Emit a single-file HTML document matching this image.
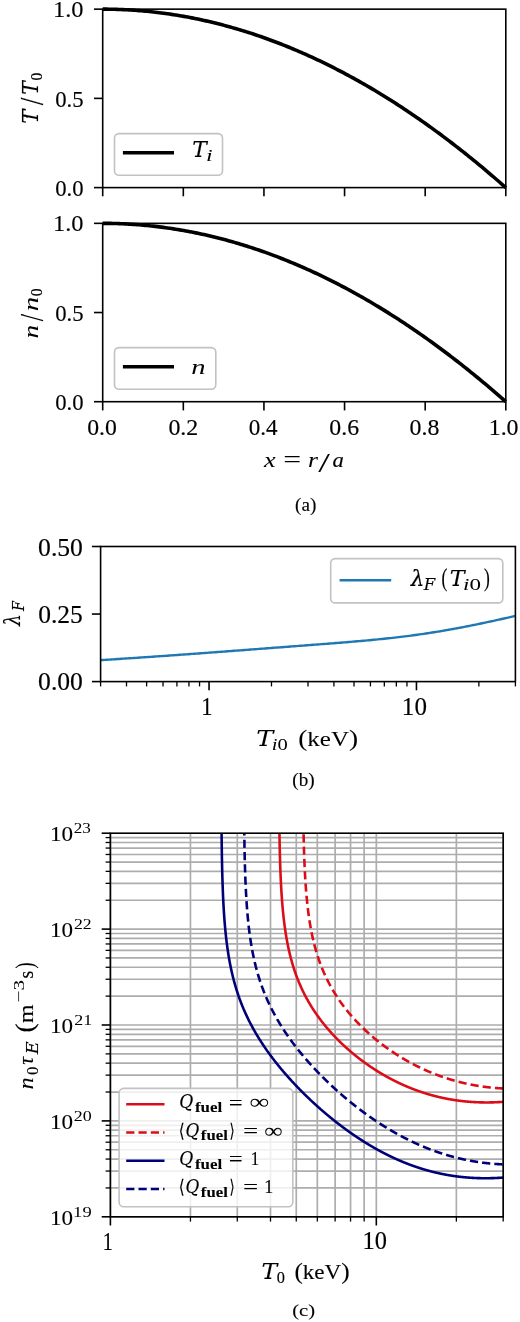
<!DOCTYPE html>
<html><head><meta charset="utf-8"><style>
html,body{margin:0;padding:0;background:#fff;}
svg{display:block;}
</style></head><body>
<svg width="520" height="1322" viewBox="0 0 520 1322">
<rect width="520" height="1322" fill="#fff"/>
<g clip-path="none">
<path d="M102.70,9.15 L104.73,9.15 L106.75,9.17 L108.78,9.19 L110.80,9.22 L112.83,9.26 L114.85,9.31 L116.88,9.37 L118.91,9.44 L120.93,9.52 L122.96,9.60 L124.98,9.70 L127.01,9.80 L129.03,9.91 L131.06,10.03 L133.08,10.16 L135.11,10.30 L137.14,10.45 L139.16,10.61 L141.19,10.78 L143.21,10.95 L145.24,11.14 L147.26,11.33 L149.29,11.53 L151.32,11.75 L153.34,11.97 L155.37,12.20 L157.39,12.44 L159.42,12.68 L161.44,12.94 L163.47,13.21 L165.49,13.48 L167.52,13.76 L169.55,14.06 L171.57,14.36 L173.60,14.67 L175.62,14.99 L177.65,15.32 L179.67,15.66 L181.70,16.00 L183.73,16.36 L185.75,16.72 L187.78,17.10 L189.80,17.48 L191.83,17.87 L193.85,18.28 L195.88,18.69 L197.90,19.10 L199.93,19.53 L201.96,19.97 L203.98,20.42 L206.01,20.87 L208.03,21.33 L210.06,21.81 L212.08,22.29 L214.11,22.78 L216.14,23.28 L218.16,23.79 L220.19,24.31 L222.21,24.84 L224.24,25.37 L226.26,25.92 L228.29,26.47 L230.31,27.04 L232.34,27.61 L234.37,28.19 L236.39,28.78 L238.42,29.38 L240.44,29.99 L242.47,30.60 L244.49,31.23 L246.52,31.87 L248.55,32.51 L250.57,33.16 L252.60,33.83 L254.62,34.50 L256.65,35.18 L258.67,35.87 L260.70,36.57 L262.72,37.27 L264.75,37.99 L266.78,38.72 L268.80,39.45 L270.83,40.19 L272.85,40.95 L274.88,41.71 L276.90,42.48 L278.93,43.26 L280.96,44.05 L282.98,44.84 L285.01,45.65 L287.03,46.47 L289.06,47.29 L291.08,48.12 L293.11,48.97 L295.13,49.82 L297.16,50.68 L299.19,51.55 L301.21,52.43 L303.24,53.32 L305.26,54.21 L307.29,55.12 L309.31,56.03 L311.34,56.96 L313.37,57.89 L315.39,58.83 L317.42,59.78 L319.44,60.74 L321.47,61.71 L323.49,62.69 L325.52,63.68 L327.54,64.67 L329.57,65.68 L331.60,66.69 L333.62,67.71 L335.65,68.74 L337.67,69.79 L339.70,70.84 L341.72,71.89 L343.75,72.96 L345.78,74.04 L347.80,75.13 L349.83,76.22 L351.85,77.32 L353.88,78.44 L355.90,79.56 L357.93,80.69 L359.95,81.83 L361.98,82.98 L364.01,84.14 L366.03,85.30 L368.06,86.48 L370.08,87.67 L372.11,88.86 L374.13,90.06 L376.16,91.28 L378.19,92.50 L380.21,93.73 L382.24,94.97 L384.26,96.21 L386.29,97.47 L388.31,98.74 L390.34,100.01 L392.36,101.30 L394.39,102.59 L396.42,103.89 L398.44,105.20 L400.47,106.52 L402.49,107.85 L404.52,109.19 L406.54,110.54 L408.57,111.90 L410.60,113.26 L412.62,114.64 L414.65,116.02 L416.67,117.41 L418.70,118.81 L420.72,120.22 L422.75,121.64 L424.77,123.07 L426.80,124.51 L428.83,125.96 L430.85,127.41 L432.88,128.88 L434.90,130.35 L436.93,131.83 L438.95,133.32 L440.98,134.82 L443.01,136.33 L445.03,137.85 L447.06,139.38 L449.08,140.92 L451.11,142.46 L453.13,144.02 L455.16,145.58 L457.18,147.15 L459.21,148.73 L461.24,150.32 L463.26,151.92 L465.29,153.53 L467.31,155.15 L469.34,156.78 L471.36,158.41 L473.39,160.06 L475.42,161.71 L477.44,163.37 L479.47,165.05 L481.49,166.73 L483.52,168.42 L485.54,170.12 L487.57,171.82 L489.59,173.54 L491.62,175.27 L493.65,177.00 L495.67,178.75 L497.70,180.50 L499.72,182.26 L501.75,184.03 L503.77,185.81 L505.80,187.60" fill="none" stroke="#000" stroke-width="3.6" stroke-linejoin="round" stroke-linecap="butt"/>
</g>
<rect x="102.70" y="9.15" width="403.10" height="178.45" fill="none" stroke="#000" stroke-width="1.6"/>
<line x1="94.00" y1="187.60" x2="102.70" y2="187.60" stroke="#000" stroke-width="1.6" />
<line x1="94.00" y1="98.38" x2="102.70" y2="98.38" stroke="#000" stroke-width="1.6" />
<line x1="94.00" y1="9.15" x2="102.70" y2="9.15" stroke="#000" stroke-width="1.6" />
<line x1="102.70" y1="187.60" x2="102.70" y2="196.30" stroke="#000" stroke-width="1.6" />
<line x1="183.32" y1="187.60" x2="183.32" y2="196.30" stroke="#000" stroke-width="1.6" />
<line x1="263.94" y1="187.60" x2="263.94" y2="196.30" stroke="#000" stroke-width="1.6" />
<line x1="344.56" y1="187.60" x2="344.56" y2="196.30" stroke="#000" stroke-width="1.6" />
<line x1="425.18" y1="187.60" x2="425.18" y2="196.30" stroke="#000" stroke-width="1.6" />
<line x1="505.80" y1="187.60" x2="505.80" y2="196.30" stroke="#000" stroke-width="1.6" />
<g clip-path="none">
<path d="M102.70,223.35 L104.73,223.35 L106.75,223.37 L108.78,223.39 L110.80,223.42 L112.83,223.46 L114.85,223.51 L116.88,223.57 L118.91,223.64 L120.93,223.71 L122.96,223.80 L124.98,223.89 L127.01,224.00 L129.03,224.11 L131.06,224.23 L133.08,224.36 L135.11,224.50 L137.14,224.65 L139.16,224.81 L141.19,224.98 L143.21,225.15 L145.24,225.34 L147.26,225.53 L149.29,225.73 L151.32,225.94 L153.34,226.16 L155.37,226.39 L157.39,226.63 L159.42,226.88 L161.44,227.14 L163.47,227.40 L165.49,227.68 L167.52,227.96 L169.55,228.25 L171.57,228.56 L173.60,228.87 L175.62,229.19 L177.65,229.52 L179.67,229.85 L181.70,230.20 L183.73,230.56 L185.75,230.92 L187.78,231.29 L189.80,231.68 L191.83,232.07 L193.85,232.47 L195.88,232.88 L197.90,233.30 L199.93,233.73 L201.96,234.16 L203.98,234.61 L206.01,235.06 L208.03,235.53 L210.06,236.00 L212.08,236.48 L214.11,236.97 L216.14,237.47 L218.16,237.98 L220.19,238.50 L222.21,239.03 L224.24,239.56 L226.26,240.11 L228.29,240.66 L230.31,241.23 L232.34,241.80 L234.37,242.38 L236.39,242.97 L238.42,243.57 L240.44,244.17 L242.47,244.79 L244.49,245.42 L246.52,246.05 L248.55,246.70 L250.57,247.35 L252.60,248.01 L254.62,248.68 L256.65,249.36 L258.67,250.05 L260.70,250.75 L262.72,251.46 L264.75,252.17 L266.78,252.90 L268.80,253.63 L270.83,254.38 L272.85,255.13 L274.88,255.89 L276.90,256.66 L278.93,257.44 L280.96,258.23 L282.98,259.02 L285.01,259.83 L287.03,260.64 L289.06,261.47 L291.08,262.30 L293.11,263.14 L295.13,264.00 L297.16,264.86 L299.19,265.73 L301.21,266.60 L303.24,267.49 L305.26,268.39 L307.29,269.29 L309.31,270.21 L311.34,271.13 L313.37,272.06 L315.39,273.00 L317.42,273.95 L319.44,274.91 L321.47,275.88 L323.49,276.86 L325.52,277.84 L327.54,278.84 L329.57,279.84 L331.60,280.86 L333.62,281.88 L335.65,282.91 L337.67,283.95 L339.70,285.00 L341.72,286.06 L343.75,287.13 L345.78,288.20 L347.80,289.29 L349.83,290.38 L351.85,291.49 L353.88,292.60 L355.90,293.72 L357.93,294.85 L359.95,295.99 L361.98,297.14 L364.01,298.30 L366.03,299.46 L368.06,300.64 L370.08,301.82 L372.11,303.02 L374.13,304.22 L376.16,305.43 L378.19,306.65 L380.21,307.88 L382.24,309.12 L384.26,310.37 L386.29,311.62 L388.31,312.89 L390.34,314.16 L392.36,315.45 L394.39,316.74 L396.42,318.04 L398.44,319.35 L400.47,320.67 L402.49,322.00 L404.52,323.34 L406.54,324.68 L408.57,326.04 L410.60,327.40 L412.62,328.78 L414.65,330.16 L416.67,331.55 L418.70,332.95 L420.72,334.36 L422.75,335.78 L424.77,337.21 L426.80,338.64 L428.83,340.09 L430.85,341.54 L432.88,343.01 L434.90,344.48 L436.93,345.96 L438.95,347.45 L440.98,348.95 L443.01,350.46 L445.03,351.98 L447.06,353.51 L449.08,355.04 L451.11,356.59 L453.13,358.14 L455.16,359.70 L457.18,361.28 L459.21,362.86 L461.24,364.45 L463.26,366.04 L465.29,367.65 L467.31,369.27 L469.34,370.89 L471.36,372.53 L473.39,374.17 L475.42,375.83 L477.44,377.49 L479.47,379.16 L481.49,380.84 L483.52,382.53 L485.54,384.23 L487.57,385.93 L489.59,387.65 L491.62,389.37 L493.65,391.11 L495.67,392.85 L497.70,394.60 L499.72,396.36 L501.75,398.13 L503.77,399.91 L505.80,401.70" fill="none" stroke="#000" stroke-width="3.6" stroke-linejoin="round" stroke-linecap="butt"/>
</g>
<rect x="102.70" y="223.35" width="403.10" height="178.35" fill="none" stroke="#000" stroke-width="1.6"/>
<line x1="94.00" y1="401.70" x2="102.70" y2="401.70" stroke="#000" stroke-width="1.6" />
<line x1="94.00" y1="312.52" x2="102.70" y2="312.52" stroke="#000" stroke-width="1.6" />
<line x1="94.00" y1="223.35" x2="102.70" y2="223.35" stroke="#000" stroke-width="1.6" />
<line x1="102.70" y1="401.70" x2="102.70" y2="410.40" stroke="#000" stroke-width="1.6" />
<line x1="183.32" y1="401.70" x2="183.32" y2="410.40" stroke="#000" stroke-width="1.6" />
<line x1="263.94" y1="401.70" x2="263.94" y2="410.40" stroke="#000" stroke-width="1.6" />
<line x1="344.56" y1="401.70" x2="344.56" y2="410.40" stroke="#000" stroke-width="1.6" />
<line x1="425.18" y1="401.70" x2="425.18" y2="410.40" stroke="#000" stroke-width="1.6" />
<line x1="505.80" y1="401.70" x2="505.80" y2="410.40" stroke="#000" stroke-width="1.6" />
<path d="M100.60,660.13 L102.68,660.00 L104.77,659.87 L106.85,659.74 L108.94,659.60 L111.02,659.47 L113.11,659.34 L115.19,659.20 L117.28,659.07 L119.36,658.93 L121.44,658.80 L123.53,658.66 L125.61,658.53 L127.70,658.39 L129.78,658.25 L131.87,658.11 L133.95,657.97 L136.04,657.83 L138.12,657.69 L140.20,657.55 L142.29,657.41 L144.37,657.27 L146.46,657.13 L148.54,656.99 L150.63,656.85 L152.71,656.70 L154.79,656.56 L156.88,656.41 L158.96,656.27 L161.05,656.12 L163.13,655.98 L165.22,655.83 L167.30,655.69 L169.39,655.54 L171.47,655.39 L173.55,655.24 L175.64,655.09 L177.72,654.95 L179.81,654.80 L181.89,654.65 L183.98,654.50 L186.06,654.35 L188.15,654.20 L190.23,654.05 L192.31,653.89 L194.40,653.74 L196.48,653.59 L198.57,653.44 L200.65,653.29 L202.74,653.13 L204.82,652.98 L206.91,652.83 L208.99,652.67 L211.07,652.52 L213.16,652.36 L215.24,652.21 L217.33,652.05 L219.41,651.90 L221.50,651.74 L223.58,651.59 L225.67,651.43 L227.75,651.27 L229.83,651.12 L231.92,650.96 L234.00,650.81 L236.09,650.65 L238.17,650.49 L240.26,650.33 L242.34,650.18 L244.43,650.02 L246.51,649.86 L248.59,649.71 L250.68,649.55 L252.76,649.39 L254.85,649.23 L256.93,649.08 L259.02,648.92 L261.10,648.76 L263.18,648.60 L265.27,648.45 L267.35,648.29 L269.44,648.13 L271.52,647.97 L273.61,647.81 L275.69,647.66 L277.78,647.50 L279.86,647.34 L281.94,647.18 L284.03,647.03 L286.11,646.87 L288.20,646.71 L290.28,646.55 L292.37,646.40 L294.45,646.24 L296.54,646.08 L298.62,645.92 L300.70,645.76 L302.79,645.61 L304.87,645.45 L306.96,645.29 L309.04,645.13 L311.13,644.97 L313.21,644.81 L315.30,644.65 L317.38,644.49 L319.46,644.33 L321.55,644.17 L323.63,644.01 L325.72,643.85 L327.80,643.69 L329.89,643.53 L331.97,643.36 L334.06,643.20 L336.14,643.03 L338.22,642.87 L340.31,642.70 L342.39,642.53 L344.48,642.36 L346.56,642.19 L348.65,642.02 L350.73,641.84 L352.82,641.67 L354.90,641.49 L356.98,641.31 L359.07,641.13 L361.15,640.94 L363.24,640.76 L365.32,640.57 L367.41,640.38 L369.49,640.19 L371.57,639.99 L373.66,639.79 L375.74,639.59 L377.83,639.38 L379.91,639.17 L382.00,638.96 L384.08,638.75 L386.17,638.53 L388.25,638.30 L390.33,638.08 L392.42,637.85 L394.50,637.61 L396.59,637.37 L398.67,637.13 L400.76,636.88 L402.84,636.63 L404.93,636.37 L407.01,636.11 L409.09,635.84 L411.18,635.57 L413.26,635.29 L415.35,635.01 L417.43,634.72 L419.52,634.43 L421.60,634.13 L423.69,633.83 L425.77,633.52 L427.85,633.21 L429.94,632.89 L432.02,632.56 L434.11,632.23 L436.19,631.90 L438.28,631.56 L440.36,631.21 L442.45,630.86 L444.53,630.51 L446.61,630.14 L448.70,629.78 L450.78,629.41 L452.87,629.03 L454.95,628.65 L457.04,628.26 L459.12,627.87 L461.21,627.48 L463.29,627.08 L465.37,626.67 L467.46,626.26 L469.54,625.85 L471.63,625.43 L473.71,625.01 L475.80,624.58 L477.88,624.16 L479.96,623.72 L482.05,623.29 L484.13,622.85 L486.22,622.40 L488.30,621.95 L490.39,621.50 L492.47,621.05 L494.56,620.59 L496.64,620.14 L498.72,619.67 L500.81,619.21 L502.89,618.74 L504.98,618.27 L507.06,617.80 L509.15,617.33 L511.23,616.85 L513.32,616.37 L515.40,615.89" fill="none" stroke="#1f77b4" stroke-width="2.4" stroke-linejoin="round" />
<rect x="100.60" y="546.50" width="414.80" height="135.10" fill="none" stroke="#000" stroke-width="1.6"/>
<line x1="91.90" y1="681.60" x2="100.60" y2="681.60" stroke="#000" stroke-width="1.6" />
<line x1="91.90" y1="614.05" x2="100.60" y2="614.05" stroke="#000" stroke-width="1.6" />
<line x1="91.90" y1="546.50" x2="100.60" y2="546.50" stroke="#000" stroke-width="1.6" />
<line x1="209.05" y1="681.60" x2="209.05" y2="690.30" stroke="#000" stroke-width="1.6" />
<line x1="416.45" y1="681.60" x2="416.45" y2="690.30" stroke="#000" stroke-width="1.6" />
<line x1="100.60" y1="681.60" x2="100.60" y2="686.40" stroke="#000" stroke-width="1.3" />
<line x1="126.51" y1="681.60" x2="126.51" y2="686.40" stroke="#000" stroke-width="1.3" />
<line x1="146.61" y1="681.60" x2="146.61" y2="686.40" stroke="#000" stroke-width="1.3" />
<line x1="163.03" y1="681.60" x2="163.03" y2="686.40" stroke="#000" stroke-width="1.3" />
<line x1="176.92" y1="681.60" x2="176.92" y2="686.40" stroke="#000" stroke-width="1.3" />
<line x1="188.95" y1="681.60" x2="188.95" y2="686.40" stroke="#000" stroke-width="1.3" />
<line x1="199.55" y1="681.60" x2="199.55" y2="686.40" stroke="#000" stroke-width="1.3" />
<line x1="271.48" y1="681.60" x2="271.48" y2="686.40" stroke="#000" stroke-width="1.3" />
<line x1="308.00" y1="681.60" x2="308.00" y2="686.40" stroke="#000" stroke-width="1.3" />
<line x1="333.91" y1="681.60" x2="333.91" y2="686.40" stroke="#000" stroke-width="1.3" />
<line x1="354.01" y1="681.60" x2="354.01" y2="686.40" stroke="#000" stroke-width="1.3" />
<line x1="370.43" y1="681.60" x2="370.43" y2="686.40" stroke="#000" stroke-width="1.3" />
<line x1="384.32" y1="681.60" x2="384.32" y2="686.40" stroke="#000" stroke-width="1.3" />
<line x1="396.35" y1="681.60" x2="396.35" y2="686.40" stroke="#000" stroke-width="1.3" />
<line x1="406.95" y1="681.60" x2="406.95" y2="686.40" stroke="#000" stroke-width="1.3" />
<line x1="478.88" y1="681.60" x2="478.88" y2="686.40" stroke="#000" stroke-width="1.3" />
<line x1="515.40" y1="681.60" x2="515.40" y2="686.40" stroke="#000" stroke-width="1.3" />
<g>
<line x1="110.40" y1="833.20" x2="110.40" y2="1216.80" stroke="#adadad" stroke-width="1.7" />
<line x1="190.45" y1="833.20" x2="190.45" y2="1216.80" stroke="#adadad" stroke-width="1.7" />
<line x1="237.28" y1="833.20" x2="237.28" y2="1216.80" stroke="#adadad" stroke-width="1.7" />
<line x1="270.50" y1="833.20" x2="270.50" y2="1216.80" stroke="#adadad" stroke-width="1.7" />
<line x1="296.27" y1="833.20" x2="296.27" y2="1216.80" stroke="#adadad" stroke-width="1.7" />
<line x1="317.33" y1="833.20" x2="317.33" y2="1216.80" stroke="#adadad" stroke-width="1.7" />
<line x1="335.13" y1="833.20" x2="335.13" y2="1216.80" stroke="#adadad" stroke-width="1.7" />
<line x1="350.55" y1="833.20" x2="350.55" y2="1216.80" stroke="#adadad" stroke-width="1.7" />
<line x1="364.15" y1="833.20" x2="364.15" y2="1216.80" stroke="#adadad" stroke-width="1.7" />
<line x1="376.32" y1="833.20" x2="376.32" y2="1216.80" stroke="#adadad" stroke-width="1.7" />
<line x1="456.37" y1="833.20" x2="456.37" y2="1216.80" stroke="#adadad" stroke-width="1.7" />
<line x1="503.20" y1="833.20" x2="503.20" y2="1216.80" stroke="#adadad" stroke-width="1.7" />
<line x1="110.40" y1="1216.80" x2="503.20" y2="1216.80" stroke="#adadad" stroke-width="1.7" />
<line x1="110.40" y1="1187.93" x2="503.20" y2="1187.93" stroke="#adadad" stroke-width="1.7" />
<line x1="110.40" y1="1171.04" x2="503.20" y2="1171.04" stroke="#adadad" stroke-width="1.7" />
<line x1="110.40" y1="1159.06" x2="503.20" y2="1159.06" stroke="#adadad" stroke-width="1.7" />
<line x1="110.40" y1="1149.77" x2="503.20" y2="1149.77" stroke="#adadad" stroke-width="1.7" />
<line x1="110.40" y1="1142.18" x2="503.20" y2="1142.18" stroke="#adadad" stroke-width="1.7" />
<line x1="110.40" y1="1135.76" x2="503.20" y2="1135.76" stroke="#adadad" stroke-width="1.7" />
<line x1="110.40" y1="1130.19" x2="503.20" y2="1130.19" stroke="#adadad" stroke-width="1.7" />
<line x1="110.40" y1="1125.29" x2="503.20" y2="1125.29" stroke="#adadad" stroke-width="1.7" />
<line x1="110.40" y1="1120.90" x2="503.20" y2="1120.90" stroke="#adadad" stroke-width="1.7" />
<line x1="110.40" y1="1092.03" x2="503.20" y2="1092.03" stroke="#adadad" stroke-width="1.7" />
<line x1="110.40" y1="1075.14" x2="503.20" y2="1075.14" stroke="#adadad" stroke-width="1.7" />
<line x1="110.40" y1="1063.16" x2="503.20" y2="1063.16" stroke="#adadad" stroke-width="1.7" />
<line x1="110.40" y1="1053.87" x2="503.20" y2="1053.87" stroke="#adadad" stroke-width="1.7" />
<line x1="110.40" y1="1046.28" x2="503.20" y2="1046.28" stroke="#adadad" stroke-width="1.7" />
<line x1="110.40" y1="1039.86" x2="503.20" y2="1039.86" stroke="#adadad" stroke-width="1.7" />
<line x1="110.40" y1="1034.29" x2="503.20" y2="1034.29" stroke="#adadad" stroke-width="1.7" />
<line x1="110.40" y1="1029.39" x2="503.20" y2="1029.39" stroke="#adadad" stroke-width="1.7" />
<line x1="110.40" y1="1025.00" x2="503.20" y2="1025.00" stroke="#adadad" stroke-width="1.7" />
<line x1="110.40" y1="996.13" x2="503.20" y2="996.13" stroke="#adadad" stroke-width="1.7" />
<line x1="110.40" y1="979.24" x2="503.20" y2="979.24" stroke="#adadad" stroke-width="1.7" />
<line x1="110.40" y1="967.26" x2="503.20" y2="967.26" stroke="#adadad" stroke-width="1.7" />
<line x1="110.40" y1="957.97" x2="503.20" y2="957.97" stroke="#adadad" stroke-width="1.7" />
<line x1="110.40" y1="950.38" x2="503.20" y2="950.38" stroke="#adadad" stroke-width="1.7" />
<line x1="110.40" y1="943.96" x2="503.20" y2="943.96" stroke="#adadad" stroke-width="1.7" />
<line x1="110.40" y1="938.39" x2="503.20" y2="938.39" stroke="#adadad" stroke-width="1.7" />
<line x1="110.40" y1="933.49" x2="503.20" y2="933.49" stroke="#adadad" stroke-width="1.7" />
<line x1="110.40" y1="929.10" x2="503.20" y2="929.10" stroke="#adadad" stroke-width="1.7" />
<line x1="110.40" y1="900.23" x2="503.20" y2="900.23" stroke="#adadad" stroke-width="1.7" />
<line x1="110.40" y1="883.34" x2="503.20" y2="883.34" stroke="#adadad" stroke-width="1.7" />
<line x1="110.40" y1="871.36" x2="503.20" y2="871.36" stroke="#adadad" stroke-width="1.7" />
<line x1="110.40" y1="862.07" x2="503.20" y2="862.07" stroke="#adadad" stroke-width="1.7" />
<line x1="110.40" y1="854.48" x2="503.20" y2="854.48" stroke="#adadad" stroke-width="1.7" />
<line x1="110.40" y1="848.06" x2="503.20" y2="848.06" stroke="#adadad" stroke-width="1.7" />
<line x1="110.40" y1="842.49" x2="503.20" y2="842.49" stroke="#adadad" stroke-width="1.7" />
<line x1="110.40" y1="837.59" x2="503.20" y2="837.59" stroke="#adadad" stroke-width="1.7" />
</g>
<clipPath id="cc"><rect x="110.4" y="833.2" width="392.79999999999995" height="383.5999999999999"/></clipPath>
<path d="M279.10,800.91 L279.23,815.88 L279.36,826.89 L279.49,835.60 L279.62,842.82 L279.75,848.98 L279.88,854.36 L280.02,859.13 L280.15,863.42 L280.28,867.31 L280.41,870.88 L280.54,874.18 L280.67,877.24 L280.80,880.09 L280.93,882.77 L281.06,885.29 L281.19,887.67 L281.32,889.93 L281.46,892.08 L281.59,894.12 L281.72,896.07 L281.85,897.94 L281.98,899.73 L282.11,901.46 L282.24,903.11 L282.37,904.71 L282.50,906.25 L282.63,907.74 L282.77,909.18 L282.90,910.58 L283.03,911.93 L283.16,913.24 L283.29,914.52 L283.42,915.76 L283.55,916.97 L283.68,918.14 L283.81,919.29 L283.94,920.40 L284.08,921.50 L284.21,922.56 L284.34,923.60 L284.47,924.62 L284.60,925.61 L284.73,926.58 L284.86,927.54 L284.99,928.47 L285.12,929.39 L285.25,930.28 L285.39,931.16 L285.52,932.03 L285.65,932.88 L285.78,933.71 L285.91,934.53 L286.04,935.33 L286.17,936.12 L286.30,936.90 L286.43,937.66 L286.56,938.41 L286.70,939.15 L286.83,939.88 L286.96,940.60 L287.09,941.31 L287.22,942.01 L287.35,942.69 L287.48,943.37 L287.61,944.04 L287.74,944.70 L287.87,945.35 L288.00,945.99 L288.14,946.62 L288.27,947.24 L288.40,947.86 L288.53,948.47 L288.66,949.07 L288.79,949.66 L288.92,950.25 L289.05,950.83 L289.18,951.40 L289.31,951.97 L289.45,952.53 L289.58,953.08 L289.71,953.63 L289.84,954.17 L289.97,954.70 L290.10,955.23 L290.23,955.76 L290.36,956.28 L290.49,956.79 L290.62,957.30 L290.76,957.80 L290.89,958.30 L291.02,958.79 L291.15,959.28 L291.28,959.76 L291.41,960.24 L291.54,960.72 L291.67,961.19 L291.80,961.65 L291.93,962.11 L292.07,962.57 L292.20,963.02 L292.33,963.47 L292.46,963.92 L292.59,964.36 L292.72,964.80 L292.85,965.23 L292.98,965.66 L293.11,966.09 L293.24,966.51 L293.37,966.93 L293.51,967.35 L293.64,967.76 L293.77,968.18 L293.90,968.58 L294.03,968.99 L294.16,969.39 L294.29,969.78 L294.42,970.18 L294.55,970.57 L294.68,970.96 L294.82,971.35 L294.95,971.73 L295.08,972.11 L295.21,972.49 L295.34,972.86 L295.47,973.24 L295.60,973.61 L295.73,973.98 L295.86,974.34 L295.99,974.70 L296.13,975.06 L296.26,975.42 L296.39,975.78 L296.52,976.13 L296.65,976.48 L296.78,976.83 L296.91,977.18 L297.04,977.52 L297.17,977.86 L297.30,978.20 L297.44,978.54 L297.57,978.88 L297.70,979.21 L297.83,979.54 L297.96,979.87 L298.09,980.20 L298.22,980.53 L298.35,980.85 L298.48,981.17 L298.61,981.49 L298.74,981.81 L298.88,982.13 L299.01,982.44 L299.14,982.76 L299.27,983.07 L299.40,983.38 L299.53,983.69 L299.66,983.99 L299.79,984.30 L299.92,984.60 L300.05,984.90 L300.19,985.20 L300.32,985.50 L300.45,985.80 L300.58,986.09 L300.71,986.39 L300.84,986.68 L300.97,986.97 L301.10,987.26 L301.23,987.55 L301.36,987.84 L301.50,988.12 L301.63,988.41 L301.76,988.69 L301.89,988.97 L302.02,989.25 L302.15,989.53 L302.28,989.80 L302.41,990.08 L302.54,990.35 L302.67,990.63 L302.81,990.90 L302.94,991.17 L303.07,991.44 L303.20,991.71 L303.33,991.98 L303.46,992.24 L303.59,992.51 L303.72,992.77 L303.85,993.03 L303.98,993.29 L304.11,993.55 L304.25,993.81 L304.38,994.07 L304.51,994.33 L304.64,994.58 L304.77,994.84 L304.90,995.09 L305.03,995.34 L305.16,995.59 L305.29,995.84 L305.42,996.09 L305.56,996.34 L305.69,996.59 L305.82,996.84 L305.95,997.08 L306.08,997.33 L306.21,997.57 L306.34,997.81 L306.47,998.05 L306.60,998.29 L306.73,998.53 L306.87,998.77 L307.00,999.01 L307.13,999.25 L307.26,999.48 L307.39,999.72 L307.52,999.95 L307.65,1000.19 L307.78,1000.42 L307.91,1000.65 L308.04,1000.88 L308.18,1001.11 L308.31,1001.34 L308.44,1001.57 L308.57,1001.80 L308.70,1002.02 L308.83,1002.25 L308.96,1002.47 L309.09,1002.70 L309.22,1002.92 L309.35,1003.14 L309.49,1003.37 L309.62,1003.59 L309.75,1003.81 L309.88,1004.03 L310.01,1004.25 L310.14,1004.46 L310.27,1004.68 L310.40,1004.90 L310.53,1005.11 L310.66,1005.33 L310.79,1005.54 L310.93,1005.76 L311.06,1005.97 L311.19,1006.18 L311.32,1006.39 L311.45,1006.61 L311.58,1006.82 L311.71,1007.03 L311.84,1007.23 L311.97,1007.44 L312.10,1007.65 L312.24,1007.86 L312.37,1008.06 L312.50,1008.27 L312.63,1008.47 L312.76,1008.68 L312.89,1008.88 L313.02,1009.09 L313.15,1009.29 L313.28,1009.49 L313.41,1009.69 L313.55,1009.89 L313.68,1010.09 L313.81,1010.29 L313.94,1010.49 L314.07,1010.69 L314.20,1010.89 L314.33,1011.08 L314.46,1011.28 L314.59,1011.48 L314.72,1011.67 L314.86,1011.87 L314.99,1012.06 L315.12,1012.25 L315.25,1012.45 L315.38,1012.64 L315.51,1012.83 L315.64,1013.02 L315.77,1013.21 L315.90,1013.41 L316.03,1013.60 L316.16,1013.78 L316.30,1013.97 L316.43,1014.16 L316.56,1014.35 L316.69,1014.54 L316.82,1014.72 L316.95,1014.91 L317.08,1015.10 L317.21,1015.28 L317.34,1015.47 L317.47,1015.65 L317.61,1015.83 L317.74,1016.02 L317.87,1016.20 L318.00,1016.38 L318.13,1016.56 L318.26,1016.74 L318.39,1016.93 L318.52,1017.11 L318.65,1017.29 L318.78,1017.47 L318.92,1017.64 L319.05,1017.82 L319.18,1018.00 L319.31,1018.18 L319.44,1018.36 L319.57,1018.53 L319.70,1018.71 L319.83,1018.88 L319.96,1019.06 L320.09,1019.24 L320.23,1019.41 L320.36,1019.58 L320.49,1019.76 L320.62,1019.93 L320.75,1020.10 L320.88,1020.28 L321.01,1020.45 L321.14,1020.62 L321.27,1020.79 L321.40,1020.96 L321.53,1021.13 L321.67,1021.30 L321.80,1021.47 L321.93,1021.64 L322.06,1021.81 L322.19,1021.98 L322.32,1022.14 L322.45,1022.31 L322.58,1022.48 L322.71,1022.65 L322.84,1022.81 L322.98,1022.98 L323.11,1023.14 L323.24,1023.31 L323.37,1023.47 L323.50,1023.64 L323.63,1023.80 L323.76,1023.96 L323.89,1024.13 L324.02,1024.29 L324.15,1024.45 L324.29,1024.62 L324.42,1024.78 L324.55,1024.94 L324.68,1025.10 L324.81,1025.26 L324.94,1025.42 L325.07,1025.58 L325.20,1025.74 L325.33,1025.90 L325.46,1026.06 L325.60,1026.22 L325.73,1026.38 L325.86,1026.53 L325.99,1026.69 L326.12,1026.85 L326.25,1027.00 L326.38,1027.16 L326.51,1027.32 L326.64,1027.47 L326.77,1027.63 L326.90,1027.78 L327.04,1027.94 L327.17,1028.09 L327.30,1028.25 L327.43,1028.40 L327.56,1028.55 L327.69,1028.71 L327.82,1028.86 L327.95,1029.01 L328.08,1029.17 L328.21,1029.32 L328.35,1029.47 L328.48,1029.62 L328.61,1029.77 L328.74,1029.92 L328.87,1030.07 L329.00,1030.22 L329.13,1030.37 L329.26,1030.52 L329.39,1030.67 L329.52,1030.82 L329.66,1030.97 L329.79,1031.12 L329.92,1031.26 L330.05,1031.41 L330.18,1031.56 L330.31,1031.71 L330.44,1031.85 L330.57,1032.00 L330.70,1032.14 L330.83,1032.29 L330.97,1032.44 L331.10,1032.58 L331.23,1032.73 L331.36,1032.87 L331.49,1033.02 L331.62,1033.16 L331.75,1033.30 L331.88,1033.45 L332.01,1033.59 L332.14,1033.73 L332.28,1033.88 L332.41,1034.02 L332.54,1034.16 L332.67,1034.30 L332.80,1034.44 L332.93,1034.59 L333.06,1034.73 L333.19,1034.87 L333.32,1035.01 L333.45,1035.15 L333.58,1035.29 L333.72,1035.43 L333.85,1035.57 L333.98,1035.71 L334.11,1035.85 L334.24,1035.98 L334.37,1036.12 L334.50,1036.26 L334.63,1036.40 L334.76,1036.54 L334.89,1036.67 L335.03,1036.81 L335.16,1036.95 L335.29,1037.08 L335.42,1037.22 L335.55,1037.36 L335.68,1037.49 L335.81,1037.63 L335.94,1037.76 L336.07,1037.90 L336.20,1038.03 L336.34,1038.17 L336.47,1038.30 L336.60,1038.44 L336.73,1038.57 L336.86,1038.70 L336.99,1038.84 L337.12,1038.97 L337.25,1039.10 L337.38,1039.24 L337.51,1039.37 L337.65,1039.50 L337.78,1039.63 L337.91,1039.77 L338.04,1039.90 L338.17,1040.03 L338.30,1040.16 L338.43,1040.29 L338.56,1040.42 L338.69,1040.55 L338.82,1040.68 L338.95,1040.81 L339.09,1040.94 L339.22,1041.07 L339.35,1041.20 L339.48,1041.33 L339.61,1041.46 L339.74,1041.59 L339.87,1041.71 L340.00,1041.84 L340.13,1041.97 L340.26,1042.10 L340.40,1042.23 L340.53,1042.35 L340.66,1042.48 L340.79,1042.61 L340.92,1042.73 L341.05,1042.86 L341.18,1042.99 L341.31,1043.11 L341.44,1043.24 L341.57,1043.36 L341.71,1043.49 L341.84,1043.61 L341.97,1043.74 L342.10,1043.86 L342.23,1043.99 L342.36,1044.11 L342.49,1044.24 L342.62,1044.36 L342.75,1044.48 L342.88,1044.61 L343.02,1044.73 L343.15,1044.85 L343.28,1044.97 L343.41,1045.10 L343.54,1045.22 L343.67,1045.34 L343.80,1045.46 L343.93,1045.59 L344.06,1045.71 L344.19,1045.83 L344.32,1045.95 L344.46,1046.07 L344.59,1046.19 L344.72,1046.31 L344.85,1046.43 L344.98,1046.55 L345.11,1046.67 L345.24,1046.79 L345.37,1046.91 L345.50,1047.03 L345.63,1047.15 L345.77,1047.27 L345.90,1047.39 L346.03,1047.51 L346.16,1047.62 L346.29,1047.74 L346.42,1047.86 L346.55,1047.98 L346.68,1048.10 L346.81,1048.21 L346.94,1048.33 L347.08,1048.45 L347.21,1048.56 L347.34,1048.68 L347.47,1048.80 L347.60,1048.91 L347.73,1049.03 L347.86,1049.15 L347.99,1049.26 L348.12,1049.38 L348.25,1049.49 L348.39,1049.61 L348.52,1049.72 L348.65,1049.84 L348.78,1049.95 L348.91,1050.07 L349.04,1050.18 L349.17,1050.29 L349.30,1050.41 L349.43,1050.52 L349.56,1050.63 L349.69,1050.75 L349.83,1050.86 L349.96,1050.97 L350.09,1051.09 L350.22,1051.20 L350.35,1051.31 L350.48,1051.42 L350.61,1051.54 L350.74,1051.65 L350.87,1051.76 L351.00,1051.87 L351.14,1051.98 L351.27,1052.09 L351.40,1052.20 L351.53,1052.32 L351.66,1052.43 L351.79,1052.54 L351.92,1052.65 L352.05,1052.76 L352.18,1052.87 L352.31,1052.98 L352.45,1053.09 L352.58,1053.20 L352.71,1053.31 L352.84,1053.41 L352.97,1053.52 L353.10,1053.63 L353.23,1053.74 L353.36,1053.85 L353.49,1053.96 L353.62,1054.07 L353.76,1054.17 L353.89,1054.28 L354.02,1054.39 L354.15,1054.50 L354.28,1054.60 L354.41,1054.71 L354.54,1054.82 L354.67,1054.92 L354.80,1055.03 L354.93,1055.14 L355.07,1055.24 L355.20,1055.35 L355.33,1055.45 L355.46,1055.56 L355.59,1055.67 L355.72,1055.77 L355.85,1055.88 L355.98,1055.98 L356.11,1056.09 L356.24,1056.19 L356.37,1056.30 L356.51,1056.40 L356.64,1056.50 L356.77,1056.61 L356.90,1056.71 L357.03,1056.82 L357.16,1056.92 L357.29,1057.02 L357.42,1057.13 L357.55,1057.23 L357.68,1057.33 L357.82,1057.44 L357.95,1057.54 L358.08,1057.64 L358.21,1057.74 L358.34,1057.85 L358.47,1057.95 L358.60,1058.05 L358.73,1058.15 L358.86,1058.25 L358.99,1058.35 L359.13,1058.46 L359.26,1058.56 L359.39,1058.66 L359.52,1058.76 L359.65,1058.86 L359.78,1058.96 L359.91,1059.06 L360.04,1059.16 L360.17,1059.26 L360.30,1059.36 L360.44,1059.46 L360.57,1059.56 L360.70,1059.66 L360.83,1059.76 L360.96,1059.86 L361.09,1059.96 L361.22,1060.06 L361.35,1060.15 L361.48,1060.25 L361.61,1060.35 L361.74,1060.45 L361.88,1060.55 L362.01,1060.65 L362.14,1060.74 L362.27,1060.84 L362.40,1060.94 L362.53,1061.04 L362.66,1061.13 L362.79,1061.23 L362.92,1061.33 L363.05,1061.42 L363.19,1061.52 L363.32,1061.62 L363.45,1061.71 L363.58,1061.81 L363.71,1061.91 L363.84,1062.00 L363.97,1062.10 L364.10,1062.19 L364.23,1062.29 L364.36,1062.38 L364.50,1062.48 L364.63,1062.57 L364.76,1062.67 L364.89,1062.76 L365.02,1062.86 L365.15,1062.95 L365.28,1063.05 L365.41,1063.14 L365.54,1063.23 L365.67,1063.33 L365.81,1063.42 L365.94,1063.52 L366.07,1063.61 L366.20,1063.70 L366.33,1063.80 L366.46,1063.89 L366.59,1063.98 L366.72,1064.07 L366.85,1064.17 L366.98,1064.26 L367.11,1064.35 L367.25,1064.44 L367.38,1064.54 L367.51,1064.63 L367.64,1064.72 L367.77,1064.81 L367.90,1064.90 L368.03,1064.99 L368.16,1065.08 L368.29,1065.18 L368.42,1065.27 L368.56,1065.36 L368.69,1065.45 L368.82,1065.54 L368.95,1065.63 L369.08,1065.72 L369.21,1065.81 L369.34,1065.90 L369.47,1065.99 L369.60,1066.08 L369.73,1066.17 L369.87,1066.26 L370.00,1066.35 L370.13,1066.44 L370.26,1066.52 L370.39,1066.61 L370.52,1066.70 L370.65,1066.79 L370.78,1066.88 L370.91,1066.97 L371.04,1067.06 L371.18,1067.14 L371.31,1067.23 L371.44,1067.32 L371.57,1067.41 L371.70,1067.49 L371.83,1067.58 L371.96,1067.67 L372.09,1067.76 L372.22,1067.84 L372.35,1067.93 L372.48,1068.02 L372.62,1068.10 L372.75,1068.19 L372.88,1068.28 L373.01,1068.36 L373.14,1068.45 L373.27,1068.53 L373.40,1068.62 L373.53,1068.70 L373.66,1068.79 L373.79,1068.88 L373.93,1068.96 L374.06,1069.05 L374.19,1069.13 L374.32,1069.22 L374.45,1069.30 L374.58,1069.38 L374.71,1069.47 L374.84,1069.55 L374.97,1069.64 L375.10,1069.72 L375.24,1069.81 L375.37,1069.89 L375.50,1069.97 L375.63,1070.06 L375.76,1070.14 L375.89,1070.22 L376.02,1070.31 L376.15,1070.39 L376.28,1070.47 L376.41,1070.56 L376.55,1070.64 L376.68,1070.72 L376.81,1070.80 L376.94,1070.88 L377.07,1070.97 L377.20,1071.05 L377.33,1071.13 L377.46,1071.21 L377.59,1071.29 L377.72,1071.38 L377.86,1071.46 L377.99,1071.54 L378.12,1071.62 L378.25,1071.70 L378.38,1071.78 L378.51,1071.86 L378.64,1071.94 L378.77,1072.02 L378.90,1072.10 L379.03,1072.18 L379.16,1072.26 L379.30,1072.34 L379.43,1072.42 L379.56,1072.50 L379.69,1072.58 L379.82,1072.66 L379.95,1072.74 L380.08,1072.82 L380.21,1072.90 L380.34,1072.98 L380.47,1073.06 L380.61,1073.14 L380.74,1073.21 L380.87,1073.29 L381.00,1073.37 L381.13,1073.45 L381.26,1073.53 L381.39,1073.61 L381.52,1073.68 L381.65,1073.76 L381.78,1073.84 L381.92,1073.92 L382.05,1073.99 L382.18,1074.07 L382.31,1074.15 L382.44,1074.22 L382.57,1074.30 L382.70,1074.38 L382.83,1074.45 L382.96,1074.53 L383.09,1074.61 L383.23,1074.68 L383.36,1074.76 L383.49,1074.84 L383.62,1074.91 L383.75,1074.99 L383.88,1075.06 L384.01,1075.14 L384.14,1075.21 L384.27,1075.29 L384.40,1075.36 L384.53,1075.44 L384.67,1075.51 L384.80,1075.59 L384.93,1075.66 L385.06,1075.74 L385.19,1075.81 L385.32,1075.89 L385.45,1075.96 L385.58,1076.04 L385.71,1076.11 L385.84,1076.18 L385.98,1076.26 L386.11,1076.33 L386.24,1076.40 L386.37,1076.48 L386.50,1076.55 L386.63,1076.62 L386.76,1076.70 L386.89,1076.77 L387.02,1076.84 L387.15,1076.91 L387.29,1076.99 L387.42,1077.06 L387.55,1077.13 L387.68,1077.20 L387.81,1077.28 L387.94,1077.35 L388.07,1077.42 L388.20,1077.49 L388.33,1077.56 L388.46,1077.63 L388.60,1077.71 L388.73,1077.78 L388.86,1077.85 L388.99,1077.92 L389.12,1077.99 L389.25,1078.06 L389.38,1078.13 L389.51,1078.20 L389.64,1078.27 L389.77,1078.34 L389.90,1078.41 L390.04,1078.48 L390.17,1078.55 L390.30,1078.62 L390.43,1078.69 L390.56,1078.76 L390.69,1078.83 L390.82,1078.90 L390.95,1078.97 L391.08,1079.04 L391.21,1079.11 L391.35,1079.18 L391.48,1079.24 L391.61,1079.31 L391.74,1079.38 L391.87,1079.45 L392.00,1079.52 L392.13,1079.59 L392.26,1079.65 L392.39,1079.72 L392.52,1079.79 L392.66,1079.86 L392.79,1079.92 L392.92,1079.99 L393.05,1080.06 L393.18,1080.13 L393.31,1080.19 L393.44,1080.26 L393.57,1080.33 L393.70,1080.39 L393.83,1080.46 L393.97,1080.53 L394.10,1080.59 L394.23,1080.66 L394.36,1080.73 L394.49,1080.79 L394.62,1080.86 L394.75,1080.92 L394.88,1080.99 L395.01,1081.06 L395.14,1081.12 L395.27,1081.19 L395.41,1081.25 L395.54,1081.32 L395.67,1081.38 L395.80,1081.45 L395.93,1081.51 L396.06,1081.58 L396.19,1081.64 L396.32,1081.71 L396.45,1081.77 L396.58,1081.83 L396.72,1081.90 L396.85,1081.96 L396.98,1082.03 L397.11,1082.09 L397.24,1082.15 L397.37,1082.22 L397.50,1082.28 L397.63,1082.34 L397.76,1082.41 L397.89,1082.47 L398.03,1082.53 L398.16,1082.60 L398.29,1082.66 L398.42,1082.72 L398.55,1082.78 L398.68,1082.85 L398.81,1082.91 L398.94,1082.97 L399.07,1083.03 L399.20,1083.10 L399.34,1083.16 L399.47,1083.22 L399.60,1083.28 L399.73,1083.34 L399.86,1083.40 L399.99,1083.47 L400.12,1083.53 L400.25,1083.59 L400.38,1083.65 L400.51,1083.71 L400.65,1083.77 L400.78,1083.83 L400.91,1083.89 L401.04,1083.95 L401.17,1084.01 L401.30,1084.07 L401.43,1084.13 L401.56,1084.19 L401.69,1084.25 L401.82,1084.31 L401.95,1084.37 L402.09,1084.43 L402.22,1084.49 L402.35,1084.55 L402.48,1084.61 L402.61,1084.67 L402.74,1084.73 L402.87,1084.79 L403.00,1084.85 L403.13,1084.90 L403.26,1084.96 L403.40,1085.02 L403.53,1085.08 L403.66,1085.14 L403.79,1085.20 L403.92,1085.25 L404.05,1085.31 L404.18,1085.37 L404.31,1085.43 L404.44,1085.48 L404.57,1085.54 L404.71,1085.60 L404.84,1085.66 L404.97,1085.71 L405.10,1085.77 L405.23,1085.83 L405.36,1085.88 L405.49,1085.94 L405.62,1086.00 L405.75,1086.05 L405.88,1086.11 L406.02,1086.17 L406.15,1086.22 L406.28,1086.28 L406.41,1086.34 L406.54,1086.39 L406.67,1086.45 L406.80,1086.50 L406.93,1086.56 L407.06,1086.61 L407.19,1086.67 L407.32,1086.72 L407.46,1086.78 L407.59,1086.83 L407.72,1086.89 L407.85,1086.94 L407.98,1087.00 L408.11,1087.05 L408.24,1087.11 L408.37,1087.16 L408.50,1087.22 L408.63,1087.27 L408.77,1087.32 L408.90,1087.38 L409.03,1087.43 L409.16,1087.49 L409.29,1087.54 L409.42,1087.59 L409.55,1087.65 L409.68,1087.70 L409.81,1087.75 L409.94,1087.81 L410.08,1087.86 L410.21,1087.91 L410.34,1087.96 L410.47,1088.02 L410.60,1088.07 L410.73,1088.12 L410.86,1088.17 L410.99,1088.23 L411.12,1088.28 L411.25,1088.33 L411.39,1088.38 L411.52,1088.43 L411.65,1088.49 L411.78,1088.54 L411.91,1088.59 L412.04,1088.64 L412.17,1088.69 L412.30,1088.74 L412.43,1088.79 L412.56,1088.84 L412.69,1088.90 L412.83,1088.95 L412.96,1089.00 L413.09,1089.05 L413.22,1089.10 L413.35,1089.15 L413.48,1089.20 L413.61,1089.25 L413.74,1089.30 L413.87,1089.35 L414.00,1089.40 L414.14,1089.45 L414.27,1089.50 L414.40,1089.55 L414.53,1089.60 L414.66,1089.65 L414.79,1089.70 L414.92,1089.74 L415.05,1089.79 L415.18,1089.84 L415.31,1089.89 L415.45,1089.94 L415.58,1089.99 L415.71,1090.04 L415.84,1090.08 L415.97,1090.13 L416.10,1090.18 L416.23,1090.23 L416.36,1090.28 L416.49,1090.32 L416.62,1090.37 L416.76,1090.42 L416.89,1090.47 L417.02,1090.52 L417.15,1090.56 L417.28,1090.61 L417.41,1090.66 L417.54,1090.70 L417.67,1090.75 L417.80,1090.80 L417.93,1090.84 L418.06,1090.89 L418.20,1090.94 L418.33,1090.98 L418.46,1091.03 L418.59,1091.08 L418.72,1091.12 L418.85,1091.17 L418.98,1091.21 L419.11,1091.26 L419.24,1091.31 L419.37,1091.35 L419.51,1091.40 L419.64,1091.44 L419.77,1091.49 L419.90,1091.53 L420.03,1091.58 L420.16,1091.62 L420.29,1091.67 L420.42,1091.71 L420.55,1091.76 L420.68,1091.80 L420.82,1091.85 L420.95,1091.89 L421.08,1091.93 L421.21,1091.98 L421.34,1092.02 L421.47,1092.07 L421.60,1092.11 L421.73,1092.15 L421.86,1092.20 L421.99,1092.24 L422.13,1092.28 L422.26,1092.33 L422.39,1092.37 L422.52,1092.41 L422.65,1092.46 L422.78,1092.50 L422.91,1092.54 L423.04,1092.59 L423.17,1092.63 L423.30,1092.67 L423.44,1092.71 L423.57,1092.76 L423.70,1092.80 L423.83,1092.84 L423.96,1092.88 L424.09,1092.92 L424.22,1092.97 L424.35,1093.01 L424.48,1093.05 L424.61,1093.09 L424.74,1093.13 L424.88,1093.17 L425.01,1093.21 L425.14,1093.26 L425.27,1093.30 L425.40,1093.34 L425.53,1093.38 L425.66,1093.42 L425.79,1093.46 L425.92,1093.50 L426.05,1093.54 L426.19,1093.58 L426.32,1093.62 L426.45,1093.66 L426.58,1093.70 L426.71,1093.74 L426.84,1093.78 L426.97,1093.82 L427.10,1093.86 L427.23,1093.90 L427.36,1093.94 L427.50,1093.98 L427.63,1094.02 L427.76,1094.06 L427.89,1094.10 L428.02,1094.13 L428.15,1094.17 L428.28,1094.21 L428.41,1094.25 L428.54,1094.29 L428.67,1094.33 L428.81,1094.37 L428.94,1094.40 L429.07,1094.44 L429.20,1094.48 L429.33,1094.52 L429.46,1094.56 L429.59,1094.59 L429.72,1094.63 L429.85,1094.67 L429.98,1094.71 L430.11,1094.74 L430.25,1094.78 L430.38,1094.82 L430.51,1094.86 L430.64,1094.89 L430.77,1094.93 L430.90,1094.97 L431.03,1095.00 L431.16,1095.04 L431.29,1095.08 L431.42,1095.11 L431.56,1095.15 L431.69,1095.19 L431.82,1095.22 L431.95,1095.26 L432.08,1095.29 L432.21,1095.33 L432.34,1095.36 L432.47,1095.40 L432.60,1095.44 L432.73,1095.47 L432.87,1095.51 L433.00,1095.54 L433.13,1095.58 L433.26,1095.61 L433.39,1095.65 L433.52,1095.68 L433.65,1095.72 L433.78,1095.75 L433.91,1095.79 L434.04,1095.82 L434.18,1095.85 L434.31,1095.89 L434.44,1095.92 L434.57,1095.96 L434.70,1095.99 L434.83,1096.02 L434.96,1096.06 L435.09,1096.09 L435.22,1096.13 L435.35,1096.16 L435.48,1096.19 L435.62,1096.23 L435.75,1096.26 L435.88,1096.29 L436.01,1096.33 L436.14,1096.36 L436.27,1096.39 L436.40,1096.42 L436.53,1096.46 L436.66,1096.49 L436.79,1096.52 L436.93,1096.55 L437.06,1096.59 L437.19,1096.62 L437.32,1096.65 L437.45,1096.68 L437.58,1096.71 L437.71,1096.75 L437.84,1096.78 L437.97,1096.81 L438.10,1096.84 L438.24,1096.87 L438.37,1096.90 L438.50,1096.93 L438.63,1096.97 L438.76,1097.00 L438.89,1097.03 L439.02,1097.06 L439.15,1097.09 L439.28,1097.12 L439.41,1097.15 L439.55,1097.18 L439.68,1097.21 L439.81,1097.24 L439.94,1097.27 L440.07,1097.30 L440.20,1097.33 L440.33,1097.36 L440.46,1097.39 L440.59,1097.42 L440.72,1097.45 L440.85,1097.48 L440.99,1097.51 L441.12,1097.54 L441.25,1097.57 L441.38,1097.60 L441.51,1097.63 L441.64,1097.66 L441.77,1097.68 L441.90,1097.71 L442.03,1097.74 L442.16,1097.77 L442.30,1097.80 L442.43,1097.83 L442.56,1097.86 L442.69,1097.88 L442.82,1097.91 L442.95,1097.94 L443.08,1097.97 L443.21,1098.00 L443.34,1098.02 L443.47,1098.05 L443.61,1098.08 L443.74,1098.11 L443.87,1098.13 L444.00,1098.16 L444.13,1098.19 L444.26,1098.21 L444.39,1098.24 L444.52,1098.27 L444.65,1098.30 L444.78,1098.32 L444.92,1098.35 L445.05,1098.38 L445.18,1098.40 L445.31,1098.43 L445.44,1098.45 L445.57,1098.48 L445.70,1098.51 L445.83,1098.53 L445.96,1098.56 L446.09,1098.58 L446.23,1098.61 L446.36,1098.64 L446.49,1098.66 L446.62,1098.69 L446.75,1098.71 L446.88,1098.74 L447.01,1098.76 L447.14,1098.79 L447.27,1098.81 L447.40,1098.84 L447.53,1098.86 L447.67,1098.89 L447.80,1098.91 L447.93,1098.94 L448.06,1098.96 L448.19,1098.99 L448.32,1099.01 L448.45,1099.03 L448.58,1099.06 L448.71,1099.08 L448.84,1099.11 L448.98,1099.13 L449.11,1099.15 L449.24,1099.18 L449.37,1099.20 L449.50,1099.22 L449.63,1099.25 L449.76,1099.27 L449.89,1099.29 L450.02,1099.32 L450.15,1099.34 L450.29,1099.36 L450.42,1099.39 L450.55,1099.41 L450.68,1099.43 L450.81,1099.45 L450.94,1099.48 L451.07,1099.50 L451.20,1099.52 L451.33,1099.54 L451.46,1099.57 L451.60,1099.59 L451.73,1099.61 L451.86,1099.63 L451.99,1099.65 L452.12,1099.67 L452.25,1099.70 L452.38,1099.72 L452.51,1099.74 L452.64,1099.76 L452.77,1099.78 L452.90,1099.80 L453.04,1099.82 L453.17,1099.84 L453.30,1099.87 L453.43,1099.89 L453.56,1099.91 L453.69,1099.93 L453.82,1099.95 L453.95,1099.97 L454.08,1099.99 L454.21,1100.01 L454.35,1100.03 L454.48,1100.05 L454.61,1100.07 L454.74,1100.09 L454.87,1100.11 L455.00,1100.13 L455.13,1100.15 L455.26,1100.17 L455.39,1100.19 L455.52,1100.21 L455.66,1100.23 L455.79,1100.25 L455.92,1100.26 L456.05,1100.28 L456.18,1100.30 L456.31,1100.32 L456.44,1100.34 L456.57,1100.36 L456.70,1100.38 L456.83,1100.40 L456.97,1100.41 L457.10,1100.43 L457.23,1100.45 L457.36,1100.47 L457.49,1100.49 L457.62,1100.51 L457.75,1100.52 L457.88,1100.54 L458.01,1100.56 L458.14,1100.58 L458.27,1100.59 L458.41,1100.61 L458.54,1100.63 L458.67,1100.65 L458.80,1100.66 L458.93,1100.68 L459.06,1100.70 L459.19,1100.71 L459.32,1100.73 L459.45,1100.75 L459.58,1100.76 L459.72,1100.78 L459.85,1100.80 L459.98,1100.81 L460.11,1100.83 L460.24,1100.85 L460.37,1100.86 L460.50,1100.88 L460.63,1100.89 L460.76,1100.91 L460.89,1100.93 L461.03,1100.94 L461.16,1100.96 L461.29,1100.97 L461.42,1100.99 L461.55,1101.00 L461.68,1101.02 L461.81,1101.03 L461.94,1101.05 L462.07,1101.07 L462.20,1101.08 L462.34,1101.09 L462.47,1101.11 L462.60,1101.12 L462.73,1101.14 L462.86,1101.15 L462.99,1101.17 L463.12,1101.18 L463.25,1101.20 L463.38,1101.21 L463.51,1101.23 L463.64,1101.24 L463.78,1101.25 L463.91,1101.27 L464.04,1101.28 L464.17,1101.29 L464.30,1101.31 L464.43,1101.32 L464.56,1101.34 L464.69,1101.35 L464.82,1101.36 L464.95,1101.37 L465.09,1101.39 L465.22,1101.40 L465.35,1101.41 L465.48,1101.43 L465.61,1101.44 L465.74,1101.45 L465.87,1101.46 L466.00,1101.48 L466.13,1101.49 L466.26,1101.50 L466.40,1101.51 L466.53,1101.53 L466.66,1101.54 L466.79,1101.55 L466.92,1101.56 L467.05,1101.57 L467.18,1101.59 L467.31,1101.60 L467.44,1101.61 L467.57,1101.62 L467.71,1101.63 L467.84,1101.64 L467.97,1101.66 L468.10,1101.67 L468.23,1101.68 L468.36,1101.69 L468.49,1101.70 L468.62,1101.71 L468.75,1101.72 L468.88,1101.73 L469.02,1101.74 L469.15,1101.75 L469.28,1101.76 L469.41,1101.77 L469.54,1101.78 L469.67,1101.79 L469.80,1101.80 L469.93,1101.81 L470.06,1101.82 L470.19,1101.83 L470.32,1101.84 L470.46,1101.85 L470.59,1101.86 L470.72,1101.87 L470.85,1101.88 L470.98,1101.89 L471.11,1101.90 L471.24,1101.91 L471.37,1101.92 L471.50,1101.93 L471.63,1101.94 L471.77,1101.95 L471.90,1101.96 L472.03,1101.96 L472.16,1101.97 L472.29,1101.98 L472.42,1101.99 L472.55,1102.00 L472.68,1102.01 L472.81,1102.02 L472.94,1102.02 L473.08,1102.03 L473.21,1102.04 L473.34,1102.05 L473.47,1102.06 L473.60,1102.06 L473.73,1102.07 L473.86,1102.08 L473.99,1102.09 L474.12,1102.09 L474.25,1102.10 L474.39,1102.11 L474.52,1102.12 L474.65,1102.12 L474.78,1102.13 L474.91,1102.14 L475.04,1102.14 L475.17,1102.15 L475.30,1102.16 L475.43,1102.16 L475.56,1102.17 L475.69,1102.18 L475.83,1102.18 L475.96,1102.19 L476.09,1102.20 L476.22,1102.20 L476.35,1102.21 L476.48,1102.21 L476.61,1102.22 L476.74,1102.23 L476.87,1102.23 L477.00,1102.24 L477.14,1102.24 L477.27,1102.25 L477.40,1102.25 L477.53,1102.26 L477.66,1102.26 L477.79,1102.27 L477.92,1102.27 L478.05,1102.28 L478.18,1102.28 L478.31,1102.29 L478.45,1102.29 L478.58,1102.30 L478.71,1102.30 L478.84,1102.31 L478.97,1102.31 L479.10,1102.32 L479.23,1102.32 L479.36,1102.33 L479.49,1102.33 L479.62,1102.33 L479.76,1102.34 L479.89,1102.34 L480.02,1102.35 L480.15,1102.35 L480.28,1102.35 L480.41,1102.36 L480.54,1102.36 L480.67,1102.36 L480.80,1102.37 L480.93,1102.37 L481.06,1102.37 L481.20,1102.38 L481.33,1102.38 L481.46,1102.38 L481.59,1102.39 L481.72,1102.39 L481.85,1102.39 L481.98,1102.40 L482.11,1102.40 L482.24,1102.40 L482.37,1102.40 L482.51,1102.41 L482.64,1102.41 L482.77,1102.41 L482.90,1102.41 L483.03,1102.41 L483.16,1102.42 L483.29,1102.42 L483.42,1102.42 L483.55,1102.42 L483.68,1102.42 L483.82,1102.43 L483.95,1102.43 L484.08,1102.43 L484.21,1102.43 L484.34,1102.43 L484.47,1102.43 L484.60,1102.43 L484.73,1102.43 L484.86,1102.44 L484.99,1102.44 L485.13,1102.44 L485.26,1102.44 L485.39,1102.44 L485.52,1102.44 L485.65,1102.44 L485.78,1102.44 L485.91,1102.44 L486.04,1102.44 L486.17,1102.44 L486.30,1102.44 L486.43,1102.44 L486.57,1102.44 L486.70,1102.44 L486.83,1102.44 L486.96,1102.44 L487.09,1102.44 L487.22,1102.44 L487.35,1102.44 L487.48,1102.44 L487.61,1102.44 L487.74,1102.44 L487.88,1102.44 L488.01,1102.44 L488.14,1102.44 L488.27,1102.44 L488.40,1102.43 L488.53,1102.43 L488.66,1102.43 L488.79,1102.43 L488.92,1102.43 L489.05,1102.43 L489.19,1102.43 L489.32,1102.43 L489.45,1102.42 L489.58,1102.42 L489.71,1102.42 L489.84,1102.42 L489.97,1102.42 L490.10,1102.42 L490.23,1102.41 L490.36,1102.41 L490.50,1102.41 L490.63,1102.41 L490.76,1102.40 L490.89,1102.40 L491.02,1102.40 L491.15,1102.40 L491.28,1102.39 L491.41,1102.39 L491.54,1102.39 L491.67,1102.39 L491.81,1102.38 L491.94,1102.38 L492.07,1102.38 L492.20,1102.37 L492.33,1102.37 L492.46,1102.37 L492.59,1102.36 L492.72,1102.36 L492.85,1102.36 L492.98,1102.35 L493.11,1102.35 L493.25,1102.35 L493.38,1102.34 L493.51,1102.34 L493.64,1102.33 L493.77,1102.33 L493.90,1102.33 L494.03,1102.32 L494.16,1102.32 L494.29,1102.31 L494.42,1102.31 L494.56,1102.30 L494.69,1102.30 L494.82,1102.29 L494.95,1102.29 L495.08,1102.29 L495.21,1102.28 L495.34,1102.28 L495.47,1102.27 L495.60,1102.27 L495.73,1102.26 L495.87,1102.26 L496.00,1102.25 L496.13,1102.24 L496.26,1102.24 L496.39,1102.23 L496.52,1102.23 L496.65,1102.22 L496.78,1102.22 L496.91,1102.21 L497.04,1102.21 L497.18,1102.20 L497.31,1102.19 L497.44,1102.19 L497.57,1102.18 L497.70,1102.18 L497.83,1102.17 L497.96,1102.16 L498.09,1102.16 L498.22,1102.15 L498.35,1102.14 L498.48,1102.14 L498.62,1102.13 L498.75,1102.12 L498.88,1102.12 L499.01,1102.11 L499.14,1102.10 L499.27,1102.10 L499.40,1102.09 L499.53,1102.08 L499.66,1102.07 L499.79,1102.07 L499.93,1102.06 L500.06,1102.05 L500.19,1102.04 L500.32,1102.04 L500.45,1102.03 L500.58,1102.02 L500.71,1102.01 L500.84,1102.01 L500.97,1102.00 L501.10,1101.99 L501.24,1101.98 L501.37,1101.97 L501.50,1101.96 L501.63,1101.96 L501.76,1101.95 L501.89,1101.94 L502.02,1101.93 L502.15,1101.92 L502.28,1101.91 L502.41,1101.91 L502.55,1101.90 L502.68,1101.89 L502.81,1101.88 L502.94,1101.87 L503.07,1101.86 L503.20,1101.85" fill="none" stroke="#dc0d18" stroke-width="2.6" stroke-linejoin="round" clip-path="url(#cc)"/>
<path d="M303.07,797.43 L303.20,810.07 L303.33,819.77 L303.46,827.65 L303.59,834.28 L303.72,840.02 L303.85,845.06 L303.98,849.57 L304.11,853.65 L304.25,857.37 L304.38,860.79 L304.51,863.96 L304.64,866.91 L304.77,869.67 L304.90,872.26 L305.03,874.70 L305.16,877.02 L305.29,879.22 L305.42,881.31 L305.56,883.30 L305.69,885.21 L305.82,887.04 L305.95,888.79 L306.08,890.48 L306.21,892.10 L306.34,893.67 L306.47,895.18 L306.60,896.64 L306.73,898.05 L306.87,899.43 L307.00,900.76 L307.13,902.05 L307.26,903.30 L307.39,904.52 L307.52,905.71 L307.65,906.87 L307.78,908.00 L307.91,909.10 L308.04,910.17 L308.18,911.22 L308.31,912.25 L308.44,913.25 L308.57,914.23 L308.70,915.20 L308.83,916.14 L308.96,917.06 L309.09,917.96 L309.22,918.85 L309.35,919.72 L309.49,920.57 L309.62,921.41 L309.75,922.23 L309.88,923.04 L310.01,923.84 L310.14,924.62 L310.27,925.39 L310.40,926.14 L310.53,926.89 L310.66,927.62 L310.79,928.34 L310.93,929.05 L311.06,929.75 L311.19,930.44 L311.32,931.12 L311.45,931.79 L311.58,932.45 L311.71,933.10 L311.84,933.74 L311.97,934.38 L312.10,935.00 L312.24,935.62 L312.37,936.23 L312.50,936.83 L312.63,937.43 L312.76,938.02 L312.89,938.60 L313.02,939.17 L313.15,939.74 L313.28,940.30 L313.41,940.85 L313.55,941.40 L313.68,941.94 L313.81,942.48 L313.94,943.01 L314.07,943.53 L314.20,944.05 L314.33,944.56 L314.46,945.07 L314.59,945.58 L314.72,946.07 L314.86,946.57 L314.99,947.06 L315.12,947.54 L315.25,948.02 L315.38,948.49 L315.51,948.96 L315.64,949.43 L315.77,949.89 L315.90,950.35 L316.03,950.80 L316.16,951.25 L316.30,951.69 L316.43,952.14 L316.56,952.57 L316.69,953.01 L316.82,953.44 L316.95,953.86 L317.08,954.29 L317.21,954.71 L317.34,955.12 L317.47,955.53 L317.61,955.94 L317.74,956.35 L317.87,956.75 L318.00,957.15 L318.13,957.55 L318.26,957.94 L318.39,958.34 L318.52,958.72 L318.65,959.11 L318.78,959.49 L318.92,959.87 L319.05,960.25 L319.18,960.62 L319.31,960.99 L319.44,961.36 L319.57,961.73 L319.70,962.09 L319.83,962.46 L319.96,962.82 L320.09,963.17 L320.23,963.53 L320.36,963.88 L320.49,964.23 L320.62,964.58 L320.75,964.92 L320.88,965.26 L321.01,965.60 L321.14,965.94 L321.27,966.28 L321.40,966.61 L321.53,966.95 L321.67,967.28 L321.80,967.61 L321.93,967.93 L322.06,968.26 L322.19,968.58 L322.32,968.90 L322.45,969.22 L322.58,969.54 L322.71,969.85 L322.84,970.17 L322.98,970.48 L323.11,970.79 L323.24,971.10 L323.37,971.40 L323.50,971.71 L323.63,972.01 L323.76,972.31 L323.89,972.61 L324.02,972.91 L324.15,973.21 L324.29,973.50 L324.42,973.80 L324.55,974.09 L324.68,974.38 L324.81,974.67 L324.94,974.96 L325.07,975.24 L325.20,975.53 L325.33,975.81 L325.46,976.09 L325.60,976.37 L325.73,976.65 L325.86,976.93 L325.99,977.21 L326.12,977.48 L326.25,977.76 L326.38,978.03 L326.51,978.30 L326.64,978.57 L326.77,978.84 L326.90,979.11 L327.04,979.37 L327.17,979.64 L327.30,979.90 L327.43,980.17 L327.56,980.43 L327.69,980.69 L327.82,980.95 L327.95,981.21 L328.08,981.46 L328.21,981.72 L328.35,981.97 L328.48,982.23 L328.61,982.48 L328.74,982.73 L328.87,982.98 L329.00,983.23 L329.13,983.48 L329.26,983.73 L329.39,983.97 L329.52,984.22 L329.66,984.46 L329.79,984.71 L329.92,984.95 L330.05,985.19 L330.18,985.43 L330.31,985.67 L330.44,985.91 L330.57,986.15 L330.70,986.38 L330.83,986.62 L330.97,986.85 L331.10,987.09 L331.23,987.32 L331.36,987.55 L331.49,987.79 L331.62,988.02 L331.75,988.25 L331.88,988.47 L332.01,988.70 L332.14,988.93 L332.28,989.15 L332.41,989.38 L332.54,989.60 L332.67,989.83 L332.80,990.05 L332.93,990.27 L333.06,990.49 L333.19,990.72 L333.32,990.93 L333.45,991.15 L333.58,991.37 L333.72,991.59 L333.85,991.81 L333.98,992.02 L334.11,992.24 L334.24,992.45 L334.37,992.67 L334.50,992.88 L334.63,993.09 L334.76,993.30 L334.89,993.51 L335.03,993.72 L335.16,993.93 L335.29,994.14 L335.42,994.35 L335.55,994.56 L335.68,994.76 L335.81,994.97 L335.94,995.17 L336.07,995.38 L336.20,995.58 L336.34,995.79 L336.47,995.99 L336.60,996.19 L336.73,996.39 L336.86,996.59 L336.99,996.79 L337.12,996.99 L337.25,997.19 L337.38,997.39 L337.51,997.59 L337.65,997.79 L337.78,997.98 L337.91,998.18 L338.04,998.37 L338.17,998.57 L338.30,998.76 L338.43,998.96 L338.56,999.15 L338.69,999.34 L338.82,999.53 L338.95,999.73 L339.09,999.92 L339.22,1000.11 L339.35,1000.30 L339.48,1000.49 L339.61,1000.67 L339.74,1000.86 L339.87,1001.05 L340.00,1001.24 L340.13,1001.42 L340.26,1001.61 L340.40,1001.79 L340.53,1001.98 L340.66,1002.16 L340.79,1002.35 L340.92,1002.53 L341.05,1002.71 L341.18,1002.90 L341.31,1003.08 L341.44,1003.26 L341.57,1003.44 L341.71,1003.62 L341.84,1003.80 L341.97,1003.98 L342.10,1004.16 L342.23,1004.34 L342.36,1004.52 L342.49,1004.69 L342.62,1004.87 L342.75,1005.05 L342.88,1005.22 L343.02,1005.40 L343.15,1005.57 L343.28,1005.75 L343.41,1005.92 L343.54,1006.10 L343.67,1006.27 L343.80,1006.44 L343.93,1006.61 L344.06,1006.79 L344.19,1006.96 L344.32,1007.13 L344.46,1007.30 L344.59,1007.47 L344.72,1007.64 L344.85,1007.81 L344.98,1007.98 L345.11,1008.15 L345.24,1008.32 L345.37,1008.48 L345.50,1008.65 L345.63,1008.82 L345.77,1008.98 L345.90,1009.15 L346.03,1009.32 L346.16,1009.48 L346.29,1009.65 L346.42,1009.81 L346.55,1009.98 L346.68,1010.14 L346.81,1010.30 L346.94,1010.47 L347.08,1010.63 L347.21,1010.79 L347.34,1010.95 L347.47,1011.11 L347.60,1011.27 L347.73,1011.44 L347.86,1011.60 L347.99,1011.76 L348.12,1011.92 L348.25,1012.07 L348.39,1012.23 L348.52,1012.39 L348.65,1012.55 L348.78,1012.71 L348.91,1012.87 L349.04,1013.02 L349.17,1013.18 L349.30,1013.34 L349.43,1013.49 L349.56,1013.65 L349.69,1013.80 L349.83,1013.96 L349.96,1014.11 L350.09,1014.27 L350.22,1014.42 L350.35,1014.57 L350.48,1014.73 L350.61,1014.88 L350.74,1015.03 L350.87,1015.18 L351.00,1015.34 L351.14,1015.49 L351.27,1015.64 L351.40,1015.79 L351.53,1015.94 L351.66,1016.09 L351.79,1016.24 L351.92,1016.39 L352.05,1016.54 L352.18,1016.69 L352.31,1016.84 L352.45,1016.99 L352.58,1017.13 L352.71,1017.28 L352.84,1017.43 L352.97,1017.58 L353.10,1017.72 L353.23,1017.87 L353.36,1018.02 L353.49,1018.16 L353.62,1018.31 L353.76,1018.45 L353.89,1018.60 L354.02,1018.74 L354.15,1018.89 L354.28,1019.03 L354.41,1019.17 L354.54,1019.32 L354.67,1019.46 L354.80,1019.60 L354.93,1019.75 L355.07,1019.89 L355.20,1020.03 L355.33,1020.17 L355.46,1020.31 L355.59,1020.46 L355.72,1020.60 L355.85,1020.74 L355.98,1020.88 L356.11,1021.02 L356.24,1021.16 L356.37,1021.30 L356.51,1021.44 L356.64,1021.58 L356.77,1021.71 L356.90,1021.85 L357.03,1021.99 L357.16,1022.13 L357.29,1022.27 L357.42,1022.40 L357.55,1022.54 L357.68,1022.68 L357.82,1022.81 L357.95,1022.95 L358.08,1023.09 L358.21,1023.22 L358.34,1023.36 L358.47,1023.49 L358.60,1023.63 L358.73,1023.76 L358.86,1023.90 L358.99,1024.03 L359.13,1024.17 L359.26,1024.30 L359.39,1024.43 L359.52,1024.57 L359.65,1024.70 L359.78,1024.83 L359.91,1024.96 L360.04,1025.10 L360.17,1025.23 L360.30,1025.36 L360.44,1025.49 L360.57,1025.62 L360.70,1025.75 L360.83,1025.89 L360.96,1026.02 L361.09,1026.15 L361.22,1026.28 L361.35,1026.41 L361.48,1026.54 L361.61,1026.66 L361.74,1026.79 L361.88,1026.92 L362.01,1027.05 L362.14,1027.18 L362.27,1027.31 L362.40,1027.44 L362.53,1027.56 L362.66,1027.69 L362.79,1027.82 L362.92,1027.95 L363.05,1028.07 L363.19,1028.20 L363.32,1028.33 L363.45,1028.45 L363.58,1028.58 L363.71,1028.70 L363.84,1028.83 L363.97,1028.95 L364.10,1029.08 L364.23,1029.20 L364.36,1029.33 L364.50,1029.45 L364.63,1029.58 L364.76,1029.70 L364.89,1029.82 L365.02,1029.95 L365.15,1030.07 L365.28,1030.19 L365.41,1030.32 L365.54,1030.44 L365.67,1030.56 L365.81,1030.68 L365.94,1030.81 L366.07,1030.93 L366.20,1031.05 L366.33,1031.17 L366.46,1031.29 L366.59,1031.41 L366.72,1031.53 L366.85,1031.65 L366.98,1031.77 L367.11,1031.89 L367.25,1032.01 L367.38,1032.13 L367.51,1032.25 L367.64,1032.37 L367.77,1032.49 L367.90,1032.61 L368.03,1032.73 L368.16,1032.85 L368.29,1032.96 L368.42,1033.08 L368.56,1033.20 L368.69,1033.32 L368.82,1033.44 L368.95,1033.55 L369.08,1033.67 L369.21,1033.79 L369.34,1033.90 L369.47,1034.02 L369.60,1034.14 L369.73,1034.25 L369.87,1034.37 L370.00,1034.48 L370.13,1034.60 L370.26,1034.71 L370.39,1034.83 L370.52,1034.94 L370.65,1035.06 L370.78,1035.17 L370.91,1035.29 L371.04,1035.40 L371.18,1035.52 L371.31,1035.63 L371.44,1035.74 L371.57,1035.86 L371.70,1035.97 L371.83,1036.08 L371.96,1036.20 L372.09,1036.31 L372.22,1036.42 L372.35,1036.53 L372.48,1036.65 L372.62,1036.76 L372.75,1036.87 L372.88,1036.98 L373.01,1037.09 L373.14,1037.20 L373.27,1037.31 L373.40,1037.43 L373.53,1037.54 L373.66,1037.65 L373.79,1037.76 L373.93,1037.87 L374.06,1037.98 L374.19,1038.09 L374.32,1038.20 L374.45,1038.31 L374.58,1038.41 L374.71,1038.52 L374.84,1038.63 L374.97,1038.74 L375.10,1038.85 L375.24,1038.96 L375.37,1039.07 L375.50,1039.17 L375.63,1039.28 L375.76,1039.39 L375.89,1039.50 L376.02,1039.60 L376.15,1039.71 L376.28,1039.82 L376.41,1039.93 L376.55,1040.03 L376.68,1040.14 L376.81,1040.25 L376.94,1040.35 L377.07,1040.46 L377.20,1040.56 L377.33,1040.67 L377.46,1040.77 L377.59,1040.88 L377.72,1040.98 L377.86,1041.09 L377.99,1041.19 L378.12,1041.30 L378.25,1041.40 L378.38,1041.51 L378.51,1041.61 L378.64,1041.72 L378.77,1041.82 L378.90,1041.92 L379.03,1042.03 L379.16,1042.13 L379.30,1042.23 L379.43,1042.34 L379.56,1042.44 L379.69,1042.54 L379.82,1042.64 L379.95,1042.75 L380.08,1042.85 L380.21,1042.95 L380.34,1043.05 L380.47,1043.15 L380.61,1043.26 L380.74,1043.36 L380.87,1043.46 L381.00,1043.56 L381.13,1043.66 L381.26,1043.76 L381.39,1043.86 L381.52,1043.96 L381.65,1044.06 L381.78,1044.16 L381.92,1044.26 L382.05,1044.36 L382.18,1044.46 L382.31,1044.56 L382.44,1044.66 L382.57,1044.76 L382.70,1044.86 L382.83,1044.96 L382.96,1045.06 L383.09,1045.15 L383.23,1045.25 L383.36,1045.35 L383.49,1045.45 L383.62,1045.55 L383.75,1045.64 L383.88,1045.74 L384.01,1045.84 L384.14,1045.94 L384.27,1046.03 L384.40,1046.13 L384.53,1046.23 L384.67,1046.32 L384.80,1046.42 L384.93,1046.52 L385.06,1046.61 L385.19,1046.71 L385.32,1046.81 L385.45,1046.90 L385.58,1047.00 L385.71,1047.09 L385.84,1047.19 L385.98,1047.28 L386.11,1047.38 L386.24,1047.47 L386.37,1047.57 L386.50,1047.66 L386.63,1047.76 L386.76,1047.85 L386.89,1047.95 L387.02,1048.04 L387.15,1048.13 L387.29,1048.23 L387.42,1048.32 L387.55,1048.42 L387.68,1048.51 L387.81,1048.60 L387.94,1048.70 L388.07,1048.79 L388.20,1048.88 L388.33,1048.97 L388.46,1049.07 L388.60,1049.16 L388.73,1049.25 L388.86,1049.34 L388.99,1049.43 L389.12,1049.53 L389.25,1049.62 L389.38,1049.71 L389.51,1049.80 L389.64,1049.89 L389.77,1049.98 L389.90,1050.07 L390.04,1050.17 L390.17,1050.26 L390.30,1050.35 L390.43,1050.44 L390.56,1050.53 L390.69,1050.62 L390.82,1050.71 L390.95,1050.80 L391.08,1050.89 L391.21,1050.98 L391.35,1051.07 L391.48,1051.15 L391.61,1051.24 L391.74,1051.33 L391.87,1051.42 L392.00,1051.51 L392.13,1051.60 L392.26,1051.69 L392.39,1051.78 L392.52,1051.86 L392.66,1051.95 L392.79,1052.04 L392.92,1052.13 L393.05,1052.22 L393.18,1052.30 L393.31,1052.39 L393.44,1052.48 L393.57,1052.56 L393.70,1052.65 L393.83,1052.74 L393.97,1052.83 L394.10,1052.91 L394.23,1053.00 L394.36,1053.08 L394.49,1053.17 L394.62,1053.26 L394.75,1053.34 L394.88,1053.43 L395.01,1053.51 L395.14,1053.60 L395.27,1053.69 L395.41,1053.77 L395.54,1053.86 L395.67,1053.94 L395.80,1054.03 L395.93,1054.11 L396.06,1054.19 L396.19,1054.28 L396.32,1054.36 L396.45,1054.45 L396.58,1054.53 L396.72,1054.62 L396.85,1054.70 L396.98,1054.78 L397.11,1054.87 L397.24,1054.95 L397.37,1055.03 L397.50,1055.12 L397.63,1055.20 L397.76,1055.28 L397.89,1055.37 L398.03,1055.45 L398.16,1055.53 L398.29,1055.61 L398.42,1055.70 L398.55,1055.78 L398.68,1055.86 L398.81,1055.94 L398.94,1056.02 L399.07,1056.10 L399.20,1056.19 L399.34,1056.27 L399.47,1056.35 L399.60,1056.43 L399.73,1056.51 L399.86,1056.59 L399.99,1056.67 L400.12,1056.75 L400.25,1056.83 L400.38,1056.91 L400.51,1056.99 L400.65,1057.07 L400.78,1057.15 L400.91,1057.23 L401.04,1057.31 L401.17,1057.39 L401.30,1057.47 L401.43,1057.55 L401.56,1057.63 L401.69,1057.71 L401.82,1057.79 L401.95,1057.87 L402.09,1057.95 L402.22,1058.03 L402.35,1058.10 L402.48,1058.18 L402.61,1058.26 L402.74,1058.34 L402.87,1058.42 L403.00,1058.50 L403.13,1058.57 L403.26,1058.65 L403.40,1058.73 L403.53,1058.81 L403.66,1058.88 L403.79,1058.96 L403.92,1059.04 L404.05,1059.11 L404.18,1059.19 L404.31,1059.27 L404.44,1059.34 L404.57,1059.42 L404.71,1059.50 L404.84,1059.57 L404.97,1059.65 L405.10,1059.73 L405.23,1059.80 L405.36,1059.88 L405.49,1059.95 L405.62,1060.03 L405.75,1060.10 L405.88,1060.18 L406.02,1060.25 L406.15,1060.33 L406.28,1060.40 L406.41,1060.48 L406.54,1060.55 L406.67,1060.63 L406.80,1060.70 L406.93,1060.78 L407.06,1060.85 L407.19,1060.92 L407.32,1061.00 L407.46,1061.07 L407.59,1061.15 L407.72,1061.22 L407.85,1061.29 L407.98,1061.37 L408.11,1061.44 L408.24,1061.51 L408.37,1061.59 L408.50,1061.66 L408.63,1061.73 L408.77,1061.80 L408.90,1061.88 L409.03,1061.95 L409.16,1062.02 L409.29,1062.09 L409.42,1062.17 L409.55,1062.24 L409.68,1062.31 L409.81,1062.38 L409.94,1062.45 L410.08,1062.52 L410.21,1062.59 L410.34,1062.67 L410.47,1062.74 L410.60,1062.81 L410.73,1062.88 L410.86,1062.95 L410.99,1063.02 L411.12,1063.09 L411.25,1063.16 L411.39,1063.23 L411.52,1063.30 L411.65,1063.37 L411.78,1063.44 L411.91,1063.51 L412.04,1063.58 L412.17,1063.65 L412.30,1063.72 L412.43,1063.79 L412.56,1063.86 L412.69,1063.93 L412.83,1064.00 L412.96,1064.07 L413.09,1064.14 L413.22,1064.20 L413.35,1064.27 L413.48,1064.34 L413.61,1064.41 L413.74,1064.48 L413.87,1064.55 L414.00,1064.61 L414.14,1064.68 L414.27,1064.75 L414.40,1064.82 L414.53,1064.89 L414.66,1064.95 L414.79,1065.02 L414.92,1065.09 L415.05,1065.15 L415.18,1065.22 L415.31,1065.29 L415.45,1065.36 L415.58,1065.42 L415.71,1065.49 L415.84,1065.56 L415.97,1065.62 L416.10,1065.69 L416.23,1065.75 L416.36,1065.82 L416.49,1065.89 L416.62,1065.95 L416.76,1066.02 L416.89,1066.08 L417.02,1066.15 L417.15,1066.21 L417.28,1066.28 L417.41,1066.34 L417.54,1066.41 L417.67,1066.47 L417.80,1066.54 L417.93,1066.60 L418.06,1066.67 L418.20,1066.73 L418.33,1066.80 L418.46,1066.86 L418.59,1066.93 L418.72,1066.99 L418.85,1067.05 L418.98,1067.12 L419.11,1067.18 L419.24,1067.25 L419.37,1067.31 L419.51,1067.37 L419.64,1067.44 L419.77,1067.50 L419.90,1067.56 L420.03,1067.62 L420.16,1067.69 L420.29,1067.75 L420.42,1067.81 L420.55,1067.88 L420.68,1067.94 L420.82,1068.00 L420.95,1068.06 L421.08,1068.12 L421.21,1068.19 L421.34,1068.25 L421.47,1068.31 L421.60,1068.37 L421.73,1068.43 L421.86,1068.49 L421.99,1068.56 L422.13,1068.62 L422.26,1068.68 L422.39,1068.74 L422.52,1068.80 L422.65,1068.86 L422.78,1068.92 L422.91,1068.98 L423.04,1069.04 L423.17,1069.10 L423.30,1069.16 L423.44,1069.22 L423.57,1069.28 L423.70,1069.34 L423.83,1069.40 L423.96,1069.46 L424.09,1069.52 L424.22,1069.58 L424.35,1069.64 L424.48,1069.70 L424.61,1069.76 L424.74,1069.82 L424.88,1069.88 L425.01,1069.94 L425.14,1070.00 L425.27,1070.06 L425.40,1070.11 L425.53,1070.17 L425.66,1070.23 L425.79,1070.29 L425.92,1070.35 L426.05,1070.41 L426.19,1070.46 L426.32,1070.52 L426.45,1070.58 L426.58,1070.64 L426.71,1070.69 L426.84,1070.75 L426.97,1070.81 L427.10,1070.87 L427.23,1070.92 L427.36,1070.98 L427.50,1071.04 L427.63,1071.09 L427.76,1071.15 L427.89,1071.21 L428.02,1071.26 L428.15,1071.32 L428.28,1071.38 L428.41,1071.43 L428.54,1071.49 L428.67,1071.55 L428.81,1071.60 L428.94,1071.66 L429.07,1071.71 L429.20,1071.77 L429.33,1071.82 L429.46,1071.88 L429.59,1071.93 L429.72,1071.99 L429.85,1072.04 L429.98,1072.10 L430.11,1072.15 L430.25,1072.21 L430.38,1072.26 L430.51,1072.32 L430.64,1072.37 L430.77,1072.43 L430.90,1072.48 L431.03,1072.54 L431.16,1072.59 L431.29,1072.64 L431.42,1072.70 L431.56,1072.75 L431.69,1072.80 L431.82,1072.86 L431.95,1072.91 L432.08,1072.96 L432.21,1073.02 L432.34,1073.07 L432.47,1073.12 L432.60,1073.18 L432.73,1073.23 L432.87,1073.28 L433.00,1073.34 L433.13,1073.39 L433.26,1073.44 L433.39,1073.49 L433.52,1073.54 L433.65,1073.60 L433.78,1073.65 L433.91,1073.70 L434.04,1073.75 L434.18,1073.80 L434.31,1073.86 L434.44,1073.91 L434.57,1073.96 L434.70,1074.01 L434.83,1074.06 L434.96,1074.11 L435.09,1074.16 L435.22,1074.21 L435.35,1074.27 L435.48,1074.32 L435.62,1074.37 L435.75,1074.42 L435.88,1074.47 L436.01,1074.52 L436.14,1074.57 L436.27,1074.62 L436.40,1074.67 L436.53,1074.72 L436.66,1074.77 L436.79,1074.82 L436.93,1074.87 L437.06,1074.92 L437.19,1074.97 L437.32,1075.02 L437.45,1075.06 L437.58,1075.11 L437.71,1075.16 L437.84,1075.21 L437.97,1075.26 L438.10,1075.31 L438.24,1075.36 L438.37,1075.41 L438.50,1075.46 L438.63,1075.50 L438.76,1075.55 L438.89,1075.60 L439.02,1075.65 L439.15,1075.70 L439.28,1075.74 L439.41,1075.79 L439.55,1075.84 L439.68,1075.89 L439.81,1075.93 L439.94,1075.98 L440.07,1076.03 L440.20,1076.08 L440.33,1076.12 L440.46,1076.17 L440.59,1076.22 L440.72,1076.26 L440.85,1076.31 L440.99,1076.36 L441.12,1076.40 L441.25,1076.45 L441.38,1076.50 L441.51,1076.54 L441.64,1076.59 L441.77,1076.63 L441.90,1076.68 L442.03,1076.73 L442.16,1076.77 L442.30,1076.82 L442.43,1076.86 L442.56,1076.91 L442.69,1076.95 L442.82,1077.00 L442.95,1077.04 L443.08,1077.09 L443.21,1077.13 L443.34,1077.18 L443.47,1077.22 L443.61,1077.27 L443.74,1077.31 L443.87,1077.36 L444.00,1077.40 L444.13,1077.45 L444.26,1077.49 L444.39,1077.53 L444.52,1077.58 L444.65,1077.62 L444.78,1077.67 L444.92,1077.71 L445.05,1077.75 L445.18,1077.80 L445.31,1077.84 L445.44,1077.88 L445.57,1077.93 L445.70,1077.97 L445.83,1078.01 L445.96,1078.06 L446.09,1078.10 L446.23,1078.14 L446.36,1078.18 L446.49,1078.23 L446.62,1078.27 L446.75,1078.31 L446.88,1078.35 L447.01,1078.40 L447.14,1078.44 L447.27,1078.48 L447.40,1078.52 L447.53,1078.56 L447.67,1078.61 L447.80,1078.65 L447.93,1078.69 L448.06,1078.73 L448.19,1078.77 L448.32,1078.81 L448.45,1078.85 L448.58,1078.90 L448.71,1078.94 L448.84,1078.98 L448.98,1079.02 L449.11,1079.06 L449.24,1079.10 L449.37,1079.14 L449.50,1079.18 L449.63,1079.22 L449.76,1079.26 L449.89,1079.30 L450.02,1079.34 L450.15,1079.38 L450.29,1079.42 L450.42,1079.46 L450.55,1079.50 L450.68,1079.54 L450.81,1079.58 L450.94,1079.62 L451.07,1079.66 L451.20,1079.70 L451.33,1079.74 L451.46,1079.77 L451.60,1079.81 L451.73,1079.85 L451.86,1079.89 L451.99,1079.93 L452.12,1079.97 L452.25,1080.01 L452.38,1080.05 L452.51,1080.08 L452.64,1080.12 L452.77,1080.16 L452.90,1080.20 L453.04,1080.24 L453.17,1080.27 L453.30,1080.31 L453.43,1080.35 L453.56,1080.39 L453.69,1080.42 L453.82,1080.46 L453.95,1080.50 L454.08,1080.54 L454.21,1080.57 L454.35,1080.61 L454.48,1080.65 L454.61,1080.68 L454.74,1080.72 L454.87,1080.76 L455.00,1080.79 L455.13,1080.83 L455.26,1080.87 L455.39,1080.90 L455.52,1080.94 L455.66,1080.97 L455.79,1081.01 L455.92,1081.05 L456.05,1081.08 L456.18,1081.12 L456.31,1081.15 L456.44,1081.19 L456.57,1081.22 L456.70,1081.26 L456.83,1081.30 L456.97,1081.33 L457.10,1081.37 L457.23,1081.40 L457.36,1081.44 L457.49,1081.47 L457.62,1081.50 L457.75,1081.54 L457.88,1081.57 L458.01,1081.61 L458.14,1081.64 L458.27,1081.68 L458.41,1081.71 L458.54,1081.75 L458.67,1081.78 L458.80,1081.81 L458.93,1081.85 L459.06,1081.88 L459.19,1081.91 L459.32,1081.95 L459.45,1081.98 L459.58,1082.01 L459.72,1082.05 L459.85,1082.08 L459.98,1082.11 L460.11,1082.15 L460.24,1082.18 L460.37,1082.21 L460.50,1082.25 L460.63,1082.28 L460.76,1082.31 L460.89,1082.34 L461.03,1082.38 L461.16,1082.41 L461.29,1082.44 L461.42,1082.47 L461.55,1082.51 L461.68,1082.54 L461.81,1082.57 L461.94,1082.60 L462.07,1082.63 L462.20,1082.66 L462.34,1082.70 L462.47,1082.73 L462.60,1082.76 L462.73,1082.79 L462.86,1082.82 L462.99,1082.85 L463.12,1082.88 L463.25,1082.91 L463.38,1082.94 L463.51,1082.98 L463.64,1083.01 L463.78,1083.04 L463.91,1083.07 L464.04,1083.10 L464.17,1083.13 L464.30,1083.16 L464.43,1083.19 L464.56,1083.22 L464.69,1083.25 L464.82,1083.28 L464.95,1083.31 L465.09,1083.34 L465.22,1083.37 L465.35,1083.40 L465.48,1083.43 L465.61,1083.46 L465.74,1083.48 L465.87,1083.51 L466.00,1083.54 L466.13,1083.57 L466.26,1083.60 L466.40,1083.63 L466.53,1083.66 L466.66,1083.69 L466.79,1083.72 L466.92,1083.74 L467.05,1083.77 L467.18,1083.80 L467.31,1083.83 L467.44,1083.86 L467.57,1083.88 L467.71,1083.91 L467.84,1083.94 L467.97,1083.97 L468.10,1084.00 L468.23,1084.02 L468.36,1084.05 L468.49,1084.08 L468.62,1084.11 L468.75,1084.13 L468.88,1084.16 L469.02,1084.19 L469.15,1084.21 L469.28,1084.24 L469.41,1084.27 L469.54,1084.30 L469.67,1084.32 L469.80,1084.35 L469.93,1084.37 L470.06,1084.40 L470.19,1084.43 L470.32,1084.45 L470.46,1084.48 L470.59,1084.51 L470.72,1084.53 L470.85,1084.56 L470.98,1084.58 L471.11,1084.61 L471.24,1084.64 L471.37,1084.66 L471.50,1084.69 L471.63,1084.71 L471.77,1084.74 L471.90,1084.76 L472.03,1084.79 L472.16,1084.81 L472.29,1084.84 L472.42,1084.86 L472.55,1084.89 L472.68,1084.91 L472.81,1084.94 L472.94,1084.96 L473.08,1084.99 L473.21,1085.01 L473.34,1085.03 L473.47,1085.06 L473.60,1085.08 L473.73,1085.11 L473.86,1085.13 L473.99,1085.15 L474.12,1085.18 L474.25,1085.20 L474.39,1085.23 L474.52,1085.25 L474.65,1085.27 L474.78,1085.30 L474.91,1085.32 L475.04,1085.34 L475.17,1085.37 L475.30,1085.39 L475.43,1085.41 L475.56,1085.43 L475.69,1085.46 L475.83,1085.48 L475.96,1085.50 L476.09,1085.53 L476.22,1085.55 L476.35,1085.57 L476.48,1085.59 L476.61,1085.61 L476.74,1085.64 L476.87,1085.66 L477.00,1085.68 L477.14,1085.70 L477.27,1085.72 L477.40,1085.75 L477.53,1085.77 L477.66,1085.79 L477.79,1085.81 L477.92,1085.83 L478.05,1085.85 L478.18,1085.87 L478.31,1085.90 L478.45,1085.92 L478.58,1085.94 L478.71,1085.96 L478.84,1085.98 L478.97,1086.00 L479.10,1086.02 L479.23,1086.04 L479.36,1086.06 L479.49,1086.08 L479.62,1086.10 L479.76,1086.12 L479.89,1086.14 L480.02,1086.16 L480.15,1086.18 L480.28,1086.20 L480.41,1086.22 L480.54,1086.24 L480.67,1086.26 L480.80,1086.28 L480.93,1086.30 L481.06,1086.32 L481.20,1086.34 L481.33,1086.36 L481.46,1086.38 L481.59,1086.40 L481.72,1086.42 L481.85,1086.44 L481.98,1086.46 L482.11,1086.47 L482.24,1086.49 L482.37,1086.51 L482.51,1086.53 L482.64,1086.55 L482.77,1086.57 L482.90,1086.59 L483.03,1086.60 L483.16,1086.62 L483.29,1086.64 L483.42,1086.66 L483.55,1086.68 L483.68,1086.69 L483.82,1086.71 L483.95,1086.73 L484.08,1086.75 L484.21,1086.76 L484.34,1086.78 L484.47,1086.80 L484.60,1086.82 L484.73,1086.83 L484.86,1086.85 L484.99,1086.87 L485.13,1086.88 L485.26,1086.90 L485.39,1086.92 L485.52,1086.93 L485.65,1086.95 L485.78,1086.97 L485.91,1086.98 L486.04,1087.00 L486.17,1087.02 L486.30,1087.03 L486.43,1087.05 L486.57,1087.07 L486.70,1087.08 L486.83,1087.10 L486.96,1087.11 L487.09,1087.13 L487.22,1087.14 L487.35,1087.16 L487.48,1087.18 L487.61,1087.19 L487.74,1087.21 L487.88,1087.22 L488.01,1087.24 L488.14,1087.25 L488.27,1087.27 L488.40,1087.28 L488.53,1087.30 L488.66,1087.31 L488.79,1087.33 L488.92,1087.34 L489.05,1087.36 L489.19,1087.37 L489.32,1087.39 L489.45,1087.40 L489.58,1087.41 L489.71,1087.43 L489.84,1087.44 L489.97,1087.46 L490.10,1087.47 L490.23,1087.48 L490.36,1087.50 L490.50,1087.51 L490.63,1087.53 L490.76,1087.54 L490.89,1087.55 L491.02,1087.57 L491.15,1087.58 L491.28,1087.59 L491.41,1087.61 L491.54,1087.62 L491.67,1087.63 L491.81,1087.64 L491.94,1087.66 L492.07,1087.67 L492.20,1087.68 L492.33,1087.70 L492.46,1087.71 L492.59,1087.72 L492.72,1087.73 L492.85,1087.75 L492.98,1087.76 L493.11,1087.77 L493.25,1087.78 L493.38,1087.79 L493.51,1087.81 L493.64,1087.82 L493.77,1087.83 L493.90,1087.84 L494.03,1087.85 L494.16,1087.86 L494.29,1087.88 L494.42,1087.89 L494.56,1087.90 L494.69,1087.91 L494.82,1087.92 L494.95,1087.93 L495.08,1087.94 L495.21,1087.95 L495.34,1087.97 L495.47,1087.98 L495.60,1087.99 L495.73,1088.00 L495.87,1088.01 L496.00,1088.02 L496.13,1088.03 L496.26,1088.04 L496.39,1088.05 L496.52,1088.06 L496.65,1088.07 L496.78,1088.08 L496.91,1088.09 L497.04,1088.10 L497.18,1088.11 L497.31,1088.12 L497.44,1088.13 L497.57,1088.14 L497.70,1088.15 L497.83,1088.16 L497.96,1088.17 L498.09,1088.18 L498.22,1088.19 L498.35,1088.20 L498.48,1088.20 L498.62,1088.21 L498.75,1088.22 L498.88,1088.23 L499.01,1088.24 L499.14,1088.25 L499.27,1088.26 L499.40,1088.27 L499.53,1088.27 L499.66,1088.28 L499.79,1088.29 L499.93,1088.30 L500.06,1088.31 L500.19,1088.32 L500.32,1088.32 L500.45,1088.33 L500.58,1088.34 L500.71,1088.35 L500.84,1088.36 L500.97,1088.36 L501.10,1088.37 L501.24,1088.38 L501.37,1088.39 L501.50,1088.39 L501.63,1088.40 L501.76,1088.41 L501.89,1088.42 L502.02,1088.42 L502.15,1088.43 L502.28,1088.44 L502.41,1088.44 L502.55,1088.45 L502.68,1088.46 L502.81,1088.46 L502.94,1088.47 L503.07,1088.48 L503.20,1088.48" fill="none" stroke="#dc0d18" stroke-width="2.6" stroke-linejoin="round" clip-path="url(#cc)" stroke-dasharray="8.2 4.1"/>
<path d="M221.34,796.78 L221.47,819.84 L221.60,834.63 L221.73,845.55 L221.86,854.21 L221.99,861.40 L222.12,867.55 L222.25,872.92 L222.39,877.68 L222.52,881.97 L222.65,885.87 L222.78,889.45 L222.91,892.75 L223.04,895.82 L223.17,898.68 L223.30,901.37 L223.43,903.91 L223.56,906.30 L223.70,908.57 L223.83,910.73 L223.96,912.79 L224.09,914.75 L224.22,916.64 L224.35,918.45 L224.48,920.18 L224.61,921.86 L224.74,923.47 L224.87,925.02 L225.00,926.53 L225.14,927.99 L225.27,929.40 L225.40,930.77 L225.53,932.10 L225.66,933.39 L225.79,934.64 L225.92,935.87 L226.05,937.06 L226.18,938.22 L226.31,939.36 L226.45,940.46 L226.58,941.54 L226.71,942.60 L226.84,943.63 L226.97,944.65 L227.10,945.64 L227.23,946.61 L227.36,947.56 L227.49,948.49 L227.62,949.40 L227.76,950.30 L227.89,951.18 L228.02,952.05 L228.15,952.90 L228.28,953.73 L228.41,954.56 L228.54,955.36 L228.67,956.16 L228.80,956.94 L228.93,957.71 L229.07,958.47 L229.20,959.22 L229.33,959.95 L229.46,960.68 L229.59,961.39 L229.72,962.10 L229.85,962.79 L229.98,963.48 L230.11,964.15 L230.24,964.82 L230.37,965.48 L230.51,966.13 L230.64,966.77 L230.77,967.41 L230.90,968.03 L231.03,968.65 L231.16,969.26 L231.29,969.87 L231.42,970.47 L231.55,971.06 L231.68,971.64 L231.82,972.22 L231.95,972.79 L232.08,973.36 L232.21,973.92 L232.34,974.47 L232.47,975.02 L232.60,975.56 L232.73,976.10 L232.86,976.63 L232.99,977.16 L233.13,977.68 L233.26,978.20 L233.39,978.71 L233.52,979.21 L233.65,979.72 L233.78,980.21 L233.91,980.71 L234.04,981.20 L234.17,981.68 L234.30,982.16 L234.44,982.64 L234.57,983.11 L234.70,983.58 L234.83,984.04 L234.96,984.50 L235.09,984.96 L235.22,985.41 L235.35,985.86 L235.48,986.31 L235.61,986.75 L235.74,987.19 L235.88,987.63 L236.01,988.06 L236.14,988.49 L236.27,988.92 L236.40,989.34 L236.53,989.76 L236.66,990.18 L236.79,990.59 L236.92,991.00 L237.05,991.41 L237.19,991.82 L237.32,992.22 L237.45,992.62 L237.58,993.02 L237.71,993.41 L237.84,993.80 L237.97,994.19 L238.10,994.58 L238.23,994.97 L238.36,995.35 L238.50,995.73 L238.63,996.11 L238.76,996.48 L238.89,996.85 L239.02,997.22 L239.15,997.59 L239.28,997.96 L239.41,998.32 L239.54,998.69 L239.67,999.05 L239.81,999.40 L239.94,999.76 L240.07,1000.11 L240.20,1000.47 L240.33,1000.82 L240.46,1001.16 L240.59,1001.51 L240.72,1001.85 L240.85,1002.20 L240.98,1002.54 L241.12,1002.88 L241.25,1003.21 L241.38,1003.55 L241.51,1003.88 L241.64,1004.21 L241.77,1004.54 L241.90,1004.87 L242.03,1005.20 L242.16,1005.52 L242.29,1005.85 L242.42,1006.17 L242.56,1006.49 L242.69,1006.81 L242.82,1007.13 L242.95,1007.44 L243.08,1007.76 L243.21,1008.07 L243.34,1008.38 L243.47,1008.69 L243.60,1009.00 L243.73,1009.31 L243.87,1009.61 L244.00,1009.92 L244.13,1010.22 L244.26,1010.52 L244.39,1010.82 L244.52,1011.12 L244.65,1011.42 L244.78,1011.71 L244.91,1012.01 L245.04,1012.30 L245.18,1012.60 L245.31,1012.89 L245.44,1013.18 L245.57,1013.47 L245.70,1013.76 L245.83,1014.04 L245.96,1014.33 L246.09,1014.61 L246.22,1014.90 L246.35,1015.18 L246.49,1015.46 L246.62,1015.74 L246.75,1016.02 L246.88,1016.30 L247.01,1016.57 L247.14,1016.85 L247.27,1017.12 L247.40,1017.40 L247.53,1017.67 L247.66,1017.94 L247.79,1018.21 L247.93,1018.48 L248.06,1018.75 L248.19,1019.02 L248.32,1019.29 L248.45,1019.55 L248.58,1019.82 L248.71,1020.08 L248.84,1020.34 L248.97,1020.61 L249.10,1020.87 L249.24,1021.13 L249.37,1021.39 L249.50,1021.64 L249.63,1021.90 L249.76,1022.16 L249.89,1022.41 L250.02,1022.67 L250.15,1022.92 L250.28,1023.18 L250.41,1023.43 L250.55,1023.68 L250.68,1023.93 L250.81,1024.18 L250.94,1024.43 L251.07,1024.68 L251.20,1024.93 L251.33,1025.17 L251.46,1025.42 L251.59,1025.67 L251.72,1025.91 L251.86,1026.15 L251.99,1026.40 L252.12,1026.64 L252.25,1026.88 L252.38,1027.12 L252.51,1027.36 L252.64,1027.60 L252.77,1027.84 L252.90,1028.08 L253.03,1028.32 L253.16,1028.55 L253.30,1028.79 L253.43,1029.02 L253.56,1029.26 L253.69,1029.49 L253.82,1029.73 L253.95,1029.96 L254.08,1030.19 L254.21,1030.42 L254.34,1030.65 L254.47,1030.88 L254.61,1031.11 L254.74,1031.34 L254.87,1031.57 L255.00,1031.80 L255.13,1032.02 L255.26,1032.25 L255.39,1032.48 L255.52,1032.70 L255.65,1032.93 L255.78,1033.15 L255.92,1033.37 L256.05,1033.60 L256.18,1033.82 L256.31,1034.04 L256.44,1034.26 L256.57,1034.48 L256.70,1034.70 L256.83,1034.92 L256.96,1035.14 L257.09,1035.36 L257.23,1035.58 L257.36,1035.79 L257.49,1036.01 L257.62,1036.23 L257.75,1036.44 L257.88,1036.66 L258.01,1036.87 L258.14,1037.08 L258.27,1037.30 L258.40,1037.51 L258.53,1037.72 L258.67,1037.94 L258.80,1038.15 L258.93,1038.36 L259.06,1038.57 L259.19,1038.78 L259.32,1038.99 L259.45,1039.20 L259.58,1039.41 L259.71,1039.61 L259.84,1039.82 L259.98,1040.03 L260.11,1040.23 L260.24,1040.44 L260.37,1040.65 L260.50,1040.85 L260.63,1041.06 L260.76,1041.26 L260.89,1041.46 L261.02,1041.67 L261.15,1041.87 L261.29,1042.07 L261.42,1042.28 L261.55,1042.48 L261.68,1042.68 L261.81,1042.88 L261.94,1043.08 L262.07,1043.28 L262.20,1043.48 L262.33,1043.68 L262.46,1043.88 L262.60,1044.08 L262.73,1044.27 L262.86,1044.47 L262.99,1044.67 L263.12,1044.87 L263.25,1045.06 L263.38,1045.26 L263.51,1045.45 L263.64,1045.65 L263.77,1045.84 L263.91,1046.04 L264.04,1046.23 L264.17,1046.42 L264.30,1046.62 L264.43,1046.81 L264.56,1047.00 L264.69,1047.20 L264.82,1047.39 L264.95,1047.58 L265.08,1047.77 L265.21,1047.96 L265.35,1048.15 L265.48,1048.34 L265.61,1048.53 L265.74,1048.72 L265.87,1048.91 L266.00,1049.10 L266.13,1049.28 L266.26,1049.47 L266.39,1049.66 L266.52,1049.85 L266.66,1050.03 L266.79,1050.22 L266.92,1050.40 L267.05,1050.59 L267.18,1050.78 L267.31,1050.96 L267.44,1051.14 L267.57,1051.33 L267.70,1051.51 L267.83,1051.70 L267.97,1051.88 L268.10,1052.06 L268.23,1052.25 L268.36,1052.43 L268.49,1052.61 L268.62,1052.79 L268.75,1052.97 L268.88,1053.15 L269.01,1053.33 L269.14,1053.52 L269.28,1053.70 L269.41,1053.88 L269.54,1054.05 L269.67,1054.23 L269.80,1054.41 L269.93,1054.59 L270.06,1054.77 L270.19,1054.95 L270.32,1055.13 L270.45,1055.30 L270.58,1055.48 L270.72,1055.66 L270.85,1055.83 L270.98,1056.01 L271.11,1056.19 L271.24,1056.36 L271.37,1056.54 L271.50,1056.71 L271.63,1056.89 L271.76,1057.06 L271.89,1057.24 L272.03,1057.41 L272.16,1057.58 L272.29,1057.76 L272.42,1057.93 L272.55,1058.10 L272.68,1058.28 L272.81,1058.45 L272.94,1058.62 L273.07,1058.79 L273.20,1058.96 L273.34,1059.13 L273.47,1059.31 L273.60,1059.48 L273.73,1059.65 L273.86,1059.82 L273.99,1059.99 L274.12,1060.16 L274.25,1060.33 L274.38,1060.49 L274.51,1060.66 L274.65,1060.83 L274.78,1061.00 L274.91,1061.17 L275.04,1061.34 L275.17,1061.50 L275.30,1061.67 L275.43,1061.84 L275.56,1062.01 L275.69,1062.17 L275.82,1062.34 L275.95,1062.51 L276.09,1062.67 L276.22,1062.84 L276.35,1063.00 L276.48,1063.17 L276.61,1063.33 L276.74,1063.50 L276.87,1063.66 L277.00,1063.83 L277.13,1063.99 L277.26,1064.15 L277.40,1064.32 L277.53,1064.48 L277.66,1064.64 L277.79,1064.81 L277.92,1064.97 L278.05,1065.13 L278.18,1065.29 L278.31,1065.46 L278.44,1065.62 L278.57,1065.78 L278.71,1065.94 L278.84,1066.10 L278.97,1066.26 L279.10,1066.42 L279.23,1066.58 L279.36,1066.74 L279.49,1066.90 L279.62,1067.06 L279.75,1067.22 L279.88,1067.38 L280.02,1067.54 L280.15,1067.70 L280.28,1067.86 L280.41,1068.02 L280.54,1068.18 L280.67,1068.33 L280.80,1068.49 L280.93,1068.65 L281.06,1068.81 L281.19,1068.96 L281.32,1069.12 L281.46,1069.28 L281.59,1069.44 L281.72,1069.59 L281.85,1069.75 L281.98,1069.90 L282.11,1070.06 L282.24,1070.22 L282.37,1070.37 L282.50,1070.53 L282.63,1070.68 L282.77,1070.84 L282.90,1070.99 L283.03,1071.15 L283.16,1071.30 L283.29,1071.45 L283.42,1071.61 L283.55,1071.76 L283.68,1071.91 L283.81,1072.07 L283.94,1072.22 L284.08,1072.37 L284.21,1072.53 L284.34,1072.68 L284.47,1072.83 L284.60,1072.98 L284.73,1073.14 L284.86,1073.29 L284.99,1073.44 L285.12,1073.59 L285.25,1073.74 L285.39,1073.89 L285.52,1074.04 L285.65,1074.19 L285.78,1074.34 L285.91,1074.49 L286.04,1074.64 L286.17,1074.79 L286.30,1074.94 L286.43,1075.09 L286.56,1075.24 L286.70,1075.39 L286.83,1075.54 L286.96,1075.69 L287.09,1075.84 L287.22,1075.99 L287.35,1076.14 L287.48,1076.28 L287.61,1076.43 L287.74,1076.58 L287.87,1076.73 L288.00,1076.87 L288.14,1077.02 L288.27,1077.17 L288.40,1077.32 L288.53,1077.46 L288.66,1077.61 L288.79,1077.76 L288.92,1077.90 L289.05,1078.05 L289.18,1078.19 L289.31,1078.34 L289.45,1078.49 L289.58,1078.63 L289.71,1078.78 L289.84,1078.92 L289.97,1079.07 L290.10,1079.21 L290.23,1079.36 L290.36,1079.50 L290.49,1079.64 L290.62,1079.79 L290.76,1079.93 L290.89,1080.08 L291.02,1080.22 L291.15,1080.36 L291.28,1080.51 L291.41,1080.65 L291.54,1080.79 L291.67,1080.94 L291.80,1081.08 L291.93,1081.22 L292.07,1081.36 L292.20,1081.50 L292.33,1081.65 L292.46,1081.79 L292.59,1081.93 L292.72,1082.07 L292.85,1082.21 L292.98,1082.35 L293.11,1082.50 L293.24,1082.64 L293.37,1082.78 L293.51,1082.92 L293.64,1083.06 L293.77,1083.20 L293.90,1083.34 L294.03,1083.48 L294.16,1083.62 L294.29,1083.76 L294.42,1083.90 L294.55,1084.04 L294.68,1084.18 L294.82,1084.32 L294.95,1084.46 L295.08,1084.59 L295.21,1084.73 L295.34,1084.87 L295.47,1085.01 L295.60,1085.15 L295.73,1085.29 L295.86,1085.42 L295.99,1085.56 L296.13,1085.70 L296.26,1085.84 L296.39,1085.97 L296.52,1086.11 L296.65,1086.25 L296.78,1086.39 L296.91,1086.52 L297.04,1086.66 L297.17,1086.80 L297.30,1086.93 L297.44,1087.07 L297.57,1087.20 L297.70,1087.34 L297.83,1087.48 L297.96,1087.61 L298.09,1087.75 L298.22,1087.88 L298.35,1088.02 L298.48,1088.15 L298.61,1088.29 L298.74,1088.42 L298.88,1088.56 L299.01,1088.69 L299.14,1088.83 L299.27,1088.96 L299.40,1089.09 L299.53,1089.23 L299.66,1089.36 L299.79,1089.50 L299.92,1089.63 L300.05,1089.76 L300.19,1089.90 L300.32,1090.03 L300.45,1090.16 L300.58,1090.30 L300.71,1090.43 L300.84,1090.56 L300.97,1090.69 L301.10,1090.83 L301.23,1090.96 L301.36,1091.09 L301.50,1091.22 L301.63,1091.35 L301.76,1091.49 L301.89,1091.62 L302.02,1091.75 L302.15,1091.88 L302.28,1092.01 L302.41,1092.14 L302.54,1092.27 L302.67,1092.40 L302.81,1092.53 L302.94,1092.67 L303.07,1092.80 L303.20,1092.93 L303.33,1093.06 L303.46,1093.19 L303.59,1093.32 L303.72,1093.45 L303.85,1093.58 L303.98,1093.71 L304.11,1093.83 L304.25,1093.96 L304.38,1094.09 L304.51,1094.22 L304.64,1094.35 L304.77,1094.48 L304.90,1094.61 L305.03,1094.74 L305.16,1094.86 L305.29,1094.99 L305.42,1095.12 L305.56,1095.25 L305.69,1095.38 L305.82,1095.50 L305.95,1095.63 L306.08,1095.76 L306.21,1095.89 L306.34,1096.01 L306.47,1096.14 L306.60,1096.27 L306.73,1096.40 L306.87,1096.52 L307.00,1096.65 L307.13,1096.78 L307.26,1096.90 L307.39,1097.03 L307.52,1097.15 L307.65,1097.28 L307.78,1097.41 L307.91,1097.53 L308.04,1097.66 L308.18,1097.78 L308.31,1097.91 L308.44,1098.03 L308.57,1098.16 L308.70,1098.28 L308.83,1098.41 L308.96,1098.53 L309.09,1098.66 L309.22,1098.78 L309.35,1098.91 L309.49,1099.03 L309.62,1099.16 L309.75,1099.28 L309.88,1099.40 L310.01,1099.53 L310.14,1099.65 L310.27,1099.78 L310.40,1099.90 L310.53,1100.02 L310.66,1100.15 L310.79,1100.27 L310.93,1100.39 L311.06,1100.52 L311.19,1100.64 L311.32,1100.76 L311.45,1100.88 L311.58,1101.01 L311.71,1101.13 L311.84,1101.25 L311.97,1101.37 L312.10,1101.49 L312.24,1101.62 L312.37,1101.74 L312.50,1101.86 L312.63,1101.98 L312.76,1102.10 L312.89,1102.22 L313.02,1102.35 L313.15,1102.47 L313.28,1102.59 L313.41,1102.71 L313.55,1102.83 L313.68,1102.95 L313.81,1103.07 L313.94,1103.19 L314.07,1103.31 L314.20,1103.43 L314.33,1103.55 L314.46,1103.67 L314.59,1103.79 L314.72,1103.91 L314.86,1104.03 L314.99,1104.15 L315.12,1104.27 L315.25,1104.39 L315.38,1104.51 L315.51,1104.63 L315.64,1104.75 L315.77,1104.86 L315.90,1104.98 L316.03,1105.10 L316.16,1105.22 L316.30,1105.34 L316.43,1105.46 L316.56,1105.58 L316.69,1105.69 L316.82,1105.81 L316.95,1105.93 L317.08,1106.05 L317.21,1106.16 L317.34,1106.28 L317.47,1106.40 L317.61,1106.52 L317.74,1106.63 L317.87,1106.75 L318.00,1106.87 L318.13,1106.98 L318.26,1107.10 L318.39,1107.22 L318.52,1107.33 L318.65,1107.45 L318.78,1107.57 L318.92,1107.68 L319.05,1107.80 L319.18,1107.92 L319.31,1108.03 L319.44,1108.15 L319.57,1108.26 L319.70,1108.38 L319.83,1108.49 L319.96,1108.61 L320.09,1108.72 L320.23,1108.84 L320.36,1108.95 L320.49,1109.07 L320.62,1109.18 L320.75,1109.30 L320.88,1109.41 L321.01,1109.53 L321.14,1109.64 L321.27,1109.76 L321.40,1109.87 L321.53,1109.99 L321.67,1110.10 L321.80,1110.21 L321.93,1110.33 L322.06,1110.44 L322.19,1110.55 L322.32,1110.67 L322.45,1110.78 L322.58,1110.89 L322.71,1111.01 L322.84,1111.12 L322.98,1111.23 L323.11,1111.35 L323.24,1111.46 L323.37,1111.57 L323.50,1111.68 L323.63,1111.80 L323.76,1111.91 L323.89,1112.02 L324.02,1112.13 L324.15,1112.24 L324.29,1112.36 L324.42,1112.47 L324.55,1112.58 L324.68,1112.69 L324.81,1112.80 L324.94,1112.91 L325.07,1113.03 L325.20,1113.14 L325.33,1113.25 L325.46,1113.36 L325.60,1113.47 L325.73,1113.58 L325.86,1113.69 L325.99,1113.80 L326.12,1113.91 L326.25,1114.02 L326.38,1114.13 L326.51,1114.24 L326.64,1114.35 L326.77,1114.46 L326.90,1114.57 L327.04,1114.68 L327.17,1114.79 L327.30,1114.90 L327.43,1115.01 L327.56,1115.12 L327.69,1115.23 L327.82,1115.34 L327.95,1115.45 L328.08,1115.56 L328.21,1115.66 L328.35,1115.77 L328.48,1115.88 L328.61,1115.99 L328.74,1116.10 L328.87,1116.21 L329.00,1116.31 L329.13,1116.42 L329.26,1116.53 L329.39,1116.64 L329.52,1116.75 L329.66,1116.85 L329.79,1116.96 L329.92,1117.07 L330.05,1117.18 L330.18,1117.28 L330.31,1117.39 L330.44,1117.50 L330.57,1117.60 L330.70,1117.71 L330.83,1117.82 L330.97,1117.93 L331.10,1118.03 L331.23,1118.14 L331.36,1118.24 L331.49,1118.35 L331.62,1118.46 L331.75,1118.56 L331.88,1118.67 L332.01,1118.77 L332.14,1118.88 L332.28,1118.99 L332.41,1119.09 L332.54,1119.20 L332.67,1119.30 L332.80,1119.41 L332.93,1119.51 L333.06,1119.62 L333.19,1119.72 L333.32,1119.83 L333.45,1119.93 L333.58,1120.04 L333.72,1120.14 L333.85,1120.25 L333.98,1120.35 L334.11,1120.45 L334.24,1120.56 L334.37,1120.66 L334.50,1120.77 L334.63,1120.87 L334.76,1120.97 L334.89,1121.08 L335.03,1121.18 L335.16,1121.29 L335.29,1121.39 L335.42,1121.49 L335.55,1121.59 L335.68,1121.70 L335.81,1121.80 L335.94,1121.90 L336.07,1122.01 L336.20,1122.11 L336.34,1122.21 L336.47,1122.31 L336.60,1122.42 L336.73,1122.52 L336.86,1122.62 L336.99,1122.72 L337.12,1122.83 L337.25,1122.93 L337.38,1123.03 L337.51,1123.13 L337.65,1123.23 L337.78,1123.33 L337.91,1123.43 L338.04,1123.54 L338.17,1123.64 L338.30,1123.74 L338.43,1123.84 L338.56,1123.94 L338.69,1124.04 L338.82,1124.14 L338.95,1124.24 L339.09,1124.34 L339.22,1124.44 L339.35,1124.54 L339.48,1124.64 L339.61,1124.74 L339.74,1124.84 L339.87,1124.94 L340.00,1125.04 L340.13,1125.14 L340.26,1125.24 L340.40,1125.34 L340.53,1125.44 L340.66,1125.54 L340.79,1125.64 L340.92,1125.74 L341.05,1125.84 L341.18,1125.94 L341.31,1126.04 L341.44,1126.14 L341.57,1126.23 L341.71,1126.33 L341.84,1126.43 L341.97,1126.53 L342.10,1126.63 L342.23,1126.73 L342.36,1126.82 L342.49,1126.92 L342.62,1127.02 L342.75,1127.12 L342.88,1127.22 L343.02,1127.31 L343.15,1127.41 L343.28,1127.51 L343.41,1127.61 L343.54,1127.70 L343.67,1127.80 L343.80,1127.90 L343.93,1127.99 L344.06,1128.09 L344.19,1128.19 L344.32,1128.28 L344.46,1128.38 L344.59,1128.48 L344.72,1128.57 L344.85,1128.67 L344.98,1128.77 L345.11,1128.86 L345.24,1128.96 L345.37,1129.05 L345.50,1129.15 L345.63,1129.24 L345.77,1129.34 L345.90,1129.44 L346.03,1129.53 L346.16,1129.63 L346.29,1129.72 L346.42,1129.82 L346.55,1129.91 L346.68,1130.01 L346.81,1130.10 L346.94,1130.20 L347.08,1130.29 L347.21,1130.38 L347.34,1130.48 L347.47,1130.57 L347.60,1130.67 L347.73,1130.76 L347.86,1130.86 L347.99,1130.95 L348.12,1131.04 L348.25,1131.14 L348.39,1131.23 L348.52,1131.32 L348.65,1131.42 L348.78,1131.51 L348.91,1131.60 L349.04,1131.70 L349.17,1131.79 L349.30,1131.88 L349.43,1131.98 L349.56,1132.07 L349.69,1132.16 L349.83,1132.25 L349.96,1132.35 L350.09,1132.44 L350.22,1132.53 L350.35,1132.62 L350.48,1132.72 L350.61,1132.81 L350.74,1132.90 L350.87,1132.99 L351.00,1133.08 L351.14,1133.18 L351.27,1133.27 L351.40,1133.36 L351.53,1133.45 L351.66,1133.54 L351.79,1133.63 L351.92,1133.72 L352.05,1133.81 L352.18,1133.90 L352.31,1134.00 L352.45,1134.09 L352.58,1134.18 L352.71,1134.27 L352.84,1134.36 L352.97,1134.45 L353.10,1134.54 L353.23,1134.63 L353.36,1134.72 L353.49,1134.81 L353.62,1134.90 L353.76,1134.99 L353.89,1135.08 L354.02,1135.17 L354.15,1135.26 L354.28,1135.35 L354.41,1135.43 L354.54,1135.52 L354.67,1135.61 L354.80,1135.70 L354.93,1135.79 L355.07,1135.88 L355.20,1135.97 L355.33,1136.06 L355.46,1136.15 L355.59,1136.23 L355.72,1136.32 L355.85,1136.41 L355.98,1136.50 L356.11,1136.59 L356.24,1136.67 L356.37,1136.76 L356.51,1136.85 L356.64,1136.94 L356.77,1137.02 L356.90,1137.11 L357.03,1137.20 L357.16,1137.29 L357.29,1137.37 L357.42,1137.46 L357.55,1137.55 L357.68,1137.63 L357.82,1137.72 L357.95,1137.81 L358.08,1137.89 L358.21,1137.98 L358.34,1138.07 L358.47,1138.15 L358.60,1138.24 L358.73,1138.33 L358.86,1138.41 L358.99,1138.50 L359.13,1138.58 L359.26,1138.67 L359.39,1138.76 L359.52,1138.84 L359.65,1138.93 L359.78,1139.01 L359.91,1139.10 L360.04,1139.18 L360.17,1139.27 L360.30,1139.35 L360.44,1139.44 L360.57,1139.52 L360.70,1139.61 L360.83,1139.69 L360.96,1139.78 L361.09,1139.86 L361.22,1139.94 L361.35,1140.03 L361.48,1140.11 L361.61,1140.20 L361.74,1140.28 L361.88,1140.36 L362.01,1140.45 L362.14,1140.53 L362.27,1140.61 L362.40,1140.70 L362.53,1140.78 L362.66,1140.86 L362.79,1140.95 L362.92,1141.03 L363.05,1141.11 L363.19,1141.20 L363.32,1141.28 L363.45,1141.36 L363.58,1141.44 L363.71,1141.53 L363.84,1141.61 L363.97,1141.69 L364.10,1141.77 L364.23,1141.86 L364.36,1141.94 L364.50,1142.02 L364.63,1142.10 L364.76,1142.18 L364.89,1142.26 L365.02,1142.35 L365.15,1142.43 L365.28,1142.51 L365.41,1142.59 L365.54,1142.67 L365.67,1142.75 L365.81,1142.83 L365.94,1142.91 L366.07,1143.00 L366.20,1143.08 L366.33,1143.16 L366.46,1143.24 L366.59,1143.32 L366.72,1143.40 L366.85,1143.48 L366.98,1143.56 L367.11,1143.64 L367.25,1143.72 L367.38,1143.80 L367.51,1143.88 L367.64,1143.96 L367.77,1144.04 L367.90,1144.12 L368.03,1144.20 L368.16,1144.27 L368.29,1144.35 L368.42,1144.43 L368.56,1144.51 L368.69,1144.59 L368.82,1144.67 L368.95,1144.75 L369.08,1144.83 L369.21,1144.90 L369.34,1144.98 L369.47,1145.06 L369.60,1145.14 L369.73,1145.22 L369.87,1145.30 L370.00,1145.37 L370.13,1145.45 L370.26,1145.53 L370.39,1145.61 L370.52,1145.68 L370.65,1145.76 L370.78,1145.84 L370.91,1145.92 L371.04,1145.99 L371.18,1146.07 L371.31,1146.15 L371.44,1146.22 L371.57,1146.30 L371.70,1146.38 L371.83,1146.45 L371.96,1146.53 L372.09,1146.61 L372.22,1146.68 L372.35,1146.76 L372.48,1146.84 L372.62,1146.91 L372.75,1146.99 L372.88,1147.06 L373.01,1147.14 L373.14,1147.21 L373.27,1147.29 L373.40,1147.37 L373.53,1147.44 L373.66,1147.52 L373.79,1147.59 L373.93,1147.67 L374.06,1147.74 L374.19,1147.82 L374.32,1147.89 L374.45,1147.97 L374.58,1148.04 L374.71,1148.11 L374.84,1148.19 L374.97,1148.26 L375.10,1148.34 L375.24,1148.41 L375.37,1148.49 L375.50,1148.56 L375.63,1148.63 L375.76,1148.71 L375.89,1148.78 L376.02,1148.85 L376.15,1148.93 L376.28,1149.00 L376.41,1149.07 L376.55,1149.15 L376.68,1149.22 L376.81,1149.29 L376.94,1149.37 L377.07,1149.44 L377.20,1149.51 L377.33,1149.58 L377.46,1149.66 L377.59,1149.73 L377.72,1149.80 L377.86,1149.87 L377.99,1149.95 L378.12,1150.02 L378.25,1150.09 L378.38,1150.16 L378.51,1150.23 L378.64,1150.31 L378.77,1150.38 L378.90,1150.45 L379.03,1150.52 L379.16,1150.59 L379.30,1150.66 L379.43,1150.73 L379.56,1150.80 L379.69,1150.87 L379.82,1150.95 L379.95,1151.02 L380.08,1151.09 L380.21,1151.16 L380.34,1151.23 L380.47,1151.30 L380.61,1151.37 L380.74,1151.44 L380.87,1151.51 L381.00,1151.58 L381.13,1151.65 L381.26,1151.72 L381.39,1151.79 L381.52,1151.86 L381.65,1151.93 L381.78,1152.00 L381.92,1152.06 L382.05,1152.13 L382.18,1152.20 L382.31,1152.27 L382.44,1152.34 L382.57,1152.41 L382.70,1152.48 L382.83,1152.55 L382.96,1152.62 L383.09,1152.68 L383.23,1152.75 L383.36,1152.82 L383.49,1152.89 L383.62,1152.96 L383.75,1153.02 L383.88,1153.09 L384.01,1153.16 L384.14,1153.23 L384.27,1153.30 L384.40,1153.36 L384.53,1153.43 L384.67,1153.50 L384.80,1153.56 L384.93,1153.63 L385.06,1153.70 L385.19,1153.77 L385.32,1153.83 L385.45,1153.90 L385.58,1153.97 L385.71,1154.03 L385.84,1154.10 L385.98,1154.16 L386.11,1154.23 L386.24,1154.30 L386.37,1154.36 L386.50,1154.43 L386.63,1154.49 L386.76,1154.56 L386.89,1154.63 L387.02,1154.69 L387.15,1154.76 L387.29,1154.82 L387.42,1154.89 L387.55,1154.95 L387.68,1155.02 L387.81,1155.08 L387.94,1155.15 L388.07,1155.21 L388.20,1155.28 L388.33,1155.34 L388.46,1155.41 L388.60,1155.47 L388.73,1155.53 L388.86,1155.60 L388.99,1155.66 L389.12,1155.73 L389.25,1155.79 L389.38,1155.85 L389.51,1155.92 L389.64,1155.98 L389.77,1156.05 L389.90,1156.11 L390.04,1156.17 L390.17,1156.24 L390.30,1156.30 L390.43,1156.36 L390.56,1156.42 L390.69,1156.49 L390.82,1156.55 L390.95,1156.61 L391.08,1156.68 L391.21,1156.74 L391.35,1156.80 L391.48,1156.86 L391.61,1156.93 L391.74,1156.99 L391.87,1157.05 L392.00,1157.11 L392.13,1157.17 L392.26,1157.23 L392.39,1157.30 L392.52,1157.36 L392.66,1157.42 L392.79,1157.48 L392.92,1157.54 L393.05,1157.60 L393.18,1157.66 L393.31,1157.73 L393.44,1157.79 L393.57,1157.85 L393.70,1157.91 L393.83,1157.97 L393.97,1158.03 L394.10,1158.09 L394.23,1158.15 L394.36,1158.21 L394.49,1158.27 L394.62,1158.33 L394.75,1158.39 L394.88,1158.45 L395.01,1158.51 L395.14,1158.57 L395.27,1158.63 L395.41,1158.69 L395.54,1158.75 L395.67,1158.81 L395.80,1158.87 L395.93,1158.93 L396.06,1158.98 L396.19,1159.04 L396.32,1159.10 L396.45,1159.16 L396.58,1159.22 L396.72,1159.28 L396.85,1159.34 L396.98,1159.39 L397.11,1159.45 L397.24,1159.51 L397.37,1159.57 L397.50,1159.63 L397.63,1159.68 L397.76,1159.74 L397.89,1159.80 L398.03,1159.86 L398.16,1159.91 L398.29,1159.97 L398.42,1160.03 L398.55,1160.09 L398.68,1160.14 L398.81,1160.20 L398.94,1160.26 L399.07,1160.31 L399.20,1160.37 L399.34,1160.43 L399.47,1160.48 L399.60,1160.54 L399.73,1160.60 L399.86,1160.65 L399.99,1160.71 L400.12,1160.77 L400.25,1160.82 L400.38,1160.88 L400.51,1160.93 L400.65,1160.99 L400.78,1161.04 L400.91,1161.10 L401.04,1161.16 L401.17,1161.21 L401.30,1161.27 L401.43,1161.32 L401.56,1161.38 L401.69,1161.43 L401.82,1161.49 L401.95,1161.54 L402.09,1161.60 L402.22,1161.65 L402.35,1161.70 L402.48,1161.76 L402.61,1161.81 L402.74,1161.87 L402.87,1161.92 L403.00,1161.97 L403.13,1162.03 L403.26,1162.08 L403.40,1162.14 L403.53,1162.19 L403.66,1162.24 L403.79,1162.30 L403.92,1162.35 L404.05,1162.40 L404.18,1162.46 L404.31,1162.51 L404.44,1162.56 L404.57,1162.62 L404.71,1162.67 L404.84,1162.72 L404.97,1162.77 L405.10,1162.83 L405.23,1162.88 L405.36,1162.93 L405.49,1162.98 L405.62,1163.03 L405.75,1163.09 L405.88,1163.14 L406.02,1163.19 L406.15,1163.24 L406.28,1163.29 L406.41,1163.35 L406.54,1163.40 L406.67,1163.45 L406.80,1163.50 L406.93,1163.55 L407.06,1163.60 L407.19,1163.65 L407.32,1163.70 L407.46,1163.75 L407.59,1163.80 L407.72,1163.86 L407.85,1163.91 L407.98,1163.96 L408.11,1164.01 L408.24,1164.06 L408.37,1164.11 L408.50,1164.16 L408.63,1164.21 L408.77,1164.26 L408.90,1164.31 L409.03,1164.36 L409.16,1164.41 L409.29,1164.46 L409.42,1164.50 L409.55,1164.55 L409.68,1164.60 L409.81,1164.65 L409.94,1164.70 L410.08,1164.75 L410.21,1164.80 L410.34,1164.85 L410.47,1164.90 L410.60,1164.94 L410.73,1164.99 L410.86,1165.04 L410.99,1165.09 L411.12,1165.14 L411.25,1165.19 L411.39,1165.23 L411.52,1165.28 L411.65,1165.33 L411.78,1165.38 L411.91,1165.42 L412.04,1165.47 L412.17,1165.52 L412.30,1165.57 L412.43,1165.61 L412.56,1165.66 L412.69,1165.71 L412.83,1165.76 L412.96,1165.80 L413.09,1165.85 L413.22,1165.90 L413.35,1165.94 L413.48,1165.99 L413.61,1166.03 L413.74,1166.08 L413.87,1166.13 L414.00,1166.17 L414.14,1166.22 L414.27,1166.27 L414.40,1166.31 L414.53,1166.36 L414.66,1166.40 L414.79,1166.45 L414.92,1166.49 L415.05,1166.54 L415.18,1166.58 L415.31,1166.63 L415.45,1166.67 L415.58,1166.72 L415.71,1166.76 L415.84,1166.81 L415.97,1166.85 L416.10,1166.90 L416.23,1166.94 L416.36,1166.99 L416.49,1167.03 L416.62,1167.08 L416.76,1167.12 L416.89,1167.16 L417.02,1167.21 L417.15,1167.25 L417.28,1167.30 L417.41,1167.34 L417.54,1167.38 L417.67,1167.43 L417.80,1167.47 L417.93,1167.51 L418.06,1167.56 L418.20,1167.60 L418.33,1167.64 L418.46,1167.69 L418.59,1167.73 L418.72,1167.77 L418.85,1167.81 L418.98,1167.86 L419.11,1167.90 L419.24,1167.94 L419.37,1167.98 L419.51,1168.03 L419.64,1168.07 L419.77,1168.11 L419.90,1168.15 L420.03,1168.19 L420.16,1168.24 L420.29,1168.28 L420.42,1168.32 L420.55,1168.36 L420.68,1168.40 L420.82,1168.44 L420.95,1168.48 L421.08,1168.53 L421.21,1168.57 L421.34,1168.61 L421.47,1168.65 L421.60,1168.69 L421.73,1168.73 L421.86,1168.77 L421.99,1168.81 L422.13,1168.85 L422.26,1168.89 L422.39,1168.93 L422.52,1168.97 L422.65,1169.01 L422.78,1169.05 L422.91,1169.09 L423.04,1169.13 L423.17,1169.17 L423.30,1169.21 L423.44,1169.25 L423.57,1169.29 L423.70,1169.33 L423.83,1169.37 L423.96,1169.41 L424.09,1169.45 L424.22,1169.48 L424.35,1169.52 L424.48,1169.56 L424.61,1169.60 L424.74,1169.64 L424.88,1169.68 L425.01,1169.72 L425.14,1169.75 L425.27,1169.79 L425.40,1169.83 L425.53,1169.87 L425.66,1169.91 L425.79,1169.94 L425.92,1169.98 L426.05,1170.02 L426.19,1170.06 L426.32,1170.09 L426.45,1170.13 L426.58,1170.17 L426.71,1170.21 L426.84,1170.24 L426.97,1170.28 L427.10,1170.32 L427.23,1170.35 L427.36,1170.39 L427.50,1170.43 L427.63,1170.46 L427.76,1170.50 L427.89,1170.54 L428.02,1170.57 L428.15,1170.61 L428.28,1170.65 L428.41,1170.68 L428.54,1170.72 L428.67,1170.75 L428.81,1170.79 L428.94,1170.82 L429.07,1170.86 L429.20,1170.90 L429.33,1170.93 L429.46,1170.97 L429.59,1171.00 L429.72,1171.04 L429.85,1171.07 L429.98,1171.11 L430.11,1171.14 L430.25,1171.18 L430.38,1171.21 L430.51,1171.24 L430.64,1171.28 L430.77,1171.31 L430.90,1171.35 L431.03,1171.38 L431.16,1171.42 L431.29,1171.45 L431.42,1171.48 L431.56,1171.52 L431.69,1171.55 L431.82,1171.59 L431.95,1171.62 L432.08,1171.65 L432.21,1171.69 L432.34,1171.72 L432.47,1171.75 L432.60,1171.79 L432.73,1171.82 L432.87,1171.85 L433.00,1171.88 L433.13,1171.92 L433.26,1171.95 L433.39,1171.98 L433.52,1172.01 L433.65,1172.05 L433.78,1172.08 L433.91,1172.11 L434.04,1172.14 L434.18,1172.18 L434.31,1172.21 L434.44,1172.24 L434.57,1172.27 L434.70,1172.30 L434.83,1172.33 L434.96,1172.37 L435.09,1172.40 L435.22,1172.43 L435.35,1172.46 L435.48,1172.49 L435.62,1172.52 L435.75,1172.55 L435.88,1172.58 L436.01,1172.62 L436.14,1172.65 L436.27,1172.68 L436.40,1172.71 L436.53,1172.74 L436.66,1172.77 L436.79,1172.80 L436.93,1172.83 L437.06,1172.86 L437.19,1172.89 L437.32,1172.92 L437.45,1172.95 L437.58,1172.98 L437.71,1173.01 L437.84,1173.04 L437.97,1173.07 L438.10,1173.10 L438.24,1173.13 L438.37,1173.15 L438.50,1173.18 L438.63,1173.21 L438.76,1173.24 L438.89,1173.27 L439.02,1173.30 L439.15,1173.33 L439.28,1173.36 L439.41,1173.38 L439.55,1173.41 L439.68,1173.44 L439.81,1173.47 L439.94,1173.50 L440.07,1173.53 L440.20,1173.55 L440.33,1173.58 L440.46,1173.61 L440.59,1173.64 L440.72,1173.66 L440.85,1173.69 L440.99,1173.72 L441.12,1173.75 L441.25,1173.77 L441.38,1173.80 L441.51,1173.83 L441.64,1173.86 L441.77,1173.88 L441.90,1173.91 L442.03,1173.94 L442.16,1173.96 L442.30,1173.99 L442.43,1174.02 L442.56,1174.04 L442.69,1174.07 L442.82,1174.09 L442.95,1174.12 L443.08,1174.15 L443.21,1174.17 L443.34,1174.20 L443.47,1174.22 L443.61,1174.25 L443.74,1174.28 L443.87,1174.30 L444.00,1174.33 L444.13,1174.35 L444.26,1174.38 L444.39,1174.40 L444.52,1174.43 L444.65,1174.45 L444.78,1174.48 L444.92,1174.50 L445.05,1174.53 L445.18,1174.55 L445.31,1174.58 L445.44,1174.60 L445.57,1174.63 L445.70,1174.65 L445.83,1174.67 L445.96,1174.70 L446.09,1174.72 L446.23,1174.75 L446.36,1174.77 L446.49,1174.79 L446.62,1174.82 L446.75,1174.84 L446.88,1174.86 L447.01,1174.89 L447.14,1174.91 L447.27,1174.93 L447.40,1174.96 L447.53,1174.98 L447.67,1175.00 L447.80,1175.03 L447.93,1175.05 L448.06,1175.07 L448.19,1175.10 L448.32,1175.12 L448.45,1175.14 L448.58,1175.16 L448.71,1175.19 L448.84,1175.21 L448.98,1175.23 L449.11,1175.25 L449.24,1175.27 L449.37,1175.30 L449.50,1175.32 L449.63,1175.34 L449.76,1175.36 L449.89,1175.38 L450.02,1175.40 L450.15,1175.43 L450.29,1175.45 L450.42,1175.47 L450.55,1175.49 L450.68,1175.51 L450.81,1175.53 L450.94,1175.55 L451.07,1175.57 L451.20,1175.59 L451.33,1175.61 L451.46,1175.63 L451.60,1175.66 L451.73,1175.68 L451.86,1175.70 L451.99,1175.72 L452.12,1175.74 L452.25,1175.76 L452.38,1175.78 L452.51,1175.80 L452.64,1175.82 L452.77,1175.84 L452.90,1175.86 L453.04,1175.87 L453.17,1175.89 L453.30,1175.91 L453.43,1175.93 L453.56,1175.95 L453.69,1175.97 L453.82,1175.99 L453.95,1176.01 L454.08,1176.03 L454.21,1176.05 L454.35,1176.07 L454.48,1176.08 L454.61,1176.10 L454.74,1176.12 L454.87,1176.14 L455.00,1176.16 L455.13,1176.18 L455.26,1176.19 L455.39,1176.21 L455.52,1176.23 L455.66,1176.25 L455.79,1176.27 L455.92,1176.28 L456.05,1176.30 L456.18,1176.32 L456.31,1176.34 L456.44,1176.35 L456.57,1176.37 L456.70,1176.39 L456.83,1176.41 L456.97,1176.42 L457.10,1176.44 L457.23,1176.46 L457.36,1176.47 L457.49,1176.49 L457.62,1176.51 L457.75,1176.52 L457.88,1176.54 L458.01,1176.56 L458.14,1176.57 L458.27,1176.59 L458.41,1176.60 L458.54,1176.62 L458.67,1176.64 L458.80,1176.65 L458.93,1176.67 L459.06,1176.68 L459.19,1176.70 L459.32,1176.71 L459.45,1176.73 L459.58,1176.75 L459.72,1176.76 L459.85,1176.78 L459.98,1176.79 L460.11,1176.81 L460.24,1176.82 L460.37,1176.84 L460.50,1176.85 L460.63,1176.87 L460.76,1176.88 L460.89,1176.90 L461.03,1176.91 L461.16,1176.92 L461.29,1176.94 L461.42,1176.95 L461.55,1176.97 L461.68,1176.98 L461.81,1176.99 L461.94,1177.01 L462.07,1177.02 L462.20,1177.04 L462.34,1177.05 L462.47,1177.06 L462.60,1177.08 L462.73,1177.09 L462.86,1177.10 L462.99,1177.12 L463.12,1177.13 L463.25,1177.14 L463.38,1177.16 L463.51,1177.17 L463.64,1177.18 L463.78,1177.20 L463.91,1177.21 L464.04,1177.22 L464.17,1177.23 L464.30,1177.25 L464.43,1177.26 L464.56,1177.27 L464.69,1177.28 L464.82,1177.29 L464.95,1177.31 L465.09,1177.32 L465.22,1177.33 L465.35,1177.34 L465.48,1177.35 L465.61,1177.37 L465.74,1177.38 L465.87,1177.39 L466.00,1177.40 L466.13,1177.41 L466.26,1177.42 L466.40,1177.43 L466.53,1177.44 L466.66,1177.46 L466.79,1177.47 L466.92,1177.48 L467.05,1177.49 L467.18,1177.50 L467.31,1177.51 L467.44,1177.52 L467.57,1177.53 L467.71,1177.54 L467.84,1177.55 L467.97,1177.56 L468.10,1177.57 L468.23,1177.58 L468.36,1177.59 L468.49,1177.60 L468.62,1177.61 L468.75,1177.62 L468.88,1177.63 L469.02,1177.64 L469.15,1177.65 L469.28,1177.66 L469.41,1177.67 L469.54,1177.68 L469.67,1177.69 L469.80,1177.70 L469.93,1177.71 L470.06,1177.71 L470.19,1177.72 L470.32,1177.73 L470.46,1177.74 L470.59,1177.75 L470.72,1177.76 L470.85,1177.77 L470.98,1177.78 L471.11,1177.78 L471.24,1177.79 L471.37,1177.80 L471.50,1177.81 L471.63,1177.82 L471.77,1177.82 L471.90,1177.83 L472.03,1177.84 L472.16,1177.85 L472.29,1177.85 L472.42,1177.86 L472.55,1177.87 L472.68,1177.88 L472.81,1177.88 L472.94,1177.89 L473.08,1177.90 L473.21,1177.91 L473.34,1177.91 L473.47,1177.92 L473.60,1177.93 L473.73,1177.93 L473.86,1177.94 L473.99,1177.95 L474.12,1177.95 L474.25,1177.96 L474.39,1177.97 L474.52,1177.97 L474.65,1177.98 L474.78,1177.99 L474.91,1177.99 L475.04,1178.00 L475.17,1178.00 L475.30,1178.01 L475.43,1178.01 L475.56,1178.02 L475.69,1178.03 L475.83,1178.03 L475.96,1178.04 L476.09,1178.04 L476.22,1178.05 L476.35,1178.05 L476.48,1178.06 L476.61,1178.06 L476.74,1178.07 L476.87,1178.07 L477.00,1178.08 L477.14,1178.08 L477.27,1178.09 L477.40,1178.09 L477.53,1178.10 L477.66,1178.10 L477.79,1178.11 L477.92,1178.11 L478.05,1178.11 L478.18,1178.12 L478.31,1178.12 L478.45,1178.13 L478.58,1178.13 L478.71,1178.13 L478.84,1178.14 L478.97,1178.14 L479.10,1178.15 L479.23,1178.15 L479.36,1178.15 L479.49,1178.16 L479.62,1178.16 L479.76,1178.16 L479.89,1178.17 L480.02,1178.17 L480.15,1178.17 L480.28,1178.17 L480.41,1178.18 L480.54,1178.18 L480.67,1178.18 L480.80,1178.19 L480.93,1178.19 L481.06,1178.19 L481.20,1178.19 L481.33,1178.20 L481.46,1178.20 L481.59,1178.20 L481.72,1178.20 L481.85,1178.20 L481.98,1178.21 L482.11,1178.21 L482.24,1178.21 L482.37,1178.21 L482.51,1178.21 L482.64,1178.22 L482.77,1178.22 L482.90,1178.22 L483.03,1178.22 L483.16,1178.22 L483.29,1178.22 L483.42,1178.22 L483.55,1178.22 L483.68,1178.23 L483.82,1178.23 L483.95,1178.23 L484.08,1178.23 L484.21,1178.23 L484.34,1178.23 L484.47,1178.23 L484.60,1178.23 L484.73,1178.23 L484.86,1178.23 L484.99,1178.23 L485.13,1178.23 L485.26,1178.23 L485.39,1178.23 L485.52,1178.23 L485.65,1178.23 L485.78,1178.23 L485.91,1178.23 L486.04,1178.23 L486.17,1178.23 L486.30,1178.23 L486.43,1178.23 L486.57,1178.23 L486.70,1178.23 L486.83,1178.23 L486.96,1178.23 L487.09,1178.23 L487.22,1178.22 L487.35,1178.22 L487.48,1178.22 L487.61,1178.22 L487.74,1178.22 L487.88,1178.22 L488.01,1178.22 L488.14,1178.22 L488.27,1178.21 L488.40,1178.21 L488.53,1178.21 L488.66,1178.21 L488.79,1178.21 L488.92,1178.21 L489.05,1178.20 L489.19,1178.20 L489.32,1178.20 L489.45,1178.20 L489.58,1178.19 L489.71,1178.19 L489.84,1178.19 L489.97,1178.19 L490.10,1178.19 L490.23,1178.18 L490.36,1178.18 L490.50,1178.18 L490.63,1178.17 L490.76,1178.17 L490.89,1178.17 L491.02,1178.17 L491.15,1178.16 L491.28,1178.16 L491.41,1178.16 L491.54,1178.15 L491.67,1178.15 L491.81,1178.15 L491.94,1178.14 L492.07,1178.14 L492.20,1178.13 L492.33,1178.13 L492.46,1178.13 L492.59,1178.12 L492.72,1178.12 L492.85,1178.11 L492.98,1178.11 L493.11,1178.11 L493.25,1178.10 L493.38,1178.10 L493.51,1178.09 L493.64,1178.09 L493.77,1178.08 L493.90,1178.08 L494.03,1178.08 L494.16,1178.07 L494.29,1178.07 L494.42,1178.06 L494.56,1178.06 L494.69,1178.05 L494.82,1178.05 L494.95,1178.04 L495.08,1178.04 L495.21,1178.03 L495.34,1178.02 L495.47,1178.02 L495.60,1178.01 L495.73,1178.01 L495.87,1178.00 L496.00,1178.00 L496.13,1177.99 L496.26,1177.98 L496.39,1177.98 L496.52,1177.97 L496.65,1177.97 L496.78,1177.96 L496.91,1177.95 L497.04,1177.95 L497.18,1177.94 L497.31,1177.93 L497.44,1177.93 L497.57,1177.92 L497.70,1177.92 L497.83,1177.91 L497.96,1177.90 L498.09,1177.89 L498.22,1177.89 L498.35,1177.88 L498.48,1177.87 L498.62,1177.87 L498.75,1177.86 L498.88,1177.85 L499.01,1177.84 L499.14,1177.84 L499.27,1177.83 L499.40,1177.82 L499.53,1177.81 L499.66,1177.81 L499.79,1177.80 L499.93,1177.79 L500.06,1177.78 L500.19,1177.78 L500.32,1177.77 L500.45,1177.76 L500.58,1177.75 L500.71,1177.74 L500.84,1177.73 L500.97,1177.73 L501.10,1177.72 L501.24,1177.71 L501.37,1177.70 L501.50,1177.69 L501.63,1177.68 L501.76,1177.67 L501.89,1177.67 L502.02,1177.66 L502.15,1177.65 L502.28,1177.64 L502.41,1177.63 L502.55,1177.62 L502.68,1177.61 L502.81,1177.60 L502.94,1177.59 L503.07,1177.58 L503.20,1177.57" fill="none" stroke="#000078" stroke-width="2.6" stroke-linejoin="round" clip-path="url(#cc)"/>
<path d="M244.00,802.77 L244.13,819.32 L244.26,831.16 L244.39,840.40 L244.52,847.97 L244.65,854.39 L244.78,859.97 L244.91,864.90 L245.04,869.32 L245.18,873.33 L245.31,876.99 L245.44,880.37 L245.57,883.50 L245.70,886.42 L245.83,889.16 L245.96,891.74 L246.09,894.17 L246.22,896.47 L246.35,898.66 L246.49,900.75 L246.62,902.74 L246.75,904.64 L246.88,906.47 L247.01,908.23 L247.14,909.92 L247.27,911.54 L247.40,913.12 L247.53,914.63 L247.66,916.10 L247.79,917.53 L247.93,918.91 L248.06,920.24 L248.19,921.55 L248.32,922.81 L248.45,924.04 L248.58,925.24 L248.71,926.41 L248.84,927.55 L248.97,928.66 L249.10,929.75 L249.24,930.81 L249.37,931.85 L249.50,932.87 L249.63,933.86 L249.76,934.84 L249.89,935.79 L250.02,936.73 L250.15,937.64 L250.28,938.54 L250.41,939.43 L250.55,940.30 L250.68,941.15 L250.81,941.99 L250.94,942.81 L251.07,943.62 L251.20,944.42 L251.33,945.20 L251.46,945.97 L251.59,946.73 L251.72,947.48 L251.86,948.22 L251.99,948.95 L252.12,949.66 L252.25,950.37 L252.38,951.06 L252.51,951.75 L252.64,952.43 L252.77,953.09 L252.90,953.75 L253.03,954.40 L253.16,955.05 L253.30,955.68 L253.43,956.31 L253.56,956.93 L253.69,957.54 L253.82,958.15 L253.95,958.74 L254.08,959.33 L254.21,959.92 L254.34,960.50 L254.47,961.07 L254.61,961.63 L254.74,962.19 L254.87,962.75 L255.00,963.30 L255.13,963.84 L255.26,964.37 L255.39,964.91 L255.52,965.43 L255.65,965.95 L255.78,966.47 L255.92,966.98 L256.05,967.49 L256.18,967.99 L256.31,968.49 L256.44,968.98 L256.57,969.47 L256.70,969.95 L256.83,970.43 L256.96,970.91 L257.09,971.38 L257.23,971.84 L257.36,972.31 L257.49,972.77 L257.62,973.22 L257.75,973.68 L257.88,974.13 L258.01,974.57 L258.14,975.01 L258.27,975.45 L258.40,975.89 L258.53,976.32 L258.67,976.75 L258.80,977.17 L258.93,977.59 L259.06,978.01 L259.19,978.43 L259.32,978.84 L259.45,979.25 L259.58,979.66 L259.71,980.06 L259.84,980.47 L259.98,980.86 L260.11,981.26 L260.24,981.65 L260.37,982.05 L260.50,982.43 L260.63,982.82 L260.76,983.20 L260.89,983.58 L261.02,983.96 L261.15,984.34 L261.29,984.71 L261.42,985.08 L261.55,985.45 L261.68,985.82 L261.81,986.19 L261.94,986.55 L262.07,986.91 L262.20,987.27 L262.33,987.62 L262.46,987.98 L262.60,988.33 L262.73,988.68 L262.86,989.03 L262.99,989.38 L263.12,989.72 L263.25,990.06 L263.38,990.40 L263.51,990.74 L263.64,991.08 L263.77,991.42 L263.91,991.75 L264.04,992.08 L264.17,992.41 L264.30,992.74 L264.43,993.07 L264.56,993.39 L264.69,993.72 L264.82,994.04 L264.95,994.36 L265.08,994.68 L265.21,994.99 L265.35,995.31 L265.48,995.62 L265.61,995.94 L265.74,996.25 L265.87,996.56 L266.00,996.87 L266.13,997.17 L266.26,997.48 L266.39,997.78 L266.52,998.09 L266.66,998.39 L266.79,998.69 L266.92,998.99 L267.05,999.28 L267.18,999.58 L267.31,999.88 L267.44,1000.17 L267.57,1000.46 L267.70,1000.75 L267.83,1001.04 L267.97,1001.33 L268.10,1001.62 L268.23,1001.90 L268.36,1002.19 L268.49,1002.47 L268.62,1002.76 L268.75,1003.04 L268.88,1003.32 L269.01,1003.60 L269.14,1003.88 L269.28,1004.15 L269.41,1004.43 L269.54,1004.70 L269.67,1004.98 L269.80,1005.25 L269.93,1005.52 L270.06,1005.79 L270.19,1006.06 L270.32,1006.33 L270.45,1006.60 L270.58,1006.87 L270.72,1007.13 L270.85,1007.40 L270.98,1007.66 L271.11,1007.92 L271.24,1008.19 L271.37,1008.45 L271.50,1008.71 L271.63,1008.97 L271.76,1009.23 L271.89,1009.48 L272.03,1009.74 L272.16,1010.00 L272.29,1010.25 L272.42,1010.50 L272.55,1010.76 L272.68,1011.01 L272.81,1011.26 L272.94,1011.51 L273.07,1011.76 L273.20,1012.01 L273.34,1012.26 L273.47,1012.51 L273.60,1012.75 L273.73,1013.00 L273.86,1013.24 L273.99,1013.49 L274.12,1013.73 L274.25,1013.97 L274.38,1014.22 L274.51,1014.46 L274.65,1014.70 L274.78,1014.94 L274.91,1015.18 L275.04,1015.41 L275.17,1015.65 L275.30,1015.89 L275.43,1016.12 L275.56,1016.36 L275.69,1016.59 L275.82,1016.83 L275.95,1017.06 L276.09,1017.29 L276.22,1017.53 L276.35,1017.76 L276.48,1017.99 L276.61,1018.22 L276.74,1018.45 L276.87,1018.68 L277.00,1018.90 L277.13,1019.13 L277.26,1019.36 L277.40,1019.59 L277.53,1019.81 L277.66,1020.04 L277.79,1020.26 L277.92,1020.48 L278.05,1020.71 L278.18,1020.93 L278.31,1021.15 L278.44,1021.37 L278.57,1021.59 L278.71,1021.81 L278.84,1022.03 L278.97,1022.25 L279.10,1022.47 L279.23,1022.69 L279.36,1022.91 L279.49,1023.12 L279.62,1023.34 L279.75,1023.55 L279.88,1023.77 L280.02,1023.98 L280.15,1024.20 L280.28,1024.41 L280.41,1024.62 L280.54,1024.84 L280.67,1025.05 L280.80,1025.26 L280.93,1025.47 L281.06,1025.68 L281.19,1025.89 L281.32,1026.10 L281.46,1026.31 L281.59,1026.52 L281.72,1026.73 L281.85,1026.93 L281.98,1027.14 L282.11,1027.35 L282.24,1027.55 L282.37,1027.76 L282.50,1027.96 L282.63,1028.17 L282.77,1028.37 L282.90,1028.58 L283.03,1028.78 L283.16,1028.98 L283.29,1029.18 L283.42,1029.39 L283.55,1029.59 L283.68,1029.79 L283.81,1029.99 L283.94,1030.19 L284.08,1030.39 L284.21,1030.59 L284.34,1030.79 L284.47,1030.98 L284.60,1031.18 L284.73,1031.38 L284.86,1031.58 L284.99,1031.77 L285.12,1031.97 L285.25,1032.17 L285.39,1032.36 L285.52,1032.56 L285.65,1032.75 L285.78,1032.94 L285.91,1033.14 L286.04,1033.33 L286.17,1033.52 L286.30,1033.72 L286.43,1033.91 L286.56,1034.10 L286.70,1034.29 L286.83,1034.48 L286.96,1034.67 L287.09,1034.86 L287.22,1035.05 L287.35,1035.24 L287.48,1035.43 L287.61,1035.62 L287.74,1035.81 L287.87,1036.00 L288.00,1036.19 L288.14,1036.37 L288.27,1036.56 L288.40,1036.75 L288.53,1036.93 L288.66,1037.12 L288.79,1037.30 L288.92,1037.49 L289.05,1037.67 L289.18,1037.86 L289.31,1038.04 L289.45,1038.23 L289.58,1038.41 L289.71,1038.59 L289.84,1038.78 L289.97,1038.96 L290.10,1039.14 L290.23,1039.32 L290.36,1039.50 L290.49,1039.68 L290.62,1039.87 L290.76,1040.05 L290.89,1040.23 L291.02,1040.41 L291.15,1040.59 L291.28,1040.76 L291.41,1040.94 L291.54,1041.12 L291.67,1041.30 L291.80,1041.48 L291.93,1041.66 L292.07,1041.83 L292.20,1042.01 L292.33,1042.19 L292.46,1042.36 L292.59,1042.54 L292.72,1042.71 L292.85,1042.89 L292.98,1043.07 L293.11,1043.24 L293.24,1043.41 L293.37,1043.59 L293.51,1043.76 L293.64,1043.94 L293.77,1044.11 L293.90,1044.28 L294.03,1044.46 L294.16,1044.63 L294.29,1044.80 L294.42,1044.97 L294.55,1045.14 L294.68,1045.32 L294.82,1045.49 L294.95,1045.66 L295.08,1045.83 L295.21,1046.00 L295.34,1046.17 L295.47,1046.34 L295.60,1046.51 L295.73,1046.68 L295.86,1046.85 L295.99,1047.02 L296.13,1047.18 L296.26,1047.35 L296.39,1047.52 L296.52,1047.69 L296.65,1047.86 L296.78,1048.02 L296.91,1048.19 L297.04,1048.36 L297.17,1048.52 L297.30,1048.69 L297.44,1048.85 L297.57,1049.02 L297.70,1049.19 L297.83,1049.35 L297.96,1049.52 L298.09,1049.68 L298.22,1049.84 L298.35,1050.01 L298.48,1050.17 L298.61,1050.34 L298.74,1050.50 L298.88,1050.66 L299.01,1050.83 L299.14,1050.99 L299.27,1051.15 L299.40,1051.31 L299.53,1051.48 L299.66,1051.64 L299.79,1051.80 L299.92,1051.96 L300.05,1052.12 L300.19,1052.28 L300.32,1052.44 L300.45,1052.60 L300.58,1052.76 L300.71,1052.92 L300.84,1053.08 L300.97,1053.24 L301.10,1053.40 L301.23,1053.56 L301.36,1053.72 L301.50,1053.88 L301.63,1054.04 L301.76,1054.19 L301.89,1054.35 L302.02,1054.51 L302.15,1054.67 L302.28,1054.82 L302.41,1054.98 L302.54,1055.14 L302.67,1055.29 L302.81,1055.45 L302.94,1055.61 L303.07,1055.76 L303.20,1055.92 L303.33,1056.07 L303.46,1056.23 L303.59,1056.38 L303.72,1056.54 L303.85,1056.69 L303.98,1056.85 L304.11,1057.00 L304.25,1057.16 L304.38,1057.31 L304.51,1057.46 L304.64,1057.62 L304.77,1057.77 L304.90,1057.92 L305.03,1058.08 L305.16,1058.23 L305.29,1058.38 L305.42,1058.53 L305.56,1058.69 L305.69,1058.84 L305.82,1058.99 L305.95,1059.14 L306.08,1059.29 L306.21,1059.44 L306.34,1059.59 L306.47,1059.75 L306.60,1059.90 L306.73,1060.05 L306.87,1060.20 L307.00,1060.35 L307.13,1060.50 L307.26,1060.65 L307.39,1060.80 L307.52,1060.94 L307.65,1061.09 L307.78,1061.24 L307.91,1061.39 L308.04,1061.54 L308.18,1061.69 L308.31,1061.84 L308.44,1061.98 L308.57,1062.13 L308.70,1062.28 L308.83,1062.43 L308.96,1062.57 L309.09,1062.72 L309.22,1062.87 L309.35,1063.01 L309.49,1063.16 L309.62,1063.31 L309.75,1063.45 L309.88,1063.60 L310.01,1063.74 L310.14,1063.89 L310.27,1064.04 L310.40,1064.18 L310.53,1064.33 L310.66,1064.47 L310.79,1064.61 L310.93,1064.76 L311.06,1064.90 L311.19,1065.05 L311.32,1065.19 L311.45,1065.34 L311.58,1065.48 L311.71,1065.62 L311.84,1065.77 L311.97,1065.91 L312.10,1066.05 L312.24,1066.20 L312.37,1066.34 L312.50,1066.48 L312.63,1066.62 L312.76,1066.77 L312.89,1066.91 L313.02,1067.05 L313.15,1067.19 L313.28,1067.33 L313.41,1067.47 L313.55,1067.61 L313.68,1067.76 L313.81,1067.90 L313.94,1068.04 L314.07,1068.18 L314.20,1068.32 L314.33,1068.46 L314.46,1068.60 L314.59,1068.74 L314.72,1068.88 L314.86,1069.02 L314.99,1069.16 L315.12,1069.30 L315.25,1069.44 L315.38,1069.57 L315.51,1069.71 L315.64,1069.85 L315.77,1069.99 L315.90,1070.13 L316.03,1070.27 L316.16,1070.41 L316.30,1070.54 L316.43,1070.68 L316.56,1070.82 L316.69,1070.96 L316.82,1071.09 L316.95,1071.23 L317.08,1071.37 L317.21,1071.50 L317.34,1071.64 L317.47,1071.78 L317.61,1071.91 L317.74,1072.05 L317.87,1072.19 L318.00,1072.32 L318.13,1072.46 L318.26,1072.59 L318.39,1072.73 L318.52,1072.86 L318.65,1073.00 L318.78,1073.13 L318.92,1073.27 L319.05,1073.40 L319.18,1073.54 L319.31,1073.67 L319.44,1073.81 L319.57,1073.94 L319.70,1074.08 L319.83,1074.21 L319.96,1074.34 L320.09,1074.48 L320.23,1074.61 L320.36,1074.74 L320.49,1074.88 L320.62,1075.01 L320.75,1075.14 L320.88,1075.28 L321.01,1075.41 L321.14,1075.54 L321.27,1075.67 L321.40,1075.81 L321.53,1075.94 L321.67,1076.07 L321.80,1076.20 L321.93,1076.33 L322.06,1076.46 L322.19,1076.60 L322.32,1076.73 L322.45,1076.86 L322.58,1076.99 L322.71,1077.12 L322.84,1077.25 L322.98,1077.38 L323.11,1077.51 L323.24,1077.64 L323.37,1077.77 L323.50,1077.90 L323.63,1078.03 L323.76,1078.16 L323.89,1078.29 L324.02,1078.42 L324.15,1078.55 L324.29,1078.68 L324.42,1078.81 L324.55,1078.94 L324.68,1079.07 L324.81,1079.19 L324.94,1079.32 L325.07,1079.45 L325.20,1079.58 L325.33,1079.71 L325.46,1079.84 L325.60,1079.96 L325.73,1080.09 L325.86,1080.22 L325.99,1080.35 L326.12,1080.47 L326.25,1080.60 L326.38,1080.73 L326.51,1080.86 L326.64,1080.98 L326.77,1081.11 L326.90,1081.24 L327.04,1081.36 L327.17,1081.49 L327.30,1081.62 L327.43,1081.74 L327.56,1081.87 L327.69,1081.99 L327.82,1082.12 L327.95,1082.24 L328.08,1082.37 L328.21,1082.50 L328.35,1082.62 L328.48,1082.75 L328.61,1082.87 L328.74,1083.00 L328.87,1083.12 L329.00,1083.24 L329.13,1083.37 L329.26,1083.49 L329.39,1083.62 L329.52,1083.74 L329.66,1083.87 L329.79,1083.99 L329.92,1084.11 L330.05,1084.24 L330.18,1084.36 L330.31,1084.48 L330.44,1084.61 L330.57,1084.73 L330.70,1084.85 L330.83,1084.98 L330.97,1085.10 L331.10,1085.22 L331.23,1085.34 L331.36,1085.47 L331.49,1085.59 L331.62,1085.71 L331.75,1085.83 L331.88,1085.96 L332.01,1086.08 L332.14,1086.20 L332.28,1086.32 L332.41,1086.44 L332.54,1086.56 L332.67,1086.68 L332.80,1086.81 L332.93,1086.93 L333.06,1087.05 L333.19,1087.17 L333.32,1087.29 L333.45,1087.41 L333.58,1087.53 L333.72,1087.65 L333.85,1087.77 L333.98,1087.89 L334.11,1088.01 L334.24,1088.13 L334.37,1088.25 L334.50,1088.37 L334.63,1088.49 L334.76,1088.61 L334.89,1088.73 L335.03,1088.85 L335.16,1088.97 L335.29,1089.08 L335.42,1089.20 L335.55,1089.32 L335.68,1089.44 L335.81,1089.56 L335.94,1089.68 L336.07,1089.80 L336.20,1089.91 L336.34,1090.03 L336.47,1090.15 L336.60,1090.27 L336.73,1090.38 L336.86,1090.50 L336.99,1090.62 L337.12,1090.74 L337.25,1090.85 L337.38,1090.97 L337.51,1091.09 L337.65,1091.20 L337.78,1091.32 L337.91,1091.44 L338.04,1091.55 L338.17,1091.67 L338.30,1091.79 L338.43,1091.90 L338.56,1092.02 L338.69,1092.14 L338.82,1092.25 L338.95,1092.37 L339.09,1092.48 L339.22,1092.60 L339.35,1092.71 L339.48,1092.83 L339.61,1092.94 L339.74,1093.06 L339.87,1093.17 L340.00,1093.29 L340.13,1093.40 L340.26,1093.52 L340.40,1093.63 L340.53,1093.75 L340.66,1093.86 L340.79,1093.98 L340.92,1094.09 L341.05,1094.20 L341.18,1094.32 L341.31,1094.43 L341.44,1094.55 L341.57,1094.66 L341.71,1094.77 L341.84,1094.89 L341.97,1095.00 L342.10,1095.11 L342.23,1095.23 L342.36,1095.34 L342.49,1095.45 L342.62,1095.56 L342.75,1095.68 L342.88,1095.79 L343.02,1095.90 L343.15,1096.01 L343.28,1096.13 L343.41,1096.24 L343.54,1096.35 L343.67,1096.46 L343.80,1096.57 L343.93,1096.68 L344.06,1096.80 L344.19,1096.91 L344.32,1097.02 L344.46,1097.13 L344.59,1097.24 L344.72,1097.35 L344.85,1097.46 L344.98,1097.57 L345.11,1097.68 L345.24,1097.79 L345.37,1097.91 L345.50,1098.02 L345.63,1098.13 L345.77,1098.24 L345.90,1098.35 L346.03,1098.46 L346.16,1098.57 L346.29,1098.68 L346.42,1098.79 L346.55,1098.89 L346.68,1099.00 L346.81,1099.11 L346.94,1099.22 L347.08,1099.33 L347.21,1099.44 L347.34,1099.55 L347.47,1099.66 L347.60,1099.77 L347.73,1099.88 L347.86,1099.98 L347.99,1100.09 L348.12,1100.20 L348.25,1100.31 L348.39,1100.42 L348.52,1100.53 L348.65,1100.63 L348.78,1100.74 L348.91,1100.85 L349.04,1100.96 L349.17,1101.06 L349.30,1101.17 L349.43,1101.28 L349.56,1101.39 L349.69,1101.49 L349.83,1101.60 L349.96,1101.71 L350.09,1101.81 L350.22,1101.92 L350.35,1102.03 L350.48,1102.13 L350.61,1102.24 L350.74,1102.34 L350.87,1102.45 L351.00,1102.56 L351.14,1102.66 L351.27,1102.77 L351.40,1102.87 L351.53,1102.98 L351.66,1103.09 L351.79,1103.19 L351.92,1103.30 L352.05,1103.40 L352.18,1103.51 L352.31,1103.61 L352.45,1103.72 L352.58,1103.82 L352.71,1103.93 L352.84,1104.03 L352.97,1104.14 L353.10,1104.24 L353.23,1104.34 L353.36,1104.45 L353.49,1104.55 L353.62,1104.66 L353.76,1104.76 L353.89,1104.86 L354.02,1104.97 L354.15,1105.07 L354.28,1105.18 L354.41,1105.28 L354.54,1105.38 L354.67,1105.48 L354.80,1105.59 L354.93,1105.69 L355.07,1105.79 L355.20,1105.90 L355.33,1106.00 L355.46,1106.10 L355.59,1106.20 L355.72,1106.31 L355.85,1106.41 L355.98,1106.51 L356.11,1106.61 L356.24,1106.72 L356.37,1106.82 L356.51,1106.92 L356.64,1107.02 L356.77,1107.12 L356.90,1107.22 L357.03,1107.33 L357.16,1107.43 L357.29,1107.53 L357.42,1107.63 L357.55,1107.73 L357.68,1107.83 L357.82,1107.93 L357.95,1108.03 L358.08,1108.13 L358.21,1108.23 L358.34,1108.33 L358.47,1108.44 L358.60,1108.54 L358.73,1108.64 L358.86,1108.74 L358.99,1108.84 L359.13,1108.94 L359.26,1109.04 L359.39,1109.14 L359.52,1109.23 L359.65,1109.33 L359.78,1109.43 L359.91,1109.53 L360.04,1109.63 L360.17,1109.73 L360.30,1109.83 L360.44,1109.93 L360.57,1110.03 L360.70,1110.13 L360.83,1110.23 L360.96,1110.32 L361.09,1110.42 L361.22,1110.52 L361.35,1110.62 L361.48,1110.72 L361.61,1110.81 L361.74,1110.91 L361.88,1111.01 L362.01,1111.11 L362.14,1111.21 L362.27,1111.30 L362.40,1111.40 L362.53,1111.50 L362.66,1111.60 L362.79,1111.69 L362.92,1111.79 L363.05,1111.89 L363.19,1111.98 L363.32,1112.08 L363.45,1112.18 L363.58,1112.27 L363.71,1112.37 L363.84,1112.47 L363.97,1112.56 L364.10,1112.66 L364.23,1112.75 L364.36,1112.85 L364.50,1112.95 L364.63,1113.04 L364.76,1113.14 L364.89,1113.23 L365.02,1113.33 L365.15,1113.43 L365.28,1113.52 L365.41,1113.62 L365.54,1113.71 L365.67,1113.81 L365.81,1113.90 L365.94,1114.00 L366.07,1114.09 L366.20,1114.19 L366.33,1114.28 L366.46,1114.37 L366.59,1114.47 L366.72,1114.56 L366.85,1114.66 L366.98,1114.75 L367.11,1114.85 L367.25,1114.94 L367.38,1115.03 L367.51,1115.13 L367.64,1115.22 L367.77,1115.31 L367.90,1115.41 L368.03,1115.50 L368.16,1115.59 L368.29,1115.69 L368.42,1115.78 L368.56,1115.87 L368.69,1115.97 L368.82,1116.06 L368.95,1116.15 L369.08,1116.24 L369.21,1116.34 L369.34,1116.43 L369.47,1116.52 L369.60,1116.61 L369.73,1116.71 L369.87,1116.80 L370.00,1116.89 L370.13,1116.98 L370.26,1117.07 L370.39,1117.16 L370.52,1117.26 L370.65,1117.35 L370.78,1117.44 L370.91,1117.53 L371.04,1117.62 L371.18,1117.71 L371.31,1117.80 L371.44,1117.89 L371.57,1117.98 L371.70,1118.08 L371.83,1118.17 L371.96,1118.26 L372.09,1118.35 L372.22,1118.44 L372.35,1118.53 L372.48,1118.62 L372.62,1118.71 L372.75,1118.80 L372.88,1118.89 L373.01,1118.98 L373.14,1119.07 L373.27,1119.16 L373.40,1119.25 L373.53,1119.34 L373.66,1119.42 L373.79,1119.51 L373.93,1119.60 L374.06,1119.69 L374.19,1119.78 L374.32,1119.87 L374.45,1119.96 L374.58,1120.05 L374.71,1120.14 L374.84,1120.22 L374.97,1120.31 L375.10,1120.40 L375.24,1120.49 L375.37,1120.58 L375.50,1120.66 L375.63,1120.75 L375.76,1120.84 L375.89,1120.93 L376.02,1121.02 L376.15,1121.10 L376.28,1121.19 L376.41,1121.28 L376.55,1121.36 L376.68,1121.45 L376.81,1121.54 L376.94,1121.63 L377.07,1121.71 L377.20,1121.80 L377.33,1121.89 L377.46,1121.97 L377.59,1122.06 L377.72,1122.15 L377.86,1122.23 L377.99,1122.32 L378.12,1122.40 L378.25,1122.49 L378.38,1122.58 L378.51,1122.66 L378.64,1122.75 L378.77,1122.83 L378.90,1122.92 L379.03,1123.00 L379.16,1123.09 L379.30,1123.17 L379.43,1123.26 L379.56,1123.35 L379.69,1123.43 L379.82,1123.52 L379.95,1123.60 L380.08,1123.68 L380.21,1123.77 L380.34,1123.85 L380.47,1123.94 L380.61,1124.02 L380.74,1124.11 L380.87,1124.19 L381.00,1124.27 L381.13,1124.36 L381.26,1124.44 L381.39,1124.53 L381.52,1124.61 L381.65,1124.69 L381.78,1124.78 L381.92,1124.86 L382.05,1124.94 L382.18,1125.03 L382.31,1125.11 L382.44,1125.19 L382.57,1125.28 L382.70,1125.36 L382.83,1125.44 L382.96,1125.52 L383.09,1125.61 L383.23,1125.69 L383.36,1125.77 L383.49,1125.85 L383.62,1125.94 L383.75,1126.02 L383.88,1126.10 L384.01,1126.18 L384.14,1126.26 L384.27,1126.35 L384.40,1126.43 L384.53,1126.51 L384.67,1126.59 L384.80,1126.67 L384.93,1126.75 L385.06,1126.83 L385.19,1126.92 L385.32,1127.00 L385.45,1127.08 L385.58,1127.16 L385.71,1127.24 L385.84,1127.32 L385.98,1127.40 L386.11,1127.48 L386.24,1127.56 L386.37,1127.64 L386.50,1127.72 L386.63,1127.80 L386.76,1127.88 L386.89,1127.96 L387.02,1128.04 L387.15,1128.12 L387.29,1128.20 L387.42,1128.28 L387.55,1128.36 L387.68,1128.44 L387.81,1128.52 L387.94,1128.60 L388.07,1128.68 L388.20,1128.76 L388.33,1128.83 L388.46,1128.91 L388.60,1128.99 L388.73,1129.07 L388.86,1129.15 L388.99,1129.23 L389.12,1129.31 L389.25,1129.38 L389.38,1129.46 L389.51,1129.54 L389.64,1129.62 L389.77,1129.70 L389.90,1129.77 L390.04,1129.85 L390.17,1129.93 L390.30,1130.01 L390.43,1130.08 L390.56,1130.16 L390.69,1130.24 L390.82,1130.32 L390.95,1130.39 L391.08,1130.47 L391.21,1130.55 L391.35,1130.62 L391.48,1130.70 L391.61,1130.78 L391.74,1130.85 L391.87,1130.93 L392.00,1131.01 L392.13,1131.08 L392.26,1131.16 L392.39,1131.23 L392.52,1131.31 L392.66,1131.39 L392.79,1131.46 L392.92,1131.54 L393.05,1131.61 L393.18,1131.69 L393.31,1131.76 L393.44,1131.84 L393.57,1131.92 L393.70,1131.99 L393.83,1132.07 L393.97,1132.14 L394.10,1132.21 L394.23,1132.29 L394.36,1132.36 L394.49,1132.44 L394.62,1132.51 L394.75,1132.59 L394.88,1132.66 L395.01,1132.74 L395.14,1132.81 L395.27,1132.88 L395.41,1132.96 L395.54,1133.03 L395.67,1133.11 L395.80,1133.18 L395.93,1133.25 L396.06,1133.33 L396.19,1133.40 L396.32,1133.47 L396.45,1133.55 L396.58,1133.62 L396.72,1133.69 L396.85,1133.77 L396.98,1133.84 L397.11,1133.91 L397.24,1133.98 L397.37,1134.06 L397.50,1134.13 L397.63,1134.20 L397.76,1134.27 L397.89,1134.35 L398.03,1134.42 L398.16,1134.49 L398.29,1134.56 L398.42,1134.63 L398.55,1134.71 L398.68,1134.78 L398.81,1134.85 L398.94,1134.92 L399.07,1134.99 L399.20,1135.06 L399.34,1135.13 L399.47,1135.21 L399.60,1135.28 L399.73,1135.35 L399.86,1135.42 L399.99,1135.49 L400.12,1135.56 L400.25,1135.63 L400.38,1135.70 L400.51,1135.77 L400.65,1135.84 L400.78,1135.91 L400.91,1135.98 L401.04,1136.05 L401.17,1136.12 L401.30,1136.19 L401.43,1136.26 L401.56,1136.33 L401.69,1136.40 L401.82,1136.47 L401.95,1136.54 L402.09,1136.61 L402.22,1136.68 L402.35,1136.75 L402.48,1136.82 L402.61,1136.88 L402.74,1136.95 L402.87,1137.02 L403.00,1137.09 L403.13,1137.16 L403.26,1137.23 L403.40,1137.30 L403.53,1137.36 L403.66,1137.43 L403.79,1137.50 L403.92,1137.57 L404.05,1137.64 L404.18,1137.70 L404.31,1137.77 L404.44,1137.84 L404.57,1137.91 L404.71,1137.98 L404.84,1138.04 L404.97,1138.11 L405.10,1138.18 L405.23,1138.24 L405.36,1138.31 L405.49,1138.38 L405.62,1138.45 L405.75,1138.51 L405.88,1138.58 L406.02,1138.64 L406.15,1138.71 L406.28,1138.78 L406.41,1138.84 L406.54,1138.91 L406.67,1138.98 L406.80,1139.04 L406.93,1139.11 L407.06,1139.17 L407.19,1139.24 L407.32,1139.31 L407.46,1139.37 L407.59,1139.44 L407.72,1139.50 L407.85,1139.57 L407.98,1139.63 L408.11,1139.70 L408.24,1139.76 L408.37,1139.83 L408.50,1139.89 L408.63,1139.96 L408.77,1140.02 L408.90,1140.09 L409.03,1140.15 L409.16,1140.22 L409.29,1140.28 L409.42,1140.34 L409.55,1140.41 L409.68,1140.47 L409.81,1140.54 L409.94,1140.60 L410.08,1140.66 L410.21,1140.73 L410.34,1140.79 L410.47,1140.85 L410.60,1140.92 L410.73,1140.98 L410.86,1141.04 L410.99,1141.11 L411.12,1141.17 L411.25,1141.23 L411.39,1141.30 L411.52,1141.36 L411.65,1141.42 L411.78,1141.48 L411.91,1141.55 L412.04,1141.61 L412.17,1141.67 L412.30,1141.73 L412.43,1141.80 L412.56,1141.86 L412.69,1141.92 L412.83,1141.98 L412.96,1142.04 L413.09,1142.11 L413.22,1142.17 L413.35,1142.23 L413.48,1142.29 L413.61,1142.35 L413.74,1142.41 L413.87,1142.47 L414.00,1142.53 L414.14,1142.60 L414.27,1142.66 L414.40,1142.72 L414.53,1142.78 L414.66,1142.84 L414.79,1142.90 L414.92,1142.96 L415.05,1143.02 L415.18,1143.08 L415.31,1143.14 L415.45,1143.20 L415.58,1143.26 L415.71,1143.32 L415.84,1143.38 L415.97,1143.44 L416.10,1143.50 L416.23,1143.56 L416.36,1143.62 L416.49,1143.68 L416.62,1143.74 L416.76,1143.80 L416.89,1143.86 L417.02,1143.91 L417.15,1143.97 L417.28,1144.03 L417.41,1144.09 L417.54,1144.15 L417.67,1144.21 L417.80,1144.27 L417.93,1144.33 L418.06,1144.38 L418.20,1144.44 L418.33,1144.50 L418.46,1144.56 L418.59,1144.62 L418.72,1144.67 L418.85,1144.73 L418.98,1144.79 L419.11,1144.85 L419.24,1144.90 L419.37,1144.96 L419.51,1145.02 L419.64,1145.08 L419.77,1145.13 L419.90,1145.19 L420.03,1145.25 L420.16,1145.30 L420.29,1145.36 L420.42,1145.42 L420.55,1145.47 L420.68,1145.53 L420.82,1145.59 L420.95,1145.64 L421.08,1145.70 L421.21,1145.76 L421.34,1145.81 L421.47,1145.87 L421.60,1145.92 L421.73,1145.98 L421.86,1146.04 L421.99,1146.09 L422.13,1146.15 L422.26,1146.20 L422.39,1146.26 L422.52,1146.31 L422.65,1146.37 L422.78,1146.42 L422.91,1146.48 L423.04,1146.53 L423.17,1146.59 L423.30,1146.64 L423.44,1146.70 L423.57,1146.75 L423.70,1146.81 L423.83,1146.86 L423.96,1146.91 L424.09,1146.97 L424.22,1147.02 L424.35,1147.08 L424.48,1147.13 L424.61,1147.18 L424.74,1147.24 L424.88,1147.29 L425.01,1147.35 L425.14,1147.40 L425.27,1147.45 L425.40,1147.51 L425.53,1147.56 L425.66,1147.61 L425.79,1147.66 L425.92,1147.72 L426.05,1147.77 L426.19,1147.82 L426.32,1147.88 L426.45,1147.93 L426.58,1147.98 L426.71,1148.03 L426.84,1148.09 L426.97,1148.14 L427.10,1148.19 L427.23,1148.24 L427.36,1148.29 L427.50,1148.35 L427.63,1148.40 L427.76,1148.45 L427.89,1148.50 L428.02,1148.55 L428.15,1148.60 L428.28,1148.66 L428.41,1148.71 L428.54,1148.76 L428.67,1148.81 L428.81,1148.86 L428.94,1148.91 L429.07,1148.96 L429.20,1149.01 L429.33,1149.06 L429.46,1149.11 L429.59,1149.16 L429.72,1149.22 L429.85,1149.27 L429.98,1149.32 L430.11,1149.37 L430.25,1149.42 L430.38,1149.47 L430.51,1149.52 L430.64,1149.57 L430.77,1149.62 L430.90,1149.66 L431.03,1149.71 L431.16,1149.76 L431.29,1149.81 L431.42,1149.86 L431.56,1149.91 L431.69,1149.96 L431.82,1150.01 L431.95,1150.06 L432.08,1150.11 L432.21,1150.16 L432.34,1150.20 L432.47,1150.25 L432.60,1150.30 L432.73,1150.35 L432.87,1150.40 L433.00,1150.45 L433.13,1150.49 L433.26,1150.54 L433.39,1150.59 L433.52,1150.64 L433.65,1150.69 L433.78,1150.73 L433.91,1150.78 L434.04,1150.83 L434.18,1150.88 L434.31,1150.92 L434.44,1150.97 L434.57,1151.02 L434.70,1151.07 L434.83,1151.11 L434.96,1151.16 L435.09,1151.21 L435.22,1151.25 L435.35,1151.30 L435.48,1151.35 L435.62,1151.39 L435.75,1151.44 L435.88,1151.48 L436.01,1151.53 L436.14,1151.58 L436.27,1151.62 L436.40,1151.67 L436.53,1151.71 L436.66,1151.76 L436.79,1151.81 L436.93,1151.85 L437.06,1151.90 L437.19,1151.94 L437.32,1151.99 L437.45,1152.03 L437.58,1152.08 L437.71,1152.12 L437.84,1152.17 L437.97,1152.21 L438.10,1152.26 L438.24,1152.30 L438.37,1152.35 L438.50,1152.39 L438.63,1152.44 L438.76,1152.48 L438.89,1152.53 L439.02,1152.57 L439.15,1152.61 L439.28,1152.66 L439.41,1152.70 L439.55,1152.75 L439.68,1152.79 L439.81,1152.83 L439.94,1152.88 L440.07,1152.92 L440.20,1152.96 L440.33,1153.01 L440.46,1153.05 L440.59,1153.09 L440.72,1153.14 L440.85,1153.18 L440.99,1153.22 L441.12,1153.27 L441.25,1153.31 L441.38,1153.35 L441.51,1153.39 L441.64,1153.44 L441.77,1153.48 L441.90,1153.52 L442.03,1153.56 L442.16,1153.60 L442.30,1153.65 L442.43,1153.69 L442.56,1153.73 L442.69,1153.77 L442.82,1153.81 L442.95,1153.86 L443.08,1153.90 L443.21,1153.94 L443.34,1153.98 L443.47,1154.02 L443.61,1154.06 L443.74,1154.10 L443.87,1154.14 L444.00,1154.19 L444.13,1154.23 L444.26,1154.27 L444.39,1154.31 L444.52,1154.35 L444.65,1154.39 L444.78,1154.43 L444.92,1154.47 L445.05,1154.51 L445.18,1154.55 L445.31,1154.59 L445.44,1154.63 L445.57,1154.67 L445.70,1154.71 L445.83,1154.75 L445.96,1154.79 L446.09,1154.83 L446.23,1154.87 L446.36,1154.91 L446.49,1154.95 L446.62,1154.99 L446.75,1155.03 L446.88,1155.06 L447.01,1155.10 L447.14,1155.14 L447.27,1155.18 L447.40,1155.22 L447.53,1155.26 L447.67,1155.30 L447.80,1155.34 L447.93,1155.37 L448.06,1155.41 L448.19,1155.45 L448.32,1155.49 L448.45,1155.53 L448.58,1155.56 L448.71,1155.60 L448.84,1155.64 L448.98,1155.68 L449.11,1155.72 L449.24,1155.75 L449.37,1155.79 L449.50,1155.83 L449.63,1155.87 L449.76,1155.90 L449.89,1155.94 L450.02,1155.98 L450.15,1156.01 L450.29,1156.05 L450.42,1156.09 L450.55,1156.12 L450.68,1156.16 L450.81,1156.20 L450.94,1156.23 L451.07,1156.27 L451.20,1156.31 L451.33,1156.34 L451.46,1156.38 L451.60,1156.41 L451.73,1156.45 L451.86,1156.49 L451.99,1156.52 L452.12,1156.56 L452.25,1156.59 L452.38,1156.63 L452.51,1156.66 L452.64,1156.70 L452.77,1156.73 L452.90,1156.77 L453.04,1156.80 L453.17,1156.84 L453.30,1156.87 L453.43,1156.91 L453.56,1156.94 L453.69,1156.98 L453.82,1157.01 L453.95,1157.05 L454.08,1157.08 L454.21,1157.12 L454.35,1157.15 L454.48,1157.19 L454.61,1157.22 L454.74,1157.25 L454.87,1157.29 L455.00,1157.32 L455.13,1157.35 L455.26,1157.39 L455.39,1157.42 L455.52,1157.46 L455.66,1157.49 L455.79,1157.52 L455.92,1157.56 L456.05,1157.59 L456.18,1157.62 L456.31,1157.66 L456.44,1157.69 L456.57,1157.72 L456.70,1157.75 L456.83,1157.79 L456.97,1157.82 L457.10,1157.85 L457.23,1157.88 L457.36,1157.92 L457.49,1157.95 L457.62,1157.98 L457.75,1158.01 L457.88,1158.04 L458.01,1158.08 L458.14,1158.11 L458.27,1158.14 L458.41,1158.17 L458.54,1158.20 L458.67,1158.24 L458.80,1158.27 L458.93,1158.30 L459.06,1158.33 L459.19,1158.36 L459.32,1158.39 L459.45,1158.42 L459.58,1158.45 L459.72,1158.48 L459.85,1158.52 L459.98,1158.55 L460.11,1158.58 L460.24,1158.61 L460.37,1158.64 L460.50,1158.67 L460.63,1158.70 L460.76,1158.73 L460.89,1158.76 L461.03,1158.79 L461.16,1158.82 L461.29,1158.85 L461.42,1158.88 L461.55,1158.91 L461.68,1158.94 L461.81,1158.97 L461.94,1159.00 L462.07,1159.03 L462.20,1159.06 L462.34,1159.08 L462.47,1159.11 L462.60,1159.14 L462.73,1159.17 L462.86,1159.20 L462.99,1159.23 L463.12,1159.26 L463.25,1159.29 L463.38,1159.32 L463.51,1159.34 L463.64,1159.37 L463.78,1159.40 L463.91,1159.43 L464.04,1159.46 L464.17,1159.49 L464.30,1159.51 L464.43,1159.54 L464.56,1159.57 L464.69,1159.60 L464.82,1159.62 L464.95,1159.65 L465.09,1159.68 L465.22,1159.71 L465.35,1159.73 L465.48,1159.76 L465.61,1159.79 L465.74,1159.82 L465.87,1159.84 L466.00,1159.87 L466.13,1159.90 L466.26,1159.92 L466.40,1159.95 L466.53,1159.98 L466.66,1160.00 L466.79,1160.03 L466.92,1160.06 L467.05,1160.08 L467.18,1160.11 L467.31,1160.14 L467.44,1160.16 L467.57,1160.19 L467.71,1160.21 L467.84,1160.24 L467.97,1160.26 L468.10,1160.29 L468.23,1160.32 L468.36,1160.34 L468.49,1160.37 L468.62,1160.39 L468.75,1160.42 L468.88,1160.44 L469.02,1160.47 L469.15,1160.49 L469.28,1160.52 L469.41,1160.54 L469.54,1160.57 L469.67,1160.59 L469.80,1160.62 L469.93,1160.64 L470.06,1160.67 L470.19,1160.69 L470.32,1160.71 L470.46,1160.74 L470.59,1160.76 L470.72,1160.79 L470.85,1160.81 L470.98,1160.84 L471.11,1160.86 L471.24,1160.88 L471.37,1160.91 L471.50,1160.93 L471.63,1160.95 L471.77,1160.98 L471.90,1161.00 L472.03,1161.02 L472.16,1161.05 L472.29,1161.07 L472.42,1161.09 L472.55,1161.12 L472.68,1161.14 L472.81,1161.16 L472.94,1161.18 L473.08,1161.21 L473.21,1161.23 L473.34,1161.25 L473.47,1161.27 L473.60,1161.30 L473.73,1161.32 L473.86,1161.34 L473.99,1161.36 L474.12,1161.39 L474.25,1161.41 L474.39,1161.43 L474.52,1161.45 L474.65,1161.47 L474.78,1161.49 L474.91,1161.52 L475.04,1161.54 L475.17,1161.56 L475.30,1161.58 L475.43,1161.60 L475.56,1161.62 L475.69,1161.64 L475.83,1161.67 L475.96,1161.69 L476.09,1161.71 L476.22,1161.73 L476.35,1161.75 L476.48,1161.77 L476.61,1161.79 L476.74,1161.81 L476.87,1161.83 L477.00,1161.85 L477.14,1161.87 L477.27,1161.89 L477.40,1161.91 L477.53,1161.93 L477.66,1161.95 L477.79,1161.97 L477.92,1161.99 L478.05,1162.01 L478.18,1162.03 L478.31,1162.05 L478.45,1162.07 L478.58,1162.09 L478.71,1162.11 L478.84,1162.13 L478.97,1162.15 L479.10,1162.17 L479.23,1162.18 L479.36,1162.20 L479.49,1162.22 L479.62,1162.24 L479.76,1162.26 L479.89,1162.28 L480.02,1162.30 L480.15,1162.32 L480.28,1162.33 L480.41,1162.35 L480.54,1162.37 L480.67,1162.39 L480.80,1162.41 L480.93,1162.42 L481.06,1162.44 L481.20,1162.46 L481.33,1162.48 L481.46,1162.50 L481.59,1162.51 L481.72,1162.53 L481.85,1162.55 L481.98,1162.57 L482.11,1162.58 L482.24,1162.60 L482.37,1162.62 L482.51,1162.63 L482.64,1162.65 L482.77,1162.67 L482.90,1162.69 L483.03,1162.70 L483.16,1162.72 L483.29,1162.74 L483.42,1162.75 L483.55,1162.77 L483.68,1162.78 L483.82,1162.80 L483.95,1162.82 L484.08,1162.83 L484.21,1162.85 L484.34,1162.87 L484.47,1162.88 L484.60,1162.90 L484.73,1162.91 L484.86,1162.93 L484.99,1162.94 L485.13,1162.96 L485.26,1162.98 L485.39,1162.99 L485.52,1163.01 L485.65,1163.02 L485.78,1163.04 L485.91,1163.05 L486.04,1163.07 L486.17,1163.08 L486.30,1163.10 L486.43,1163.11 L486.57,1163.13 L486.70,1163.14 L486.83,1163.16 L486.96,1163.17 L487.09,1163.18 L487.22,1163.20 L487.35,1163.21 L487.48,1163.23 L487.61,1163.24 L487.74,1163.26 L487.88,1163.27 L488.01,1163.28 L488.14,1163.30 L488.27,1163.31 L488.40,1163.32 L488.53,1163.34 L488.66,1163.35 L488.79,1163.37 L488.92,1163.38 L489.05,1163.39 L489.19,1163.41 L489.32,1163.42 L489.45,1163.43 L489.58,1163.44 L489.71,1163.46 L489.84,1163.47 L489.97,1163.48 L490.10,1163.50 L490.23,1163.51 L490.36,1163.52 L490.50,1163.53 L490.63,1163.55 L490.76,1163.56 L490.89,1163.57 L491.02,1163.58 L491.15,1163.60 L491.28,1163.61 L491.41,1163.62 L491.54,1163.63 L491.67,1163.64 L491.81,1163.65 L491.94,1163.67 L492.07,1163.68 L492.20,1163.69 L492.33,1163.70 L492.46,1163.71 L492.59,1163.72 L492.72,1163.74 L492.85,1163.75 L492.98,1163.76 L493.11,1163.77 L493.25,1163.78 L493.38,1163.79 L493.51,1163.80 L493.64,1163.81 L493.77,1163.82 L493.90,1163.83 L494.03,1163.84 L494.16,1163.85 L494.29,1163.86 L494.42,1163.87 L494.56,1163.89 L494.69,1163.90 L494.82,1163.91 L494.95,1163.92 L495.08,1163.93 L495.21,1163.94 L495.34,1163.94 L495.47,1163.95 L495.60,1163.96 L495.73,1163.97 L495.87,1163.98 L496.00,1163.99 L496.13,1164.00 L496.26,1164.01 L496.39,1164.02 L496.52,1164.03 L496.65,1164.04 L496.78,1164.05 L496.91,1164.06 L497.04,1164.07 L497.18,1164.07 L497.31,1164.08 L497.44,1164.09 L497.57,1164.10 L497.70,1164.11 L497.83,1164.12 L497.96,1164.13 L498.09,1164.13 L498.22,1164.14 L498.35,1164.15 L498.48,1164.16 L498.62,1164.17 L498.75,1164.17 L498.88,1164.18 L499.01,1164.19 L499.14,1164.20 L499.27,1164.21 L499.40,1164.21 L499.53,1164.22 L499.66,1164.23 L499.79,1164.24 L499.93,1164.24 L500.06,1164.25 L500.19,1164.26 L500.32,1164.26 L500.45,1164.27 L500.58,1164.28 L500.71,1164.28 L500.84,1164.29 L500.97,1164.30 L501.10,1164.30 L501.24,1164.31 L501.37,1164.32 L501.50,1164.32 L501.63,1164.33 L501.76,1164.34 L501.89,1164.34 L502.02,1164.35 L502.15,1164.36 L502.28,1164.36 L502.41,1164.37 L502.55,1164.37 L502.68,1164.38 L502.81,1164.38 L502.94,1164.39 L503.07,1164.40 L503.20,1164.40" fill="none" stroke="#000078" stroke-width="2.6" stroke-linejoin="round" clip-path="url(#cc)" stroke-dasharray="8.2 4.1"/>
<rect x="119.1" y="1088.4" width="173.7" height="118.3" rx="4.5" ry="4.5" fill="#fff" fill-opacity="0.8" stroke="#c2c2c2" stroke-width="1.6"/>
<line x1="126.20" y1="1104.20" x2="164.50" y2="1104.20" stroke="#dc0d18" stroke-width="2.6" />
<line x1="126.20" y1="1132.50" x2="164.50" y2="1132.50" stroke="#dc0d18" stroke-width="2.6"  stroke-dasharray="8.2 4.1"/>
<line x1="126.20" y1="1160.80" x2="164.50" y2="1160.80" stroke="#000078" stroke-width="2.6" />
<line x1="126.20" y1="1189.00" x2="164.50" y2="1189.00" stroke="#000078" stroke-width="2.6"  stroke-dasharray="8.2 4.1"/>
<rect x="110.40" y="833.20" width="392.80" height="383.60" fill="none" stroke="#000" stroke-width="1.6"/>
<line x1="101.70" y1="1216.80" x2="110.40" y2="1216.80" stroke="#000" stroke-width="1.6" />
<line x1="105.60" y1="1187.93" x2="110.40" y2="1187.93" stroke="#000" stroke-width="1.3" />
<line x1="105.60" y1="1171.04" x2="110.40" y2="1171.04" stroke="#000" stroke-width="1.3" />
<line x1="105.60" y1="1159.06" x2="110.40" y2="1159.06" stroke="#000" stroke-width="1.3" />
<line x1="105.60" y1="1149.77" x2="110.40" y2="1149.77" stroke="#000" stroke-width="1.3" />
<line x1="105.60" y1="1142.18" x2="110.40" y2="1142.18" stroke="#000" stroke-width="1.3" />
<line x1="105.60" y1="1135.76" x2="110.40" y2="1135.76" stroke="#000" stroke-width="1.3" />
<line x1="105.60" y1="1130.19" x2="110.40" y2="1130.19" stroke="#000" stroke-width="1.3" />
<line x1="105.60" y1="1125.29" x2="110.40" y2="1125.29" stroke="#000" stroke-width="1.3" />
<line x1="101.70" y1="1120.90" x2="110.40" y2="1120.90" stroke="#000" stroke-width="1.6" />
<line x1="105.60" y1="1092.03" x2="110.40" y2="1092.03" stroke="#000" stroke-width="1.3" />
<line x1="105.60" y1="1075.14" x2="110.40" y2="1075.14" stroke="#000" stroke-width="1.3" />
<line x1="105.60" y1="1063.16" x2="110.40" y2="1063.16" stroke="#000" stroke-width="1.3" />
<line x1="105.60" y1="1053.87" x2="110.40" y2="1053.87" stroke="#000" stroke-width="1.3" />
<line x1="105.60" y1="1046.28" x2="110.40" y2="1046.28" stroke="#000" stroke-width="1.3" />
<line x1="105.60" y1="1039.86" x2="110.40" y2="1039.86" stroke="#000" stroke-width="1.3" />
<line x1="105.60" y1="1034.29" x2="110.40" y2="1034.29" stroke="#000" stroke-width="1.3" />
<line x1="105.60" y1="1029.39" x2="110.40" y2="1029.39" stroke="#000" stroke-width="1.3" />
<line x1="101.70" y1="1025.00" x2="110.40" y2="1025.00" stroke="#000" stroke-width="1.6" />
<line x1="105.60" y1="996.13" x2="110.40" y2="996.13" stroke="#000" stroke-width="1.3" />
<line x1="105.60" y1="979.24" x2="110.40" y2="979.24" stroke="#000" stroke-width="1.3" />
<line x1="105.60" y1="967.26" x2="110.40" y2="967.26" stroke="#000" stroke-width="1.3" />
<line x1="105.60" y1="957.97" x2="110.40" y2="957.97" stroke="#000" stroke-width="1.3" />
<line x1="105.60" y1="950.38" x2="110.40" y2="950.38" stroke="#000" stroke-width="1.3" />
<line x1="105.60" y1="943.96" x2="110.40" y2="943.96" stroke="#000" stroke-width="1.3" />
<line x1="105.60" y1="938.39" x2="110.40" y2="938.39" stroke="#000" stroke-width="1.3" />
<line x1="105.60" y1="933.49" x2="110.40" y2="933.49" stroke="#000" stroke-width="1.3" />
<line x1="101.70" y1="929.10" x2="110.40" y2="929.10" stroke="#000" stroke-width="1.6" />
<line x1="105.60" y1="900.23" x2="110.40" y2="900.23" stroke="#000" stroke-width="1.3" />
<line x1="105.60" y1="883.34" x2="110.40" y2="883.34" stroke="#000" stroke-width="1.3" />
<line x1="105.60" y1="871.36" x2="110.40" y2="871.36" stroke="#000" stroke-width="1.3" />
<line x1="105.60" y1="862.07" x2="110.40" y2="862.07" stroke="#000" stroke-width="1.3" />
<line x1="105.60" y1="854.48" x2="110.40" y2="854.48" stroke="#000" stroke-width="1.3" />
<line x1="105.60" y1="848.06" x2="110.40" y2="848.06" stroke="#000" stroke-width="1.3" />
<line x1="105.60" y1="842.49" x2="110.40" y2="842.49" stroke="#000" stroke-width="1.3" />
<line x1="105.60" y1="837.59" x2="110.40" y2="837.59" stroke="#000" stroke-width="1.3" />
<line x1="101.70" y1="833.20" x2="110.40" y2="833.20" stroke="#000" stroke-width="1.6" />
<line x1="110.40" y1="1216.80" x2="110.40" y2="1225.50" stroke="#000" stroke-width="1.6" />
<line x1="376.32" y1="1216.80" x2="376.32" y2="1225.50" stroke="#000" stroke-width="1.6" />
<line x1="190.45" y1="1216.80" x2="190.45" y2="1221.60" stroke="#000" stroke-width="1.3" />
<line x1="237.28" y1="1216.80" x2="237.28" y2="1221.60" stroke="#000" stroke-width="1.3" />
<line x1="270.50" y1="1216.80" x2="270.50" y2="1221.60" stroke="#000" stroke-width="1.3" />
<line x1="296.27" y1="1216.80" x2="296.27" y2="1221.60" stroke="#000" stroke-width="1.3" />
<line x1="317.33" y1="1216.80" x2="317.33" y2="1221.60" stroke="#000" stroke-width="1.3" />
<line x1="335.13" y1="1216.80" x2="335.13" y2="1221.60" stroke="#000" stroke-width="1.3" />
<line x1="350.55" y1="1216.80" x2="350.55" y2="1221.60" stroke="#000" stroke-width="1.3" />
<line x1="364.15" y1="1216.80" x2="364.15" y2="1221.60" stroke="#000" stroke-width="1.3" />
<line x1="456.37" y1="1216.80" x2="456.37" y2="1221.60" stroke="#000" stroke-width="1.3" />
<line x1="503.20" y1="1216.80" x2="503.20" y2="1221.60" stroke="#000" stroke-width="1.3" />
<rect x="114.5" y="133.6" width="108.0" height="41.6" rx="4.5" ry="4.5" fill="#fff" fill-opacity="0.8" stroke="#c2c2c2" stroke-width="1.6"/>
<line x1="122.90" y1="152.80" x2="174.00" y2="152.80" stroke="#000" stroke-width="3.6" />
<rect x="114.5" y="347.6" width="101.3" height="41.6" rx="4.5" ry="4.5" fill="#fff" fill-opacity="0.8" stroke="#c2c2c2" stroke-width="1.6"/>
<line x1="122.90" y1="366.80" x2="174.00" y2="366.80" stroke="#000" stroke-width="3.6" />
<rect x="330.7" y="558.6" width="172.1" height="44.3" rx="4.5" ry="4.5" fill="#fff" fill-opacity="0.8" stroke="#c2c2c2" stroke-width="1.6"/>
<line x1="339.60" y1="580.30" x2="391.20" y2="580.30" stroke="#1f77b4" stroke-width="2.4" />
<g id="txt" style='font-family:"Liberation Serif","DejaVu Serif",serif;fill:#000;stroke:#000;stroke-width:0.15'>
<text id="a0y0.0_0" font-size="22" transform="translate(55.15,196.05) scale(1.0314,1.0216)" style="stroke-width:0.14">0.0</text>
<text id="a0y0.5_0" font-size="22" transform="translate(55.17,106.94) scale(1.0314,1.0216)" style="stroke-width:0.14">0.5</text>
<text id="a0y1.0_0" font-size="22" transform="translate(52.96,16.85) scale(1.1124,1.0216)" style="stroke-width:0.10">1.0</text>
<text id="a1y0.0_0" font-size="22" transform="translate(55.15,409.56) scale(1.0314,1.0216)" style="stroke-width:0.14">0.0</text>
<text id="a1y0.5_0" font-size="22" transform="translate(55.17,320.98) scale(1.0314,1.0216)" style="stroke-width:0.14">0.5</text>
<text id="a1y1.0_0" font-size="22" transform="translate(52.96,231.29) scale(1.1124,1.0216)" style="stroke-width:0.10">1.0</text>
<text id="ax0.0_0" font-size="22" transform="translate(87.18,434.55) scale(1.0783,1.0891)">0.0</text>
<text id="ax0.2_0" font-size="22" transform="translate(168.41,434.55) scale(1.0879,1.0891)">0.2</text>
<text id="ax0.4_0" font-size="22" transform="translate(248.78,434.55) scale(1.0504,1.0891)">0.4</text>
<text id="ax0.6_0" font-size="22" transform="translate(329.34,434.55) scale(1.0824,1.0891)">0.6</text>
<text id="ax0.8_0" font-size="22" transform="translate(409.55,434.55) scale(1.0838,1.0891)">0.8</text>
<text id="ax1.0_0" font-size="22" transform="translate(488.70,434.55) scale(1.0851,1.0891)">1.0</text>
<text id="alab1_0" font-size="22" transform="translate(37.58,123.69) rotate(-90) scale(0.9584,1.0000)" font-style="italic" font-family="DejaVu Serif, serif">T</text>
<text id="alab1_1" font-size="33" transform="translate(37.58,105.27) rotate(-90) scale(0.8274,1.0000)" y="5.3">/</text>
<text id="alab1_2" font-size="22" transform="translate(37.58,94.65) rotate(-90) scale(0.9153,1.0000)" font-style="italic" font-family="DejaVu Serif, serif">T</text>
<text id="alab1_3" font-size="16.5" transform="translate(37.58,80.52) rotate(-90) scale(0.9436,1.0000)" y="4.2">0</text>
<text id="alab2_0" font-size="22" transform="translate(37.73,338.49) rotate(-90) scale(1.2365,1.0000)" font-style="italic" style="stroke-width:0.01">n</text>
<text id="alab2_1" font-size="33" transform="translate(37.73,321.13) rotate(-90) scale(0.7942,1.0000)" y="5.5">/</text>
<text id="alab2_2" font-size="22" transform="translate(37.73,311.23) rotate(-90) scale(1.3170,1.0000)" font-style="italic" style="stroke-width:0.00">n</text>
<text id="alab2_3" font-size="16.5" transform="translate(37.73,296.31) rotate(-90) scale(0.9399,1.0000)" y="4.2">0</text>
<text id="aleg1_0" font-size="22" transform="translate(192.18,157.28) scale(0.9912,1.0000)" font-style="italic" font-family="DejaVu Serif, serif">T</text>
<text id="aleg1_1" font-size="16.5" transform="translate(206.10,157.28) scale(1.4520,1.0000)" y="4.2" font-style="italic" style="stroke-width:0.00">i</text>
<text id="aleg2_0" font-size="22" transform="translate(191.34,374.01) scale(1.2960,1.0000)" font-style="italic" style="stroke-width:0.00">n</text>
<text id="axlab_0" font-size="22" transform="translate(264.05,466.65) scale(1.1881,1.0000)" font-style="italic" style="stroke-width:0.04">x</text>
<text id="axlab_1" font-size="24" transform="translate(283.28,466.65) scale(1.3235,1.0000)" style="stroke-width:0.00">=</text>
<text id="axlab_2" font-size="22" transform="translate(308.11,466.65) scale(1.1614,1.0000)" font-style="italic" style="stroke-width:0.05">r</text>
<text id="axlab_3" font-size="28" transform="translate(318.21,466.65) scale(1.5000,1.0000)" y="5.4" style="stroke-width:0.00">/</text>
<text id="axlab_4" font-size="22" transform="translate(332.39,466.65) scale(1.0290,1.0000)" font-style="italic" style="stroke-width:0.13">a</text>
<text id="acap_0" font-size="20" transform="translate(295.10,510.70) scale(0.9578,0.8888)" style="stroke-width:0.15">(a)</text>
<text id="by0.00_0" font-size="22" transform="translate(38.11,690.28) scale(1.1646,1.1872)">0.00</text>
<text id="by0.25_0" font-size="22" transform="translate(38.18,623.43) scale(1.1606,1.1872)">0.25</text>
<text id="by0.50_0" font-size="22" transform="translate(38.11,555.63) scale(1.1646,1.1872)">0.50</text>
<text id="bx1_0" font-size="22" transform="translate(201.37,715.21) scale(1.0204,1.1244)">1</text>
<text id="bx10_0" font-size="22" transform="translate(401.87,714.65) scale(1.1384,1.1244)" style="stroke-width:0.14">10</text>
<text id="blab_0" font-size="22" transform="translate(19.55,626.06) rotate(-90) scale(0.8530,1.0000)" font-style="italic" font-family="DejaVu Serif, serif">λ</text>
<text id="blab_1" font-size="16.5" transform="translate(19.55,611.11) rotate(-90) scale(0.8629,1.0000)" y="4.2" font-style="italic" font-family="DejaVu Serif, serif">F</text>
<text id="bleg_0" font-size="22" transform="translate(410.71,586.08) scale(0.9816,1.0000)" font-style="italic" font-family="DejaVu Serif, serif">λ</text>
<text id="bleg_1" font-size="16.5" transform="translate(423.65,586.08) scale(1.0007,1.0000)" y="4.2" font-style="italic" font-family="DejaVu Serif, serif" style="stroke-width:0.15">F</text>
<text id="bleg_2" font-size="25" transform="translate(441.46,586.08) scale(0.7000,1.0000)">(</text>
<text id="bleg_3" font-size="22" transform="translate(449.82,586.08) scale(1.0139,1.0000)" font-style="italic" font-family="DejaVu Serif, serif" style="stroke-width:0.14">T</text>
<text id="bleg_4" font-size="16.5" transform="translate(463.04,586.08) scale(1.3969,1.0000)" y="4.2" style="stroke-width:0.00"><tspan font-style="italic">i</tspan>0</text>
<text id="bleg_5" font-size="25" transform="translate(484.01,586.08) scale(0.7000,1.0000)">)</text>
<text id="bxlab_0" font-size="22" transform="translate(256.17,746.25) scale(1.1601,1.0000)" font-style="italic" font-family="DejaVu Serif, serif" style="stroke-width:0.05">T</text>
<text id="bxlab_1" font-size="16.5" transform="translate(271.81,746.25) scale(1.2469,1.0000)" y="4.2" style="stroke-width:0.00"><tspan font-style="italic">i</tspan>0</text>
<text id="bxlab_2" font-size="22" transform="translate(298.25,746.25) scale(1.1355,1.0000)" style="stroke-width:0.07"><tspan font-size="24">(</tspan>keV<tspan font-size="24">)</tspan></text>
<text id="bcap_0" font-size="20" transform="translate(292.35,785.86) scale(0.9563,0.8888)" style="stroke-width:0.15">(b)</text>
<text id="cy19_0" font-size="22" transform="translate(49.97,1224.64) scale(1.0499,0.9675)" style="stroke-width:0.10">10</text>
<text id="cy19_1" font-size="14" transform="translate(73.11,1224.64) scale(1.3269,0.9675)" y="-8.3" style="stroke-width:0.00">19</text>
<text id="cy20_0" font-size="22" transform="translate(49.97,1128.85) scale(1.0499,0.9675)" style="stroke-width:0.10">10</text>
<text id="cy20_1" font-size="14" transform="translate(73.75,1128.85) scale(1.2826,0.9675)" y="-8.3" style="stroke-width:0.00">20</text>
<text id="cy21_0" font-size="22" transform="translate(49.97,1032.64) scale(1.0499,0.9675)" style="stroke-width:0.10">10</text>
<text id="cy21_1" font-size="14" transform="translate(74.36,1032.64) scale(1.2881,0.9675)" y="-8.3" style="stroke-width:0.00">21</text>
<text id="cy22_0" font-size="22" transform="translate(49.97,936.96) scale(1.0499,0.9675)" style="stroke-width:0.10">10</text>
<text id="cy22_1" font-size="14" transform="translate(73.97,936.96) scale(1.2679,0.9675)" y="-8.3" style="stroke-width:0.00">22</text>
<text id="cy23_0" font-size="22" transform="translate(49.97,840.97) scale(1.0499,0.9675)" style="stroke-width:0.10">10</text>
<text id="cy23_1" font-size="14" transform="translate(73.77,840.97) scale(1.2241,0.9675)" y="-8.3" style="stroke-width:0.00">23</text>
<text id="cx1_0" font-size="22" transform="translate(102.63,1249.79) scale(0.9153,1.1244)">1</text>
<text id="cx10_0" font-size="22" transform="translate(362.59,1249.42) scale(1.1094,1.1244)">10</text>
<text id="clab_0" font-size="22" transform="translate(33.47,1089.13) rotate(-90) scale(1.0706,1.0000)" font-style="italic" style="stroke-width:0.11">n</text>
<text id="clab_1" font-size="16.5" transform="translate(33.47,1075.01) rotate(-90) scale(1.0104,1.0000)" y="4.2" style="stroke-width:0.14">0</text>
<text id="clab_2" font-size="22" transform="translate(33.47,1064.85) rotate(-90) scale(0.9826,1.0000)" font-style="italic">τ</text>
<text id="clab_3" font-size="16.5" transform="translate(33.47,1054.21) rotate(-90) scale(1.0678,1.0000)" y="4.2" font-style="italic" font-family="DejaVu Serif, serif" style="stroke-width:0.11">E</text>
<text id="clab_4" font-size="25.5" transform="translate(33.47,1032.43) rotate(-90) scale(1.0601,1.0000)" style="stroke-width:0.11">(</text>
<text id="clab_5" font-size="22" transform="translate(33.47,1023.08) rotate(-90) scale(1.0807,1.0000)" style="stroke-width:0.10">m</text>
<text id="clab_6" font-size="15.4" transform="translate(33.47,1002.44) rotate(-90) scale(1.3749,1.0000)" y="-9.5" style="stroke-width:0.00">−3</text>
<text id="clab_7" font-size="22" transform="translate(33.47,978.55) rotate(-90) scale(0.9020,1.0000)">s</text>
<text id="clab_8" font-size="25.5" transform="translate(33.47,968.42) rotate(-90) scale(0.7000,1.0000)">)</text>
<text id="cxlab_0" font-size="22" transform="translate(261.62,1279.10) scale(1.0721,1.0000)" font-style="italic" font-family="DejaVu Serif, serif" style="stroke-width:0.11">T</text>
<text id="cxlab_1" font-size="16.5" transform="translate(276.72,1279.10) scale(0.9918,1.0000)" y="4.2">0</text>
<text id="cxlab_2" font-size="22" transform="translate(294.42,1279.10) scale(1.0506,1.0000)" style="stroke-width:0.12"><tspan font-size="24">(</tspan>keV<tspan font-size="24">)</tspan></text>
<text id="ccap_0" font-size="20" transform="translate(292.16,1316.44) scale(1.0334,0.8888)" style="stroke-width:0.10">(c)</text>
<text id="cl1_0" font-size="18" transform="translate(179.25,1108.33) scale(0.9469,1.0600)" font-style="italic" font-family="DejaVu Serif, serif">Q</text>
<text id="cl1_1" font-size="14.0" transform="translate(194.90,1108.33) scale(1.2068,1.0600)" y="3.4" font-weight="bold" style="stroke-width:0.07">fuel</text>
<text id="cl1_2" font-size="20" transform="translate(228.85,1108.33) scale(1.2410,1.0600)" y="1.3" style="stroke-width:0.05">=</text>
<text id="cl1_3" font-size="20.5" transform="translate(249.59,1108.33) scale(1.3495,1.0600)" y="0.9" style="stroke-width:0.00">∞</text>
<text id="cl2_0" font-size="18" transform="translate(178.76,1136.66) scale(0.8409,1.0600)">⟨</text>
<text id="cl2_1" font-size="18" transform="translate(185.38,1136.66) scale(0.9312,1.0600)" font-style="italic" font-family="DejaVu Serif, serif">Q</text>
<text id="cl2_2" font-size="14.0" transform="translate(200.86,1136.66) scale(1.1938,1.0600)" y="3.4" font-weight="bold" style="stroke-width:0.07">fuel</text>
<text id="cl2_3" font-size="18" transform="translate(229.44,1136.66) scale(0.7420,1.0600)">⟩</text>
<text id="cl2_4" font-size="20" transform="translate(242.93,1136.66) scale(1.3485,1.0600)" y="1.3" style="stroke-width:0.00">=</text>
<text id="cl2_5" font-size="20.5" transform="translate(264.18,1136.66) scale(1.2623,1.0600)" y="0.9" style="stroke-width:0.04">∞</text>
<text id="cl3_0" font-size="18" transform="translate(179.25,1164.91) scale(0.9469,1.0600)" font-style="italic" font-family="DejaVu Serif, serif">Q</text>
<text id="cl3_1" font-size="14.0" transform="translate(194.90,1164.91) scale(1.2068,1.0600)" y="3.4" font-weight="bold" style="stroke-width:0.07">fuel</text>
<text id="cl3_2" font-size="20" transform="translate(228.85,1164.91) scale(1.2410,1.0600)" y="1.3" style="stroke-width:0.05">=</text>
<text id="cl3_3" font-size="18" transform="translate(250.67,1164.91) scale(0.9415,1.0600)">1</text>
<text id="cl4_0" font-size="18" transform="translate(178.76,1193.05) scale(0.8409,1.0600)">⟨</text>
<text id="cl4_1" font-size="18" transform="translate(185.38,1193.05) scale(0.9312,1.0600)" font-style="italic" font-family="DejaVu Serif, serif">Q</text>
<text id="cl4_2" font-size="14.0" transform="translate(200.86,1193.05) scale(1.1938,1.0600)" y="3.4" font-weight="bold" style="stroke-width:0.07">fuel</text>
<text id="cl4_3" font-size="18" transform="translate(229.44,1193.05) scale(0.7420,1.0600)">⟩</text>
<text id="cl4_4" font-size="20" transform="translate(242.93,1193.05) scale(1.3485,1.0600)" y="1.3" style="stroke-width:0.00">=</text>
<text id="cl4_5" font-size="18" transform="translate(264.14,1193.05) scale(1.0034,1.0600)">1</text>
</g>
</svg></body></html>
